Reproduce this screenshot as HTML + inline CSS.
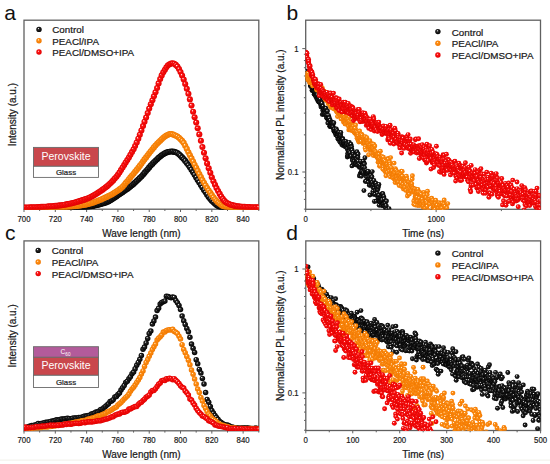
<!DOCTYPE html>
<html><head><meta charset="utf-8"><title>PL figure</title><style>
html,body{margin:0;padding:0;background:#fff;width:550px;height:464px;overflow:hidden}
svg{display:block;font-family:"Liberation Sans", sans-serif}
text{stroke:#1a1a1a;stroke-width:0.22px}
text.w{stroke:none}
</style></head><body>
<svg width="550" height="464" viewBox="0 0 550 464">
<defs>
<radialGradient id="k" cx="50%" cy="50%" r="50%" fx="36%" fy="32%"><stop offset="0" stop-color="#fff"/><stop offset="0.1" stop-color="#d0d0d0"/><stop offset="0.32" stop-color="#2a2a2a"/><stop offset="1" stop-color="#000"/></radialGradient>
<radialGradient id="o" cx="50%" cy="50%" r="50%" fx="36%" fy="32%"><stop offset="0" stop-color="#fff"/><stop offset="0.1" stop-color="#ffe2b8"/><stop offset="0.34" stop-color="#ff8e14"/><stop offset="1" stop-color="#f07800"/></radialGradient>
<radialGradient id="r" cx="50%" cy="50%" r="50%" fx="36%" fy="32%"><stop offset="0" stop-color="#fff"/><stop offset="0.1" stop-color="#ffc4c4"/><stop offset="0.34" stop-color="#ff1414"/><stop offset="1" stop-color="#e00000"/></radialGradient>
<clipPath id="ca"><rect x="24" y="20.2" width="234.6" height="189.2"/></clipPath>
<clipPath id="cb"><rect x="305.7" y="20.2" width="234.6" height="189.3"/></clipPath>
<clipPath id="cc"><rect x="24" y="240.9" width="234.6" height="190.1"/></clipPath>
<clipPath id="cd"><rect x="305.8" y="240.9" width="234.6" height="189.8"/></clipPath>
</defs>
<rect x="0" y="459.4" width="550" height="1.6" fill="#f6f5f1"/>
<rect x="24" y="20.2" width="234.8" height="189.0" fill="none" stroke="#606060" stroke-width="1.3"/>
<rect x="305.7" y="20.2" width="234.8" height="189.1" fill="none" stroke="#606060" stroke-width="1.3"/>
<rect x="24" y="240.9" width="234.8" height="189.9" fill="none" stroke="#606060" stroke-width="1.3"/>
<rect x="305.8" y="240.9" width="234.8" height="189.6" fill="none" stroke="#606060" stroke-width="1.3"/>
<line x1="24.0" y1="209.2" x2="24.0" y2="212.0" stroke="#606060" stroke-width="1"/>
<text transform="translate(24 222) scale(0.86 1)" font-size="9.1" text-anchor="middle" fill="#1a1a1a">700</text>
<line x1="39.65" y1="209.2" x2="39.65" y2="211.0" stroke="#606060" stroke-width="1"/>
<line x1="55.31" y1="209.2" x2="55.31" y2="212.0" stroke="#606060" stroke-width="1"/>
<text transform="translate(55.3 222) scale(0.86 1)" font-size="9.1" text-anchor="middle" fill="#1a1a1a">720</text>
<line x1="70.96" y1="209.2" x2="70.96" y2="211.0" stroke="#606060" stroke-width="1"/>
<line x1="86.61" y1="209.2" x2="86.61" y2="212.0" stroke="#606060" stroke-width="1"/>
<text transform="translate(86.6 222) scale(0.86 1)" font-size="9.1" text-anchor="middle" fill="#1a1a1a">740</text>
<line x1="102.27" y1="209.2" x2="102.27" y2="211.0" stroke="#606060" stroke-width="1"/>
<line x1="117.92" y1="209.2" x2="117.92" y2="212.0" stroke="#606060" stroke-width="1"/>
<text transform="translate(117.9 222) scale(0.86 1)" font-size="9.1" text-anchor="middle" fill="#1a1a1a">760</text>
<line x1="133.57" y1="209.2" x2="133.57" y2="211.0" stroke="#606060" stroke-width="1"/>
<line x1="149.22" y1="209.2" x2="149.22" y2="212.0" stroke="#606060" stroke-width="1"/>
<text transform="translate(149.2 222) scale(0.86 1)" font-size="9.1" text-anchor="middle" fill="#1a1a1a">780</text>
<line x1="164.88" y1="209.2" x2="164.88" y2="211.0" stroke="#606060" stroke-width="1"/>
<line x1="180.53" y1="209.2" x2="180.53" y2="212.0" stroke="#606060" stroke-width="1"/>
<text transform="translate(180.5 222) scale(0.86 1)" font-size="9.1" text-anchor="middle" fill="#1a1a1a">800</text>
<line x1="196.18" y1="209.2" x2="196.18" y2="211.0" stroke="#606060" stroke-width="1"/>
<line x1="211.84" y1="209.2" x2="211.84" y2="212.0" stroke="#606060" stroke-width="1"/>
<text transform="translate(211.8 222) scale(0.86 1)" font-size="9.1" text-anchor="middle" fill="#1a1a1a">820</text>
<line x1="227.49" y1="209.2" x2="227.49" y2="211.0" stroke="#606060" stroke-width="1"/>
<line x1="243.14" y1="209.2" x2="243.14" y2="212.0" stroke="#606060" stroke-width="1"/>
<text transform="translate(243.1 222) scale(0.86 1)" font-size="9.1" text-anchor="middle" fill="#1a1a1a">840</text>
<line x1="258.79" y1="209.2" x2="258.79" y2="211.0" stroke="#606060" stroke-width="1"/>
<text x="141.4" y="237.3" font-size="10" text-anchor="middle" fill="#1a1a1a">Wave length (nm)</text>
<text transform="translate(15.9 114.7) rotate(-90)" font-size="10" text-anchor="middle" fill="#1a1a1a">Intensity (a.u.)</text>
<line x1="24.0" y1="430.8" x2="24.0" y2="433.6" stroke="#606060" stroke-width="1"/>
<text transform="translate(24 443.4) scale(0.86 1)" font-size="9.1" text-anchor="middle" fill="#1a1a1a">700</text>
<line x1="39.65" y1="430.8" x2="39.65" y2="432.6" stroke="#606060" stroke-width="1"/>
<line x1="55.31" y1="430.8" x2="55.31" y2="433.6" stroke="#606060" stroke-width="1"/>
<text transform="translate(55.3 443.4) scale(0.86 1)" font-size="9.1" text-anchor="middle" fill="#1a1a1a">720</text>
<line x1="70.96" y1="430.8" x2="70.96" y2="432.6" stroke="#606060" stroke-width="1"/>
<line x1="86.61" y1="430.8" x2="86.61" y2="433.6" stroke="#606060" stroke-width="1"/>
<text transform="translate(86.6 443.4) scale(0.86 1)" font-size="9.1" text-anchor="middle" fill="#1a1a1a">740</text>
<line x1="102.27" y1="430.8" x2="102.27" y2="432.6" stroke="#606060" stroke-width="1"/>
<line x1="117.92" y1="430.8" x2="117.92" y2="433.6" stroke="#606060" stroke-width="1"/>
<text transform="translate(117.9 443.4) scale(0.86 1)" font-size="9.1" text-anchor="middle" fill="#1a1a1a">760</text>
<line x1="133.57" y1="430.8" x2="133.57" y2="432.6" stroke="#606060" stroke-width="1"/>
<line x1="149.22" y1="430.8" x2="149.22" y2="433.6" stroke="#606060" stroke-width="1"/>
<text transform="translate(149.2 443.4) scale(0.86 1)" font-size="9.1" text-anchor="middle" fill="#1a1a1a">780</text>
<line x1="164.88" y1="430.8" x2="164.88" y2="432.6" stroke="#606060" stroke-width="1"/>
<line x1="180.53" y1="430.8" x2="180.53" y2="433.6" stroke="#606060" stroke-width="1"/>
<text transform="translate(180.5 443.4) scale(0.86 1)" font-size="9.1" text-anchor="middle" fill="#1a1a1a">800</text>
<line x1="196.18" y1="430.8" x2="196.18" y2="432.6" stroke="#606060" stroke-width="1"/>
<line x1="211.84" y1="430.8" x2="211.84" y2="433.6" stroke="#606060" stroke-width="1"/>
<text transform="translate(211.8 443.4) scale(0.86 1)" font-size="9.1" text-anchor="middle" fill="#1a1a1a">820</text>
<line x1="227.49" y1="430.8" x2="227.49" y2="432.6" stroke="#606060" stroke-width="1"/>
<line x1="243.14" y1="430.8" x2="243.14" y2="433.6" stroke="#606060" stroke-width="1"/>
<text transform="translate(243.1 443.4) scale(0.86 1)" font-size="9.1" text-anchor="middle" fill="#1a1a1a">840</text>
<line x1="258.79" y1="430.8" x2="258.79" y2="432.6" stroke="#606060" stroke-width="1"/>
<text x="141.4" y="458.4" font-size="10" text-anchor="middle" fill="#1a1a1a">Wave length (nm)</text>
<text transform="translate(15.9 335.9) rotate(-90)" font-size="10" text-anchor="middle" fill="#1a1a1a">Intensity (a.u.)</text>
<line x1="305.7" y1="209.3" x2="305.7" y2="212.10000000000002" stroke="#606060" stroke-width="1"/>
<text transform="translate(305.7 222) scale(0.86 1)" font-size="9.1" text-anchor="middle" fill="#1a1a1a">0</text>
<line x1="370.92" y1="209.3" x2="370.92" y2="211.10000000000002" stroke="#606060" stroke-width="1"/>
<line x1="436.14" y1="209.3" x2="436.14" y2="212.10000000000002" stroke="#606060" stroke-width="1"/>
<text transform="translate(436.1 222) scale(0.86 1)" font-size="9.1" text-anchor="middle" fill="#1a1a1a">1000</text>
<line x1="501.37" y1="209.3" x2="501.37" y2="211.10000000000002" stroke="#606060" stroke-width="1"/>
<line x1="302.3" y1="48.6" x2="305.7" y2="48.6" stroke="#606060" stroke-width="1"/>
<text transform="translate(298.6 51.7) scale(0.86 1)" font-size="9.1" text-anchor="end" fill="#1a1a1a">1</text>
<line x1="302.3" y1="172.0" x2="305.7" y2="172.0" stroke="#606060" stroke-width="1"/>
<text transform="translate(298.6 175.1) scale(0.86 1)" font-size="9.1" text-anchor="end" fill="#1a1a1a">0.1</text>
<line x1="303.9" y1="134.85" x2="305.7" y2="134.85" stroke="#606060" stroke-width="1"/>
<line x1="303.9" y1="113.12" x2="305.7" y2="113.12" stroke="#606060" stroke-width="1"/>
<line x1="303.9" y1="97.71" x2="305.7" y2="97.71" stroke="#606060" stroke-width="1"/>
<line x1="303.9" y1="85.75" x2="305.7" y2="85.75" stroke="#606060" stroke-width="1"/>
<line x1="303.9" y1="75.98" x2="305.7" y2="75.98" stroke="#606060" stroke-width="1"/>
<line x1="303.9" y1="67.71" x2="305.7" y2="67.71" stroke="#606060" stroke-width="1"/>
<line x1="303.9" y1="60.56" x2="305.7" y2="60.56" stroke="#606060" stroke-width="1"/>
<line x1="303.9" y1="54.25" x2="305.7" y2="54.25" stroke="#606060" stroke-width="1"/>
<line x1="303.9" y1="209.15" x2="305.7" y2="209.15" stroke="#606060" stroke-width="1"/>
<line x1="303.9" y1="199.38" x2="305.7" y2="199.38" stroke="#606060" stroke-width="1"/>
<line x1="303.9" y1="191.11" x2="305.7" y2="191.11" stroke="#606060" stroke-width="1"/>
<line x1="303.9" y1="183.96" x2="305.7" y2="183.96" stroke="#606060" stroke-width="1"/>
<line x1="303.9" y1="177.65" x2="305.7" y2="177.65" stroke="#606060" stroke-width="1"/>
<text x="423.1" y="237.3" font-size="10" text-anchor="middle" fill="#1a1a1a">Time (ns)</text>
<text transform="translate(284.1 114.7) rotate(-90)" font-size="10" text-anchor="middle" fill="#1a1a1a">Normalized PL intensity (a.u.)</text>
<line x1="305.8" y1="430.5" x2="305.8" y2="433.3" stroke="#606060" stroke-width="1"/>
<text transform="translate(305.8 443.4) scale(0.86 1)" font-size="9.1" text-anchor="middle" fill="#1a1a1a">0</text>
<line x1="329.28" y1="430.5" x2="329.28" y2="432.3" stroke="#606060" stroke-width="1"/>
<line x1="352.76" y1="430.5" x2="352.76" y2="433.3" stroke="#606060" stroke-width="1"/>
<text transform="translate(352.8 443.4) scale(0.86 1)" font-size="9.1" text-anchor="middle" fill="#1a1a1a">100</text>
<line x1="376.24" y1="430.5" x2="376.24" y2="432.3" stroke="#606060" stroke-width="1"/>
<line x1="399.72" y1="430.5" x2="399.72" y2="433.3" stroke="#606060" stroke-width="1"/>
<text transform="translate(399.7 443.4) scale(0.86 1)" font-size="9.1" text-anchor="middle" fill="#1a1a1a">200</text>
<line x1="423.2" y1="430.5" x2="423.2" y2="432.3" stroke="#606060" stroke-width="1"/>
<line x1="446.68" y1="430.5" x2="446.68" y2="433.3" stroke="#606060" stroke-width="1"/>
<text transform="translate(446.7 443.4) scale(0.86 1)" font-size="9.1" text-anchor="middle" fill="#1a1a1a">300</text>
<line x1="470.16" y1="430.5" x2="470.16" y2="432.3" stroke="#606060" stroke-width="1"/>
<line x1="493.64" y1="430.5" x2="493.64" y2="433.3" stroke="#606060" stroke-width="1"/>
<text transform="translate(493.6 443.4) scale(0.86 1)" font-size="9.1" text-anchor="middle" fill="#1a1a1a">400</text>
<line x1="517.12" y1="430.5" x2="517.12" y2="432.3" stroke="#606060" stroke-width="1"/>
<line x1="540.6" y1="430.5" x2="540.6" y2="433.3" stroke="#606060" stroke-width="1"/>
<text transform="translate(540.6 443.4) scale(0.86 1)" font-size="9.1" text-anchor="middle" fill="#1a1a1a">500</text>
<line x1="302.4" y1="269.0" x2="305.8" y2="269.0" stroke="#606060" stroke-width="1"/>
<text transform="translate(298.7 272.1) scale(0.86 1)" font-size="9.1" text-anchor="end" fill="#1a1a1a">1</text>
<line x1="302.4" y1="392.9" x2="305.8" y2="392.9" stroke="#606060" stroke-width="1"/>
<text transform="translate(298.7 396) scale(0.86 1)" font-size="9.1" text-anchor="end" fill="#1a1a1a">0.1</text>
<line x1="304.0" y1="355.6" x2="305.8" y2="355.6" stroke="#606060" stroke-width="1"/>
<line x1="304.0" y1="333.78" x2="305.8" y2="333.78" stroke="#606060" stroke-width="1"/>
<line x1="304.0" y1="318.3" x2="305.8" y2="318.3" stroke="#606060" stroke-width="1"/>
<line x1="304.0" y1="306.3" x2="305.8" y2="306.3" stroke="#606060" stroke-width="1"/>
<line x1="304.0" y1="296.49" x2="305.8" y2="296.49" stroke="#606060" stroke-width="1"/>
<line x1="304.0" y1="288.19" x2="305.8" y2="288.19" stroke="#606060" stroke-width="1"/>
<line x1="304.0" y1="281.01" x2="305.8" y2="281.01" stroke="#606060" stroke-width="1"/>
<line x1="304.0" y1="274.67" x2="305.8" y2="274.67" stroke="#606060" stroke-width="1"/>
<line x1="304.0" y1="430.2" x2="305.8" y2="430.2" stroke="#606060" stroke-width="1"/>
<line x1="304.0" y1="420.39" x2="305.8" y2="420.39" stroke="#606060" stroke-width="1"/>
<line x1="304.0" y1="412.09" x2="305.8" y2="412.09" stroke="#606060" stroke-width="1"/>
<line x1="304.0" y1="404.91" x2="305.8" y2="404.91" stroke="#606060" stroke-width="1"/>
<line x1="304.0" y1="398.57" x2="305.8" y2="398.57" stroke="#606060" stroke-width="1"/>
<text x="423.2" y="458.4" font-size="10" text-anchor="middle" fill="#1a1a1a">Time (ns)</text>
<text transform="translate(284.1 335.7) rotate(-90)" font-size="10" text-anchor="middle" fill="#1a1a1a">Normalized PL intensity (a.u.)</text>
<g fill="url(#k)" class="S" clip-path="url(#ca)">
<circle cx="24" cy="208.4" r="3.05"/><circle cx="25.6" cy="208.4" r="3.05"/><circle cx="27.1" cy="208.4" r="3.05"/><circle cx="28.7" cy="208.4" r="3.05"/><circle cx="30.3" cy="208.4" r="3.05"/><circle cx="31.8" cy="208.4" r="3.05"/><circle cx="33.4" cy="208.4" r="3.05"/><circle cx="35" cy="208.4" r="3.05"/><circle cx="36.5" cy="208.4" r="3.05"/><circle cx="38.1" cy="208.3" r="3.05"/><circle cx="39.7" cy="208.3" r="3.05"/><circle cx="41.2" cy="208.3" r="3.05"/><circle cx="42.8" cy="208.3" r="3.05"/><circle cx="44.3" cy="208.3" r="3.05"/><circle cx="45.9" cy="208.3" r="3.05"/><circle cx="47.5" cy="208.2" r="3.05"/><circle cx="49" cy="208.2" r="3.05"/><circle cx="50.6" cy="208.2" r="3.05"/><circle cx="52.2" cy="208.2" r="3.05"/><circle cx="53.7" cy="208.2" r="3.05"/><circle cx="55.3" cy="208.1" r="3.05"/><circle cx="56.9" cy="208.1" r="3.05"/><circle cx="58.4" cy="208.1" r="3.05"/><circle cx="60" cy="208" r="3.05"/><circle cx="61.6" cy="208" r="3.05"/><circle cx="63.1" cy="208" r="3.05"/><circle cx="64.7" cy="207.9" r="3.05"/><circle cx="66.3" cy="207.9" r="3.05"/><circle cx="67.8" cy="207.9" r="3.05"/><circle cx="69.4" cy="207.8" r="3.05"/><circle cx="71" cy="207.8" r="3.05"/><circle cx="72.5" cy="207.7" r="3.05"/><circle cx="74.1" cy="207.7" r="3.05"/><circle cx="75.7" cy="207.6" r="3.05"/><circle cx="77.2" cy="207.6" r="3.05"/><circle cx="78.8" cy="207.5" r="3.05"/><circle cx="80.4" cy="207.5" r="3.05"/><circle cx="81.9" cy="207.4" r="3.05"/><circle cx="83.5" cy="207.3" r="3.05"/><circle cx="85" cy="207.1" r="3.05"/><circle cx="86.6" cy="207" r="3.05"/><circle cx="88.2" cy="206.7" r="3.05"/><circle cx="89.7" cy="206.5" r="3.05"/><circle cx="91.3" cy="206.2" r="3.05"/><circle cx="92.9" cy="205.9" r="3.05"/><circle cx="94.4" cy="205.6" r="3.05"/><circle cx="96" cy="205.2" r="3.05"/><circle cx="97.6" cy="204.9" r="3.05"/><circle cx="99.1" cy="204.5" r="3.05"/><circle cx="100.7" cy="204.1" r="3.05"/><circle cx="102.3" cy="203.6" r="3.05"/><circle cx="103.8" cy="203.2" r="3.05"/><circle cx="105.4" cy="202.7" r="3.05"/><circle cx="107" cy="202.1" r="3.05"/><circle cx="108.5" cy="201.4" r="3.05"/><circle cx="110.1" cy="200.5" r="3.05"/><circle cx="111.7" cy="199.6" r="3.05"/><circle cx="113.2" cy="198.5" r="3.05"/><circle cx="114.8" cy="197.5" r="3.05"/><circle cx="116.4" cy="196.4" r="3.05"/><circle cx="117.9" cy="195.3" r="3.05"/><circle cx="119.5" cy="194.3" r="3.05"/><circle cx="121" cy="193.2" r="3.05"/><circle cx="122.6" cy="192.2" r="3.05"/><circle cx="124.2" cy="191.1" r="3.05"/><circle cx="125.7" cy="190" r="3.05"/><circle cx="127.3" cy="188.9" r="3.05"/><circle cx="128.9" cy="187.7" r="3.05"/><circle cx="130.4" cy="186.5" r="3.05"/><circle cx="132" cy="185.2" r="3.05"/><circle cx="133.6" cy="183.9" r="3.05"/><circle cx="135.1" cy="182.5" r="3.05"/><circle cx="136.7" cy="181.1" r="3.05"/><circle cx="138.3" cy="179.6" r="3.05"/><circle cx="139.8" cy="178.1" r="3.05"/><circle cx="141.4" cy="176.5" r="3.05"/><circle cx="143" cy="174.7" r="3.05"/><circle cx="144.5" cy="172.9" r="3.05"/><circle cx="146.1" cy="171.1" r="3.05"/><circle cx="147.7" cy="169.2" r="3.05"/><circle cx="149.2" cy="167.4" r="3.05"/><circle cx="150.8" cy="165.6" r="3.05"/><circle cx="152.4" cy="163.9" r="3.05"/><circle cx="153.9" cy="162.3" r="3.05"/><circle cx="155.5" cy="160.7" r="3.05"/><circle cx="157.1" cy="159.2" r="3.05"/><circle cx="158.6" cy="157.8" r="3.05"/><circle cx="160.2" cy="156.5" r="3.05"/><circle cx="161.7" cy="155.3" r="3.05"/><circle cx="163.3" cy="154.3" r="3.05"/><circle cx="164.9" cy="153.3" r="3.05"/><circle cx="166.4" cy="152.6" r="3.05"/><circle cx="168" cy="152.1" r="3.05"/><circle cx="169.6" cy="151.7" r="3.05"/><circle cx="171.1" cy="151.5" r="3.05"/><circle cx="172.7" cy="151.6" r="3.05"/><circle cx="174.3" cy="151.9" r="3.05"/><circle cx="175.8" cy="152.3" r="3.05"/><circle cx="177.4" cy="153" r="3.05"/><circle cx="179" cy="154.2" r="3.05"/><circle cx="180.5" cy="155.8" r="3.05"/><circle cx="182.1" cy="157.4" r="3.05"/><circle cx="183.7" cy="159.1" r="3.05"/><circle cx="185.2" cy="160.9" r="3.05"/><circle cx="186.8" cy="163" r="3.05"/><circle cx="188.4" cy="165.1" r="3.05"/><circle cx="189.9" cy="167.3" r="3.05"/><circle cx="191.5" cy="169.7" r="3.05"/><circle cx="193.1" cy="172.2" r="3.05"/><circle cx="194.6" cy="174.8" r="3.05"/><circle cx="196.2" cy="177.4" r="3.05"/><circle cx="197.7" cy="179.9" r="3.05"/><circle cx="199.3" cy="182.5" r="3.05"/><circle cx="200.9" cy="185" r="3.05"/><circle cx="202.4" cy="187.6" r="3.05"/><circle cx="204" cy="190" r="3.05"/><circle cx="205.6" cy="192.3" r="3.05"/><circle cx="207.1" cy="194.7" r="3.05"/><circle cx="208.7" cy="196.9" r="3.05"/><circle cx="210.3" cy="199" r="3.05"/><circle cx="211.8" cy="200.7" r="3.05"/><circle cx="213.4" cy="202.3" r="3.05"/><circle cx="215" cy="203.8" r="3.05"/><circle cx="216.5" cy="205.1" r="3.05"/><circle cx="218.1" cy="206" r="3.05"/><circle cx="219.7" cy="206.8" r="3.05"/><circle cx="221.2" cy="207.5" r="3.05"/><circle cx="222.8" cy="207.9" r="3.05"/><circle cx="224.4" cy="208.1" r="3.05"/><circle cx="225.9" cy="208.1" r="3.05"/><circle cx="227.5" cy="208.2" r="3.05"/><circle cx="229.1" cy="208.2" r="3.05"/><circle cx="230.6" cy="208.3" r="3.05"/><circle cx="232.2" cy="208.3" r="3.05"/><circle cx="233.8" cy="208.3" r="3.05"/><circle cx="235.3" cy="208.3" r="3.05"/><circle cx="236.9" cy="208.4" r="3.05"/><circle cx="238.4" cy="208.4" r="3.05"/><circle cx="240" cy="208.4" r="3.05"/><circle cx="241.6" cy="208.4" r="3.05"/><circle cx="243.1" cy="208.4" r="3.05"/><circle cx="244.7" cy="208.5" r="3.05"/><circle cx="246.3" cy="208.5" r="3.05"/><circle cx="247.8" cy="208.5" r="3.05"/><circle cx="249.4" cy="208.5" r="3.05"/><circle cx="251" cy="208.5" r="3.05"/><circle cx="252.5" cy="208.5" r="3.05"/><circle cx="254.1" cy="208.5" r="3.05"/><circle cx="255.7" cy="208.5" r="3.05"/><circle cx="257.2" cy="208.5" r="3.05"/><circle cx="258.8" cy="208.5" r="3.05"/>
</g>
<g fill="url(#o)" class="S" clip-path="url(#ca)">
<circle cx="24" cy="208.2" r="3.05"/><circle cx="25.6" cy="208.2" r="3.05"/><circle cx="27.1" cy="208.2" r="3.05"/><circle cx="28.7" cy="208.2" r="3.05"/><circle cx="30.3" cy="208.2" r="3.05"/><circle cx="31.8" cy="208.2" r="3.05"/><circle cx="33.4" cy="208.1" r="3.05"/><circle cx="35" cy="208.1" r="3.05"/><circle cx="36.5" cy="208.1" r="3.05"/><circle cx="38.1" cy="208.1" r="3.05"/><circle cx="39.7" cy="208" r="3.05"/><circle cx="41.2" cy="208" r="3.05"/><circle cx="42.8" cy="208" r="3.05"/><circle cx="44.3" cy="207.9" r="3.05"/><circle cx="45.9" cy="207.9" r="3.05"/><circle cx="47.5" cy="207.8" r="3.05"/><circle cx="49" cy="207.8" r="3.05"/><circle cx="50.6" cy="207.7" r="3.05"/><circle cx="52.2" cy="207.7" r="3.05"/><circle cx="53.7" cy="207.6" r="3.05"/><circle cx="55.3" cy="207.6" r="3.05"/><circle cx="56.9" cy="207.5" r="3.05"/><circle cx="58.4" cy="207.5" r="3.05"/><circle cx="60" cy="207.4" r="3.05"/><circle cx="61.6" cy="207.3" r="3.05"/><circle cx="63.1" cy="207.2" r="3.05"/><circle cx="64.7" cy="207.2" r="3.05"/><circle cx="66.3" cy="207" r="3.05"/><circle cx="67.8" cy="206.9" r="3.05"/><circle cx="69.4" cy="206.8" r="3.05"/><circle cx="71" cy="206.6" r="3.05"/><circle cx="72.5" cy="206.4" r="3.05"/><circle cx="74.1" cy="206.3" r="3.05"/><circle cx="75.7" cy="206.1" r="3.05"/><circle cx="77.2" cy="205.9" r="3.05"/><circle cx="78.8" cy="205.7" r="3.05"/><circle cx="80.4" cy="205.4" r="3.05"/><circle cx="81.9" cy="205.2" r="3.05"/><circle cx="83.5" cy="204.9" r="3.05"/><circle cx="85" cy="204.7" r="3.05"/><circle cx="86.6" cy="204.4" r="3.05"/><circle cx="88.2" cy="204" r="3.05"/><circle cx="89.7" cy="203.6" r="3.05"/><circle cx="91.3" cy="203.2" r="3.05"/><circle cx="92.9" cy="202.7" r="3.05"/><circle cx="94.4" cy="202.1" r="3.05"/><circle cx="96" cy="201.6" r="3.05"/><circle cx="97.6" cy="201" r="3.05"/><circle cx="99.1" cy="200.3" r="3.05"/><circle cx="100.7" cy="199.7" r="3.05"/><circle cx="102.3" cy="199" r="3.05"/><circle cx="103.8" cy="198.3" r="3.05"/><circle cx="105.4" cy="197.6" r="3.05"/><circle cx="107" cy="196.9" r="3.05"/><circle cx="108.5" cy="196.1" r="3.05"/><circle cx="110.1" cy="195.3" r="3.05"/><circle cx="111.7" cy="194.5" r="3.05"/><circle cx="113.2" cy="193.6" r="3.05"/><circle cx="114.8" cy="192.6" r="3.05"/><circle cx="116.4" cy="191.6" r="3.05"/><circle cx="117.9" cy="190.5" r="3.05"/><circle cx="119.5" cy="189.4" r="3.05"/><circle cx="121" cy="188.2" r="3.05"/><circle cx="122.6" cy="186.7" r="3.05"/><circle cx="124.2" cy="185" r="3.05"/><circle cx="125.7" cy="183.1" r="3.05"/><circle cx="127.3" cy="181.2" r="3.05"/><circle cx="128.9" cy="179.3" r="3.05"/><circle cx="130.4" cy="177.4" r="3.05"/><circle cx="132" cy="175.6" r="3.05"/><circle cx="133.6" cy="173.7" r="3.05"/><circle cx="135.1" cy="171.8" r="3.05"/><circle cx="136.7" cy="169.9" r="3.05"/><circle cx="138.3" cy="167.9" r="3.05"/><circle cx="139.8" cy="165.9" r="3.05"/><circle cx="141.4" cy="163.8" r="3.05"/><circle cx="143" cy="161.6" r="3.05"/><circle cx="144.5" cy="159.4" r="3.05"/><circle cx="146.1" cy="157.4" r="3.05"/><circle cx="147.7" cy="155.3" r="3.05"/><circle cx="149.2" cy="153.2" r="3.05"/><circle cx="150.8" cy="151.2" r="3.05"/><circle cx="152.4" cy="149.2" r="3.05"/><circle cx="153.9" cy="147.4" r="3.05"/><circle cx="155.5" cy="145.5" r="3.05"/><circle cx="157.1" cy="143.8" r="3.05"/><circle cx="158.6" cy="142.2" r="3.05"/><circle cx="160.2" cy="140.7" r="3.05"/><circle cx="161.7" cy="139.2" r="3.05"/><circle cx="163.3" cy="137.8" r="3.05"/><circle cx="164.9" cy="136.5" r="3.05"/><circle cx="166.4" cy="135.6" r="3.05"/><circle cx="168" cy="134.7" r="3.05"/><circle cx="169.6" cy="134.1" r="3.05"/><circle cx="171.1" cy="134" r="3.05"/><circle cx="172.7" cy="134.4" r="3.05"/><circle cx="174.3" cy="135" r="3.05"/><circle cx="175.8" cy="135.7" r="3.05"/><circle cx="177.4" cy="136.6" r="3.05"/><circle cx="179" cy="137.8" r="3.05"/><circle cx="180.5" cy="139.2" r="3.05"/><circle cx="182.1" cy="140.9" r="3.05"/><circle cx="183.7" cy="142.9" r="3.05"/><circle cx="185.2" cy="145.7" r="3.05"/><circle cx="186.8" cy="148.9" r="3.05"/><circle cx="188.4" cy="152.2" r="3.05"/><circle cx="189.9" cy="155.3" r="3.05"/><circle cx="191.5" cy="158.4" r="3.05"/><circle cx="193.1" cy="161.5" r="3.05"/><circle cx="194.6" cy="164.7" r="3.05"/><circle cx="196.2" cy="167.8" r="3.05"/><circle cx="197.7" cy="170.9" r="3.05"/><circle cx="199.3" cy="174" r="3.05"/><circle cx="200.9" cy="177" r="3.05"/><circle cx="202.4" cy="180" r="3.05"/><circle cx="204" cy="182.8" r="3.05"/><circle cx="205.6" cy="185.5" r="3.05"/><circle cx="207.1" cy="188.1" r="3.05"/><circle cx="208.7" cy="190.6" r="3.05"/><circle cx="210.3" cy="192.9" r="3.05"/><circle cx="211.8" cy="195.1" r="3.05"/><circle cx="213.4" cy="197.2" r="3.05"/><circle cx="215" cy="199.2" r="3.05"/><circle cx="216.5" cy="201" r="3.05"/><circle cx="218.1" cy="202.5" r="3.05"/><circle cx="219.7" cy="203.8" r="3.05"/><circle cx="221.2" cy="205.1" r="3.05"/><circle cx="222.8" cy="206" r="3.05"/><circle cx="224.4" cy="206.6" r="3.05"/><circle cx="225.9" cy="206.9" r="3.05"/><circle cx="227.5" cy="207.2" r="3.05"/><circle cx="229.1" cy="207.5" r="3.05"/><circle cx="230.6" cy="207.7" r="3.05"/><circle cx="232.2" cy="207.9" r="3.05"/><circle cx="233.8" cy="208" r="3.05"/><circle cx="235.3" cy="208" r="3.05"/><circle cx="236.9" cy="208" r="3.05"/><circle cx="238.4" cy="208.1" r="3.05"/><circle cx="240" cy="208.1" r="3.05"/><circle cx="241.6" cy="208.1" r="3.05"/><circle cx="243.1" cy="208.1" r="3.05"/><circle cx="244.7" cy="208.1" r="3.05"/><circle cx="246.3" cy="208.1" r="3.05"/><circle cx="247.8" cy="208.2" r="3.05"/><circle cx="249.4" cy="208.2" r="3.05"/><circle cx="251" cy="208.2" r="3.05"/><circle cx="252.5" cy="208.2" r="3.05"/><circle cx="254.1" cy="208.2" r="3.05"/><circle cx="255.7" cy="208.2" r="3.05"/><circle cx="257.2" cy="208.2" r="3.05"/><circle cx="258.8" cy="208.2" r="3.05"/>
</g>
<g fill="url(#r)" class="S" clip-path="url(#ca)">
<circle cx="24" cy="207.6" r="3.05"/><circle cx="25.6" cy="207.6" r="3.05"/><circle cx="27.1" cy="207.5" r="3.05"/><circle cx="28.7" cy="207.5" r="3.05"/><circle cx="30.3" cy="207.4" r="3.05"/><circle cx="31.8" cy="207.4" r="3.05"/><circle cx="33.4" cy="207.3" r="3.05"/><circle cx="35" cy="207.2" r="3.05"/><circle cx="36.5" cy="207.2" r="3.05"/><circle cx="38.1" cy="207.1" r="3.05"/><circle cx="39.7" cy="207" r="3.05"/><circle cx="41.2" cy="206.9" r="3.05"/><circle cx="42.8" cy="206.9" r="3.05"/><circle cx="44.3" cy="206.8" r="3.05"/><circle cx="45.9" cy="206.7" r="3.05"/><circle cx="47.5" cy="206.6" r="3.05"/><circle cx="49" cy="206.4" r="3.05"/><circle cx="50.6" cy="206.3" r="3.05"/><circle cx="52.2" cy="206.2" r="3.05"/><circle cx="53.7" cy="206.1" r="3.05"/><circle cx="55.3" cy="205.9" r="3.05"/><circle cx="56.9" cy="205.7" r="3.05"/><circle cx="58.4" cy="205.6" r="3.05"/><circle cx="60" cy="205.4" r="3.05"/><circle cx="61.6" cy="205.2" r="3.05"/><circle cx="63.1" cy="205" r="3.05"/><circle cx="64.7" cy="204.7" r="3.05"/><circle cx="66.3" cy="204.4" r="3.05"/><circle cx="67.8" cy="204.1" r="3.05"/><circle cx="69.4" cy="203.8" r="3.05"/><circle cx="71" cy="203.5" r="3.05"/><circle cx="72.5" cy="203.1" r="3.05"/><circle cx="74.1" cy="202.7" r="3.05"/><circle cx="75.7" cy="202.3" r="3.05"/><circle cx="77.2" cy="201.8" r="3.05"/><circle cx="78.8" cy="201.4" r="3.05"/><circle cx="80.4" cy="200.9" r="3.05"/><circle cx="81.9" cy="200.4" r="3.05"/><circle cx="83.5" cy="199.9" r="3.05"/><circle cx="85" cy="199.4" r="3.05"/><circle cx="86.6" cy="198.8" r="3.05"/><circle cx="88.2" cy="198.2" r="3.05"/><circle cx="89.7" cy="197.5" r="3.05"/><circle cx="91.3" cy="196.7" r="3.05"/><circle cx="92.9" cy="195.9" r="3.05"/><circle cx="94.4" cy="195" r="3.05"/><circle cx="96" cy="194.1" r="3.05"/><circle cx="97.6" cy="193.1" r="3.05"/><circle cx="99.1" cy="192.1" r="3.05"/><circle cx="100.7" cy="191" r="3.05"/><circle cx="102.3" cy="189.9" r="3.05"/><circle cx="103.8" cy="188.8" r="3.05"/><circle cx="105.4" cy="187.6" r="3.05"/><circle cx="107" cy="186.4" r="3.05"/><circle cx="108.5" cy="185" r="3.05"/><circle cx="110.1" cy="183.5" r="3.05"/><circle cx="111.7" cy="182" r="3.05"/><circle cx="113.2" cy="180.4" r="3.05"/><circle cx="114.8" cy="178.6" r="3.05"/><circle cx="116.4" cy="176.8" r="3.05"/><circle cx="117.9" cy="174.8" r="3.05"/><circle cx="119.5" cy="172.6" r="3.05"/><circle cx="121" cy="170.1" r="3.05"/><circle cx="122.6" cy="167.6" r="3.05"/><circle cx="124.2" cy="165" r="3.05"/><circle cx="125.7" cy="162.5" r="3.05"/><circle cx="127.3" cy="160" r="3.05"/><circle cx="128.9" cy="157.5" r="3.05"/><circle cx="130.4" cy="154.8" r="3.05"/><circle cx="132" cy="152.1" r="3.05"/><circle cx="133.6" cy="149.2" r="3.05"/><circle cx="135.1" cy="146" r="3.05"/><circle cx="136.7" cy="142.5" r="3.05"/><circle cx="138.3" cy="138.7" r="3.05"/><circle cx="139.8" cy="134.7" r="3.05"/><circle cx="141.4" cy="130.5" r="3.05"/><circle cx="143" cy="126.1" r="3.05"/><circle cx="144.5" cy="121.8" r="3.05"/><circle cx="146.1" cy="117.5" r="3.05"/><circle cx="147.7" cy="113" r="3.05"/><circle cx="149.2" cy="108.5" r="3.05"/><circle cx="150.8" cy="104.2" r="3.05"/><circle cx="152.4" cy="100.2" r="3.05"/><circle cx="153.9" cy="96.3" r="3.05"/><circle cx="155.5" cy="92.3" r="3.05"/><circle cx="157.1" cy="88.1" r="3.05"/><circle cx="158.6" cy="83.4" r="3.05"/><circle cx="160.2" cy="79" r="3.05"/><circle cx="161.7" cy="75.4" r="3.05"/><circle cx="163.3" cy="72.3" r="3.05"/><circle cx="164.9" cy="69.7" r="3.05"/><circle cx="166.4" cy="67.3" r="3.05"/><circle cx="168" cy="65.3" r="3.05"/><circle cx="169.6" cy="64.2" r="3.05"/><circle cx="171.1" cy="63.6" r="3.05"/><circle cx="172.7" cy="63.3" r="3.05"/><circle cx="174.3" cy="63.8" r="3.05"/><circle cx="175.8" cy="64.9" r="3.05"/><circle cx="177.4" cy="66.5" r="3.05"/><circle cx="179" cy="69.1" r="3.05"/><circle cx="180.5" cy="72" r="3.05"/><circle cx="182.1" cy="75.5" r="3.05"/><circle cx="183.7" cy="79.5" r="3.05"/><circle cx="185.2" cy="84" r="3.05"/><circle cx="186.8" cy="88.8" r="3.05"/><circle cx="188.4" cy="93.8" r="3.05"/><circle cx="189.9" cy="99.4" r="3.05"/><circle cx="191.5" cy="105.6" r="3.05"/><circle cx="193.1" cy="111.7" r="3.05"/><circle cx="194.6" cy="117.2" r="3.05"/><circle cx="196.2" cy="122.6" r="3.05"/><circle cx="197.7" cy="128.2" r="3.05"/><circle cx="199.3" cy="134.4" r="3.05"/><circle cx="200.9" cy="140.8" r="3.05"/><circle cx="202.4" cy="147" r="3.05"/><circle cx="204" cy="152.7" r="3.05"/><circle cx="205.6" cy="158.2" r="3.05"/><circle cx="207.1" cy="163.4" r="3.05"/><circle cx="208.7" cy="168.2" r="3.05"/><circle cx="210.3" cy="172.8" r="3.05"/><circle cx="211.8" cy="177.2" r="3.05"/><circle cx="213.4" cy="181.2" r="3.05"/><circle cx="215" cy="184.8" r="3.05"/><circle cx="216.5" cy="188.1" r="3.05"/><circle cx="218.1" cy="191.1" r="3.05"/><circle cx="219.7" cy="193.9" r="3.05"/><circle cx="221.2" cy="196.5" r="3.05"/><circle cx="222.8" cy="198.9" r="3.05"/><circle cx="224.4" cy="200.9" r="3.05"/><circle cx="225.9" cy="202.2" r="3.05"/><circle cx="227.5" cy="203.2" r="3.05"/><circle cx="229.1" cy="204.1" r="3.05"/><circle cx="230.6" cy="204.7" r="3.05"/><circle cx="232.2" cy="205.1" r="3.05"/><circle cx="233.8" cy="205.6" r="3.05"/><circle cx="235.3" cy="205.9" r="3.05"/><circle cx="236.9" cy="206.2" r="3.05"/><circle cx="238.4" cy="206.4" r="3.05"/><circle cx="240" cy="206.6" r="3.05"/><circle cx="241.6" cy="206.7" r="3.05"/><circle cx="243.1" cy="206.8" r="3.05"/><circle cx="244.7" cy="206.9" r="3.05"/><circle cx="246.3" cy="207" r="3.05"/><circle cx="247.8" cy="207" r="3.05"/><circle cx="249.4" cy="207.1" r="3.05"/><circle cx="251" cy="207.2" r="3.05"/><circle cx="252.5" cy="207.2" r="3.05"/><circle cx="254.1" cy="207.3" r="3.05"/><circle cx="255.7" cy="207.3" r="3.05"/><circle cx="257.2" cy="207.4" r="3.05"/><circle cx="258.8" cy="207.4" r="3.05"/>
</g>
<g fill="url(#k)" class="S2" clip-path="url(#cc)">
<circle cx="24" cy="427.8" r="2.75"/><circle cx="25.6" cy="427.7" r="2.75"/><circle cx="27.1" cy="427.3" r="2.75"/><circle cx="28.7" cy="426.4" r="2.75"/><circle cx="30.3" cy="426" r="2.75"/><circle cx="31.8" cy="425.5" r="2.75"/><circle cx="33.4" cy="425.4" r="2.75"/><circle cx="35" cy="424.9" r="2.75"/><circle cx="36.5" cy="424.7" r="2.75"/><circle cx="38.1" cy="423.6" r="2.75"/><circle cx="39.7" cy="424.2" r="2.75"/><circle cx="41.2" cy="423.4" r="2.75"/><circle cx="42.8" cy="423.3" r="2.75"/><circle cx="44.3" cy="422.7" r="2.75"/><circle cx="45.9" cy="422.3" r="2.75"/><circle cx="47.5" cy="422.2" r="2.75"/><circle cx="49" cy="422" r="2.75"/><circle cx="50.6" cy="421.4" r="2.75"/><circle cx="52.2" cy="421.1" r="2.75"/><circle cx="53.7" cy="421.1" r="2.75"/><circle cx="55.3" cy="420.3" r="2.75"/><circle cx="56.9" cy="419.8" r="2.75"/><circle cx="58.4" cy="420.2" r="2.75"/><circle cx="60" cy="419.6" r="2.75"/><circle cx="61.6" cy="418.9" r="2.75"/><circle cx="63.1" cy="419.1" r="2.75"/><circle cx="64.7" cy="419" r="2.75"/><circle cx="66.3" cy="418.6" r="2.75"/><circle cx="67.8" cy="418.3" r="2.75"/><circle cx="69.4" cy="418.7" r="2.75"/><circle cx="71" cy="418.8" r="2.75"/><circle cx="72.5" cy="418.2" r="2.75"/><circle cx="74.1" cy="417.9" r="2.75"/><circle cx="75.7" cy="418.1" r="2.75"/><circle cx="77.2" cy="418" r="2.75"/><circle cx="78.8" cy="417.4" r="2.75"/><circle cx="80.4" cy="417.4" r="2.75"/><circle cx="81.9" cy="417.3" r="2.75"/><circle cx="83.5" cy="416.6" r="2.75"/><circle cx="85" cy="416" r="2.75"/><circle cx="86.6" cy="416" r="2.75"/><circle cx="88.2" cy="415.6" r="2.75"/><circle cx="89.7" cy="415.5" r="2.75"/><circle cx="91.3" cy="414" r="2.75"/><circle cx="92.9" cy="413.7" r="2.75"/><circle cx="94.4" cy="413.1" r="2.75"/><circle cx="96" cy="412.1" r="2.75"/><circle cx="97.6" cy="412" r="2.75"/><circle cx="99.1" cy="411.1" r="2.75"/><circle cx="100.7" cy="409.5" r="2.75"/><circle cx="102.3" cy="409.2" r="2.75"/><circle cx="103.8" cy="407.8" r="2.75"/><circle cx="105.4" cy="406.5" r="2.75"/><circle cx="107" cy="405" r="2.75"/><circle cx="108.5" cy="403.8" r="2.75"/><circle cx="110.1" cy="401.4" r="2.75"/><circle cx="111.7" cy="401" r="2.75"/><circle cx="113.2" cy="399.7" r="2.75"/><circle cx="114.8" cy="397.1" r="2.75"/><circle cx="116.4" cy="396.6" r="2.75"/><circle cx="117.9" cy="394.5" r="2.75"/><circle cx="119.5" cy="392.9" r="2.75"/><circle cx="121" cy="389.9" r="2.75"/><circle cx="122.6" cy="387.7" r="2.75"/><circle cx="124.2" cy="385.6" r="2.75"/><circle cx="125.7" cy="382.6" r="2.75"/><circle cx="127.3" cy="381.3" r="2.75"/><circle cx="128.9" cy="378.7" r="2.75"/><circle cx="130.4" cy="376.8" r="2.75"/><circle cx="132" cy="373.7" r="2.75"/><circle cx="133.6" cy="372" r="2.75"/><circle cx="135.1" cy="368.8" r="2.75"/><circle cx="136.7" cy="365.2" r="2.75"/><circle cx="138.3" cy="362.5" r="2.75"/><circle cx="139.8" cy="359.2" r="2.75"/><circle cx="141.4" cy="355.6" r="2.75"/><circle cx="143" cy="349.2" r="2.75"/><circle cx="144.5" cy="347.1" r="2.75"/><circle cx="146.1" cy="342.9" r="2.75"/><circle cx="147.7" cy="338.4" r="2.75"/><circle cx="149.2" cy="333.5" r="2.75"/><circle cx="150.8" cy="330.9" r="2.75"/><circle cx="152.4" cy="324.1" r="2.75"/><circle cx="153.9" cy="320.9" r="2.75"/><circle cx="155.5" cy="317.1" r="2.75"/><circle cx="157.1" cy="310.6" r="2.75"/><circle cx="158.6" cy="308.3" r="2.75"/><circle cx="160.2" cy="304" r="2.75"/><circle cx="161.7" cy="302.5" r="2.75"/><circle cx="163.3" cy="301.7" r="2.75"/><circle cx="164.9" cy="300.9" r="2.75"/><circle cx="166.4" cy="296.3" r="2.75"/><circle cx="168" cy="296.6" r="2.75"/><circle cx="169.6" cy="297.2" r="2.75"/><circle cx="171.1" cy="297.8" r="2.75"/><circle cx="172.7" cy="297.1" r="2.75"/><circle cx="174.3" cy="297.4" r="2.75"/><circle cx="175.8" cy="300.5" r="2.75"/><circle cx="177.4" cy="302.7" r="2.75"/><circle cx="179" cy="305.4" r="2.75"/><circle cx="180.5" cy="309.6" r="2.75"/><circle cx="182.1" cy="316" r="2.75"/><circle cx="183.7" cy="320.8" r="2.75"/><circle cx="185.2" cy="324.5" r="2.75"/><circle cx="186.8" cy="328.4" r="2.75"/><circle cx="188.4" cy="331.8" r="2.75"/><circle cx="189.9" cy="337.3" r="2.75"/><circle cx="191.5" cy="343.9" r="2.75"/><circle cx="193.1" cy="348.2" r="2.75"/><circle cx="194.6" cy="352.5" r="2.75"/><circle cx="196.2" cy="359.7" r="2.75"/><circle cx="197.7" cy="363.8" r="2.75"/><circle cx="199.3" cy="369.4" r="2.75"/><circle cx="200.9" cy="373.1" r="2.75"/><circle cx="202.4" cy="378.4" r="2.75"/><circle cx="204" cy="383.9" r="2.75"/><circle cx="205.6" cy="392.6" r="2.75"/><circle cx="207.1" cy="399.4" r="2.75"/><circle cx="208.7" cy="402.3" r="2.75"/><circle cx="210.3" cy="406.5" r="2.75"/><circle cx="211.8" cy="410.6" r="2.75"/><circle cx="213.4" cy="413" r="2.75"/><circle cx="215" cy="415.5" r="2.75"/><circle cx="216.5" cy="417.5" r="2.75"/><circle cx="218.1" cy="419.5" r="2.75"/><circle cx="219.7" cy="421.4" r="2.75"/><circle cx="221.2" cy="422.4" r="2.75"/><circle cx="222.8" cy="423.8" r="2.75"/><circle cx="224.4" cy="424.4" r="2.75"/><circle cx="225.9" cy="425.3" r="2.75"/><circle cx="227.5" cy="425.1" r="2.75"/><circle cx="229.1" cy="425.8" r="2.75"/><circle cx="230.6" cy="426.9" r="2.75"/><circle cx="232.2" cy="426.9" r="2.75"/><circle cx="233.8" cy="427.5" r="2.75"/><circle cx="235.3" cy="427.8" r="2.75"/><circle cx="236.9" cy="428.1" r="2.75"/><circle cx="238.4" cy="428.1" r="2.75"/><circle cx="240" cy="428.2" r="2.75"/><circle cx="241.6" cy="428" r="2.75"/><circle cx="243.1" cy="427.9" r="2.75"/><circle cx="244.7" cy="428" r="2.75"/><circle cx="246.3" cy="428.1" r="2.75"/><circle cx="247.8" cy="428" r="2.75"/><circle cx="249.4" cy="428.2" r="2.75"/><circle cx="251" cy="428.4" r="2.75"/><circle cx="252.5" cy="428.5" r="2.75"/><circle cx="254.1" cy="428.4" r="2.75"/><circle cx="255.7" cy="428" r="2.75"/><circle cx="257.2" cy="428.5" r="2.75"/><circle cx="258.8" cy="428.6" r="2.75"/>
</g>
<g fill="url(#o)" class="S2" clip-path="url(#cc)">
<circle cx="24" cy="428.6" r="2.75"/><circle cx="25.6" cy="428.7" r="2.75"/><circle cx="27.1" cy="428.6" r="2.75"/><circle cx="28.7" cy="428.5" r="2.75"/><circle cx="30.3" cy="428.6" r="2.75"/><circle cx="31.8" cy="428" r="2.75"/><circle cx="33.4" cy="428" r="2.75"/><circle cx="35" cy="427.7" r="2.75"/><circle cx="36.5" cy="427.8" r="2.75"/><circle cx="38.1" cy="427.8" r="2.75"/><circle cx="39.7" cy="427.5" r="2.75"/><circle cx="41.2" cy="427.4" r="2.75"/><circle cx="42.8" cy="426.8" r="2.75"/><circle cx="44.3" cy="427" r="2.75"/><circle cx="45.9" cy="426.7" r="2.75"/><circle cx="47.5" cy="427" r="2.75"/><circle cx="49" cy="426.6" r="2.75"/><circle cx="50.6" cy="426.4" r="2.75"/><circle cx="52.2" cy="426" r="2.75"/><circle cx="53.7" cy="426" r="2.75"/><circle cx="55.3" cy="425.8" r="2.75"/><circle cx="56.9" cy="425.4" r="2.75"/><circle cx="58.4" cy="425.1" r="2.75"/><circle cx="60" cy="425" r="2.75"/><circle cx="61.6" cy="424.7" r="2.75"/><circle cx="63.1" cy="424.4" r="2.75"/><circle cx="64.7" cy="424.2" r="2.75"/><circle cx="66.3" cy="423.9" r="2.75"/><circle cx="67.8" cy="423.9" r="2.75"/><circle cx="69.4" cy="423.2" r="2.75"/><circle cx="71" cy="423.4" r="2.75"/><circle cx="72.5" cy="422.8" r="2.75"/><circle cx="74.1" cy="422.5" r="2.75"/><circle cx="75.7" cy="422" r="2.75"/><circle cx="77.2" cy="421.9" r="2.75"/><circle cx="78.8" cy="421.5" r="2.75"/><circle cx="80.4" cy="421.3" r="2.75"/><circle cx="81.9" cy="420.7" r="2.75"/><circle cx="83.5" cy="420.5" r="2.75"/><circle cx="85" cy="420.5" r="2.75"/><circle cx="86.6" cy="419.8" r="2.75"/><circle cx="88.2" cy="419.1" r="2.75"/><circle cx="89.7" cy="419" r="2.75"/><circle cx="91.3" cy="418.3" r="2.75"/><circle cx="92.9" cy="418" r="2.75"/><circle cx="94.4" cy="417.5" r="2.75"/><circle cx="96" cy="416.8" r="2.75"/><circle cx="97.6" cy="415.9" r="2.75"/><circle cx="99.1" cy="415.7" r="2.75"/><circle cx="100.7" cy="415.4" r="2.75"/><circle cx="102.3" cy="414.5" r="2.75"/><circle cx="103.8" cy="414" r="2.75"/><circle cx="105.4" cy="413.4" r="2.75"/><circle cx="107" cy="412.1" r="2.75"/><circle cx="108.5" cy="411.7" r="2.75"/><circle cx="110.1" cy="410.8" r="2.75"/><circle cx="111.7" cy="409.7" r="2.75"/><circle cx="113.2" cy="408.7" r="2.75"/><circle cx="114.8" cy="407.7" r="2.75"/><circle cx="116.4" cy="406.9" r="2.75"/><circle cx="117.9" cy="405.1" r="2.75"/><circle cx="119.5" cy="403.7" r="2.75"/><circle cx="121" cy="402.6" r="2.75"/><circle cx="122.6" cy="400.7" r="2.75"/><circle cx="124.2" cy="398.9" r="2.75"/><circle cx="125.7" cy="397.4" r="2.75"/><circle cx="127.3" cy="396" r="2.75"/><circle cx="128.9" cy="394.1" r="2.75"/><circle cx="130.4" cy="391.3" r="2.75"/><circle cx="132" cy="388.9" r="2.75"/><circle cx="133.6" cy="387.3" r="2.75"/><circle cx="135.1" cy="384.9" r="2.75"/><circle cx="136.7" cy="382.5" r="2.75"/><circle cx="138.3" cy="380.1" r="2.75"/><circle cx="139.8" cy="377.5" r="2.75"/><circle cx="141.4" cy="374.1" r="2.75"/><circle cx="143" cy="370.9" r="2.75"/><circle cx="144.5" cy="366.4" r="2.75"/><circle cx="146.1" cy="362.5" r="2.75"/><circle cx="147.7" cy="359.6" r="2.75"/><circle cx="149.2" cy="356.3" r="2.75"/><circle cx="150.8" cy="352.9" r="2.75"/><circle cx="152.4" cy="349.6" r="2.75"/><circle cx="153.9" cy="346.7" r="2.75"/><circle cx="155.5" cy="344" r="2.75"/><circle cx="157.1" cy="340.1" r="2.75"/><circle cx="158.6" cy="338.2" r="2.75"/><circle cx="160.2" cy="336.7" r="2.75"/><circle cx="161.7" cy="335" r="2.75"/><circle cx="163.3" cy="332.1" r="2.75"/><circle cx="164.9" cy="332.1" r="2.75"/><circle cx="166.4" cy="330.4" r="2.75"/><circle cx="168" cy="329.9" r="2.75"/><circle cx="169.6" cy="329.7" r="2.75"/><circle cx="171.1" cy="330" r="2.75"/><circle cx="172.7" cy="329.3" r="2.75"/><circle cx="174.3" cy="331.6" r="2.75"/><circle cx="175.8" cy="332.2" r="2.75"/><circle cx="177.4" cy="333.6" r="2.75"/><circle cx="179" cy="336.3" r="2.75"/><circle cx="180.5" cy="339" r="2.75"/><circle cx="182.1" cy="344.7" r="2.75"/><circle cx="183.7" cy="349.5" r="2.75"/><circle cx="185.2" cy="352.7" r="2.75"/><circle cx="186.8" cy="356.4" r="2.75"/><circle cx="188.4" cy="360.2" r="2.75"/><circle cx="189.9" cy="364.7" r="2.75"/><circle cx="191.5" cy="369.9" r="2.75"/><circle cx="193.1" cy="374.2" r="2.75"/><circle cx="194.6" cy="378.9" r="2.75"/><circle cx="196.2" cy="383.9" r="2.75"/><circle cx="197.7" cy="389" r="2.75"/><circle cx="199.3" cy="392.6" r="2.75"/><circle cx="200.9" cy="397.4" r="2.75"/><circle cx="202.4" cy="400.9" r="2.75"/><circle cx="204" cy="405.4" r="2.75"/><circle cx="205.6" cy="408.4" r="2.75"/><circle cx="207.1" cy="411.6" r="2.75"/><circle cx="208.7" cy="413.9" r="2.75"/><circle cx="210.3" cy="415.8" r="2.75"/><circle cx="211.8" cy="418" r="2.75"/><circle cx="213.4" cy="419.5" r="2.75"/><circle cx="215" cy="420.5" r="2.75"/><circle cx="216.5" cy="421.7" r="2.75"/><circle cx="218.1" cy="423.2" r="2.75"/><circle cx="219.7" cy="424" r="2.75"/><circle cx="221.2" cy="425.3" r="2.75"/><circle cx="222.8" cy="425.3" r="2.75"/><circle cx="224.4" cy="425.8" r="2.75"/><circle cx="225.9" cy="426.5" r="2.75"/><circle cx="227.5" cy="426.6" r="2.75"/><circle cx="229.1" cy="427.2" r="2.75"/><circle cx="230.6" cy="428" r="2.75"/><circle cx="232.2" cy="428" r="2.75"/><circle cx="233.8" cy="428.1" r="2.75"/><circle cx="235.3" cy="428.1" r="2.75"/><circle cx="236.9" cy="428.5" r="2.75"/><circle cx="238.4" cy="428.5" r="2.75"/><circle cx="240" cy="428.5" r="2.75"/><circle cx="241.6" cy="428.5" r="2.75"/><circle cx="243.1" cy="428.6" r="2.75"/><circle cx="244.7" cy="428.7" r="2.75"/><circle cx="246.3" cy="428.5" r="2.75"/><circle cx="247.8" cy="428.8" r="2.75"/><circle cx="249.4" cy="428.4" r="2.75"/><circle cx="251" cy="428.5" r="2.75"/><circle cx="252.5" cy="428.7" r="2.75"/><circle cx="254.1" cy="428.8" r="2.75"/><circle cx="255.7" cy="428.6" r="2.75"/><circle cx="257.2" cy="428.9" r="2.75"/><circle cx="258.8" cy="429" r="2.75"/>
</g>
<g fill="url(#r)" class="S2" clip-path="url(#cc)">
<circle cx="24" cy="428.5" r="2.75"/><circle cx="25.6" cy="427" r="2.75"/><circle cx="27.1" cy="427.9" r="2.75"/><circle cx="28.7" cy="427.5" r="2.75"/><circle cx="30.3" cy="427.7" r="2.75"/><circle cx="31.8" cy="427.3" r="2.75"/><circle cx="33.4" cy="427.6" r="2.75"/><circle cx="35" cy="426.9" r="2.75"/><circle cx="36.5" cy="426.6" r="2.75"/><circle cx="38.1" cy="426.8" r="2.75"/><circle cx="39.7" cy="426.6" r="2.75"/><circle cx="41.2" cy="426.2" r="2.75"/><circle cx="42.8" cy="426.1" r="2.75"/><circle cx="44.3" cy="426.2" r="2.75"/><circle cx="45.9" cy="426.1" r="2.75"/><circle cx="47.5" cy="425.6" r="2.75"/><circle cx="49" cy="425.5" r="2.75"/><circle cx="50.6" cy="424.9" r="2.75"/><circle cx="52.2" cy="425.8" r="2.75"/><circle cx="53.7" cy="425.1" r="2.75"/><circle cx="55.3" cy="425.4" r="2.75"/><circle cx="56.9" cy="425" r="2.75"/><circle cx="58.4" cy="425.4" r="2.75"/><circle cx="60" cy="425.1" r="2.75"/><circle cx="61.6" cy="424.7" r="2.75"/><circle cx="63.1" cy="424.9" r="2.75"/><circle cx="64.7" cy="424" r="2.75"/><circle cx="66.3" cy="424.6" r="2.75"/><circle cx="67.8" cy="423.6" r="2.75"/><circle cx="69.4" cy="424.1" r="2.75"/><circle cx="71" cy="424.2" r="2.75"/><circle cx="72.5" cy="423.8" r="2.75"/><circle cx="74.1" cy="423.4" r="2.75"/><circle cx="75.7" cy="423.2" r="2.75"/><circle cx="77.2" cy="423.2" r="2.75"/><circle cx="78.8" cy="423.5" r="2.75"/><circle cx="80.4" cy="423.2" r="2.75"/><circle cx="81.9" cy="422.7" r="2.75"/><circle cx="83.5" cy="422.2" r="2.75"/><circle cx="85" cy="422.7" r="2.75"/><circle cx="86.6" cy="421.9" r="2.75"/><circle cx="88.2" cy="422" r="2.75"/><circle cx="89.7" cy="421.7" r="2.75"/><circle cx="91.3" cy="422.1" r="2.75"/><circle cx="92.9" cy="421.7" r="2.75"/><circle cx="94.4" cy="421.6" r="2.75"/><circle cx="96" cy="421.3" r="2.75"/><circle cx="97.6" cy="420.7" r="2.75"/><circle cx="99.1" cy="420.8" r="2.75"/><circle cx="100.7" cy="420.8" r="2.75"/><circle cx="102.3" cy="420" r="2.75"/><circle cx="103.8" cy="419.8" r="2.75"/><circle cx="105.4" cy="419" r="2.75"/><circle cx="107" cy="418.9" r="2.75"/><circle cx="108.5" cy="418.2" r="2.75"/><circle cx="110.1" cy="417.7" r="2.75"/><circle cx="111.7" cy="416.8" r="2.75"/><circle cx="113.2" cy="416.7" r="2.75"/><circle cx="114.8" cy="415.3" r="2.75"/><circle cx="116.4" cy="414.7" r="2.75"/><circle cx="117.9" cy="414" r="2.75"/><circle cx="119.5" cy="413.9" r="2.75"/><circle cx="121" cy="412.8" r="2.75"/><circle cx="122.6" cy="412.2" r="2.75"/><circle cx="124.2" cy="412.2" r="2.75"/><circle cx="125.7" cy="411.8" r="2.75"/><circle cx="127.3" cy="410.9" r="2.75"/><circle cx="128.9" cy="408.9" r="2.75"/><circle cx="130.4" cy="408.9" r="2.75"/><circle cx="132" cy="408.1" r="2.75"/><circle cx="133.6" cy="407.2" r="2.75"/><circle cx="135.1" cy="406.6" r="2.75"/><circle cx="136.7" cy="406.6" r="2.75"/><circle cx="138.3" cy="404.5" r="2.75"/><circle cx="139.8" cy="403" r="2.75"/><circle cx="141.4" cy="402.3" r="2.75"/><circle cx="143" cy="400.6" r="2.75"/><circle cx="144.5" cy="399.2" r="2.75"/><circle cx="146.1" cy="397.3" r="2.75"/><circle cx="147.7" cy="396.2" r="2.75"/><circle cx="149.2" cy="394.9" r="2.75"/><circle cx="150.8" cy="392.1" r="2.75"/><circle cx="152.4" cy="390.6" r="2.75"/><circle cx="153.9" cy="390.5" r="2.75"/><circle cx="155.5" cy="388.7" r="2.75"/><circle cx="157.1" cy="386.4" r="2.75"/><circle cx="158.6" cy="384.3" r="2.75"/><circle cx="160.2" cy="383" r="2.75"/><circle cx="161.7" cy="380.8" r="2.75"/><circle cx="163.3" cy="380.3" r="2.75"/><circle cx="164.9" cy="380.5" r="2.75"/><circle cx="166.4" cy="378.8" r="2.75"/><circle cx="168" cy="379" r="2.75"/><circle cx="169.6" cy="378.2" r="2.75"/><circle cx="171.1" cy="378.8" r="2.75"/><circle cx="172.7" cy="379.8" r="2.75"/><circle cx="174.3" cy="378.7" r="2.75"/><circle cx="175.8" cy="380.3" r="2.75"/><circle cx="177.4" cy="381.7" r="2.75"/><circle cx="179" cy="383.4" r="2.75"/><circle cx="180.5" cy="385.8" r="2.75"/><circle cx="182.1" cy="387.2" r="2.75"/><circle cx="183.7" cy="388.1" r="2.75"/><circle cx="185.2" cy="390.9" r="2.75"/><circle cx="186.8" cy="392.7" r="2.75"/><circle cx="188.4" cy="395.1" r="2.75"/><circle cx="189.9" cy="399" r="2.75"/><circle cx="191.5" cy="399.9" r="2.75"/><circle cx="193.1" cy="402.9" r="2.75"/><circle cx="194.6" cy="405" r="2.75"/><circle cx="196.2" cy="408.3" r="2.75"/><circle cx="197.7" cy="410.5" r="2.75"/><circle cx="199.3" cy="412.5" r="2.75"/><circle cx="200.9" cy="414.1" r="2.75"/><circle cx="202.4" cy="416" r="2.75"/><circle cx="204" cy="416.5" r="2.75"/><circle cx="205.6" cy="417.8" r="2.75"/><circle cx="207.1" cy="418.8" r="2.75"/><circle cx="208.7" cy="420.7" r="2.75"/><circle cx="210.3" cy="421.2" r="2.75"/><circle cx="211.8" cy="421.9" r="2.75"/><circle cx="213.4" cy="423.1" r="2.75"/><circle cx="215" cy="424.9" r="2.75"/><circle cx="216.5" cy="424.9" r="2.75"/><circle cx="218.1" cy="425.9" r="2.75"/><circle cx="219.7" cy="426.3" r="2.75"/><circle cx="221.2" cy="426.6" r="2.75"/><circle cx="222.8" cy="426.8" r="2.75"/><circle cx="224.4" cy="427.3" r="2.75"/><circle cx="225.9" cy="427.7" r="2.75"/><circle cx="227.5" cy="427.5" r="2.75"/><circle cx="229.1" cy="429" r="2.75"/><circle cx="230.6" cy="428.7" r="2.75"/><circle cx="232.2" cy="428.6" r="2.75"/><circle cx="233.8" cy="428.6" r="2.75"/><circle cx="235.3" cy="428.5" r="2.75"/><circle cx="236.9" cy="429" r="2.75"/><circle cx="238.4" cy="428.7" r="2.75"/><circle cx="240" cy="428.9" r="2.75"/><circle cx="241.6" cy="428.5" r="2.75"/><circle cx="243.1" cy="429" r="2.75"/><circle cx="244.7" cy="429.4" r="2.75"/><circle cx="246.3" cy="428.8" r="2.75"/><circle cx="247.8" cy="429.1" r="2.75"/><circle cx="249.4" cy="429" r="2.75"/><circle cx="251" cy="429.2" r="2.75"/><circle cx="252.5" cy="429.2" r="2.75"/><circle cx="254.1" cy="429" r="2.75"/><circle cx="255.7" cy="428.9" r="2.75"/><circle cx="257.2" cy="429.1" r="2.75"/><circle cx="258.8" cy="429" r="2.75"/>
</g>
<g fill="url(#k)" class="D" clip-path="url(#cb)">
<circle cx="305.7" cy="74.4" r="2.45"/><circle cx="306" cy="71.1" r="2.45"/><circle cx="306.2" cy="73.6" r="2.45"/><circle cx="306.5" cy="75.2" r="2.45"/><circle cx="306.7" cy="77.3" r="2.45"/><circle cx="307" cy="76.9" r="2.45"/><circle cx="307.2" cy="77.5" r="2.45"/><circle cx="307.5" cy="75.8" r="2.45"/><circle cx="307.7" cy="76.7" r="2.45"/><circle cx="308" cy="77.9" r="2.45"/><circle cx="308.2" cy="79.7" r="2.45"/><circle cx="308.5" cy="77.3" r="2.45"/><circle cx="308.7" cy="78.2" r="2.45"/><circle cx="309" cy="80" r="2.45"/><circle cx="309.2" cy="79.2" r="2.45"/><circle cx="309.5" cy="81" r="2.45"/><circle cx="309.7" cy="79.9" r="2.45"/><circle cx="310" cy="83.1" r="2.45"/><circle cx="310.2" cy="81" r="2.45"/><circle cx="310.5" cy="85.6" r="2.45"/><circle cx="310.7" cy="86.5" r="2.45"/><circle cx="311" cy="85.7" r="2.45"/><circle cx="311.2" cy="82.4" r="2.45"/><circle cx="311.5" cy="84" r="2.45"/><circle cx="311.7" cy="83.1" r="2.45"/><circle cx="312" cy="90.5" r="2.45"/><circle cx="312.2" cy="88.8" r="2.45"/><circle cx="312.5" cy="90.1" r="2.45"/><circle cx="312.7" cy="87" r="2.45"/><circle cx="313" cy="86.3" r="2.45"/><circle cx="313.2" cy="89.6" r="2.45"/><circle cx="313.5" cy="90.6" r="2.45"/><circle cx="313.7" cy="88.2" r="2.45"/><circle cx="314" cy="91.8" r="2.45"/><circle cx="314.2" cy="94.2" r="2.45"/><circle cx="314.5" cy="94" r="2.45"/><circle cx="314.7" cy="92.2" r="2.45"/><circle cx="315" cy="87.2" r="2.45"/><circle cx="315.2" cy="92.4" r="2.45"/><circle cx="315.5" cy="95" r="2.45"/><circle cx="315.7" cy="96.4" r="2.45"/><circle cx="316" cy="92.7" r="2.45"/><circle cx="316.2" cy="93.5" r="2.45"/><circle cx="316.5" cy="94.5" r="2.45"/><circle cx="316.7" cy="98.4" r="2.45"/><circle cx="317" cy="94.5" r="2.45"/><circle cx="317.2" cy="95.7" r="2.45"/><circle cx="317.5" cy="97.1" r="2.45"/><circle cx="317.7" cy="100.4" r="2.45"/><circle cx="318" cy="98" r="2.45"/><circle cx="318.2" cy="100" r="2.45"/><circle cx="318.5" cy="97.6" r="2.45"/><circle cx="318.7" cy="101.9" r="2.45"/><circle cx="319" cy="101.7" r="2.45"/><circle cx="319.2" cy="102.2" r="2.45"/><circle cx="319.5" cy="101" r="2.45"/><circle cx="319.7" cy="102.1" r="2.45"/><circle cx="320" cy="97.7" r="2.45"/><circle cx="320.2" cy="99.2" r="2.45"/><circle cx="320.5" cy="102.9" r="2.45"/><circle cx="320.8" cy="105" r="2.45"/><circle cx="321" cy="107" r="2.45"/><circle cx="321.3" cy="105.2" r="2.45"/><circle cx="321.5" cy="104.2" r="2.45"/><circle cx="321.8" cy="102.2" r="2.45"/><circle cx="322" cy="103.4" r="2.45"/><circle cx="322.3" cy="114.6" r="2.45"/><circle cx="322.5" cy="106.6" r="2.45"/><circle cx="322.8" cy="110.6" r="2.45"/><circle cx="323" cy="106.5" r="2.45"/><circle cx="323.3" cy="113.7" r="2.45"/><circle cx="323.5" cy="108.1" r="2.45"/><circle cx="323.8" cy="108.9" r="2.45"/><circle cx="324" cy="109.8" r="2.45"/><circle cx="324.3" cy="112.8" r="2.45"/><circle cx="324.5" cy="114.6" r="2.45"/><circle cx="324.8" cy="110.2" r="2.45"/><circle cx="325" cy="110.5" r="2.45"/><circle cx="325.3" cy="113.8" r="2.45"/><circle cx="325.5" cy="109" r="2.45"/><circle cx="325.8" cy="108.3" r="2.45"/><circle cx="326" cy="115.2" r="2.45"/><circle cx="326.3" cy="114.9" r="2.45"/><circle cx="326.5" cy="116.5" r="2.45"/><circle cx="326.8" cy="118.3" r="2.45"/><circle cx="327" cy="118" r="2.45"/><circle cx="327.3" cy="115.4" r="2.45"/><circle cx="327.5" cy="111" r="2.45"/><circle cx="327.8" cy="123.1" r="2.45"/><circle cx="328" cy="119.4" r="2.45"/><circle cx="328.3" cy="118.4" r="2.45"/><circle cx="328.5" cy="115.4" r="2.45"/><circle cx="328.8" cy="118.3" r="2.45"/><circle cx="329" cy="119.8" r="2.45"/><circle cx="329.3" cy="118" r="2.45"/><circle cx="329.5" cy="121.1" r="2.45"/><circle cx="329.8" cy="126.2" r="2.45"/><circle cx="330" cy="126.5" r="2.45"/><circle cx="330.3" cy="120.5" r="2.45"/><circle cx="330.5" cy="125.4" r="2.45"/><circle cx="330.8" cy="124.7" r="2.45"/><circle cx="331" cy="126.6" r="2.45"/><circle cx="331.3" cy="125.9" r="2.45"/><circle cx="331.5" cy="122.2" r="2.45"/><circle cx="331.8" cy="122.2" r="2.45"/><circle cx="332" cy="123.7" r="2.45"/><circle cx="332.3" cy="122.9" r="2.45"/><circle cx="332.5" cy="126.6" r="2.45"/><circle cx="332.8" cy="125.7" r="2.45"/><circle cx="333" cy="126.7" r="2.45"/><circle cx="333.3" cy="123.5" r="2.45"/><circle cx="333.5" cy="129.4" r="2.45"/><circle cx="333.8" cy="122.7" r="2.45"/><circle cx="334" cy="131.2" r="2.45"/><circle cx="334.3" cy="128.7" r="2.45"/><circle cx="334.5" cy="128.9" r="2.45"/><circle cx="334.8" cy="132.1" r="2.45"/><circle cx="335" cy="131.6" r="2.45"/><circle cx="335.3" cy="133" r="2.45"/><circle cx="335.6" cy="131.4" r="2.45"/><circle cx="335.8" cy="134.9" r="2.45"/><circle cx="336.1" cy="133.6" r="2.45"/><circle cx="336.3" cy="128.9" r="2.45"/><circle cx="336.6" cy="131.4" r="2.45"/><circle cx="336.8" cy="130.7" r="2.45"/><circle cx="337.1" cy="135" r="2.45"/><circle cx="337.3" cy="136.7" r="2.45"/><circle cx="337.6" cy="134.2" r="2.45"/><circle cx="337.8" cy="132.8" r="2.45"/><circle cx="338.1" cy="139.3" r="2.45"/><circle cx="338.3" cy="134.3" r="2.45"/><circle cx="338.6" cy="132.3" r="2.45"/><circle cx="338.8" cy="132.1" r="2.45"/><circle cx="339.1" cy="139.3" r="2.45"/><circle cx="339.3" cy="136.6" r="2.45"/><circle cx="339.6" cy="136.4" r="2.45"/><circle cx="339.8" cy="141" r="2.45"/><circle cx="340.1" cy="142.3" r="2.45"/><circle cx="340.3" cy="136.2" r="2.45"/><circle cx="340.6" cy="135.1" r="2.45"/><circle cx="340.8" cy="132.5" r="2.45"/><circle cx="341.1" cy="140.6" r="2.45"/><circle cx="341.3" cy="140.6" r="2.45"/><circle cx="341.6" cy="141.8" r="2.45"/><circle cx="341.8" cy="144.8" r="2.45"/><circle cx="342.1" cy="143.4" r="2.45"/><circle cx="342.3" cy="139.2" r="2.45"/><circle cx="342.6" cy="138.4" r="2.45"/><circle cx="342.8" cy="139.3" r="2.45"/><circle cx="343.1" cy="145.5" r="2.45"/><circle cx="343.3" cy="142.8" r="2.45"/><circle cx="343.6" cy="142.9" r="2.45"/><circle cx="343.8" cy="143.9" r="2.45"/><circle cx="344.1" cy="141.8" r="2.45"/><circle cx="344.3" cy="143.6" r="2.45"/><circle cx="344.6" cy="144.3" r="2.45"/><circle cx="344.8" cy="146.5" r="2.45"/><circle cx="345.1" cy="144.8" r="2.45"/><circle cx="345.3" cy="146.3" r="2.45"/><circle cx="345.6" cy="145.1" r="2.45"/><circle cx="345.8" cy="141.5" r="2.45"/><circle cx="346.1" cy="145.3" r="2.45"/><circle cx="346.3" cy="145.6" r="2.45"/><circle cx="346.6" cy="142.9" r="2.45"/><circle cx="346.8" cy="144" r="2.45"/><circle cx="347.1" cy="148.7" r="2.45"/><circle cx="347.3" cy="157" r="2.45"/><circle cx="347.6" cy="155.5" r="2.45"/><circle cx="347.8" cy="153.3" r="2.45"/><circle cx="348.1" cy="150.7" r="2.45"/><circle cx="348.3" cy="144.9" r="2.45"/><circle cx="348.6" cy="144.7" r="2.45"/><circle cx="348.8" cy="148.1" r="2.45"/><circle cx="349.1" cy="151.2" r="2.45"/><circle cx="349.3" cy="142.5" r="2.45"/><circle cx="349.6" cy="148.5" r="2.45"/><circle cx="349.8" cy="152.7" r="2.45"/><circle cx="350.1" cy="146.9" r="2.45"/><circle cx="350.3" cy="156.2" r="2.45"/><circle cx="350.6" cy="155.6" r="2.45"/><circle cx="350.9" cy="144.2" r="2.45"/><circle cx="351.1" cy="155.6" r="2.45"/><circle cx="351.4" cy="156.4" r="2.45"/><circle cx="351.6" cy="146.8" r="2.45"/><circle cx="351.9" cy="165.9" r="2.45"/><circle cx="352.1" cy="150" r="2.45"/><circle cx="352.4" cy="160.1" r="2.45"/><circle cx="352.6" cy="160.5" r="2.45"/><circle cx="352.9" cy="152.4" r="2.45"/><circle cx="353.1" cy="154.7" r="2.45"/><circle cx="353.4" cy="156.1" r="2.45"/><circle cx="353.6" cy="163.2" r="2.45"/><circle cx="353.9" cy="158.7" r="2.45"/><circle cx="354.1" cy="164.5" r="2.45"/><circle cx="354.4" cy="161" r="2.45"/><circle cx="354.6" cy="156.6" r="2.45"/><circle cx="354.9" cy="155.3" r="2.45"/><circle cx="355.1" cy="155.9" r="2.45"/><circle cx="355.4" cy="163.6" r="2.45"/><circle cx="355.6" cy="164.2" r="2.45"/><circle cx="355.9" cy="158.8" r="2.45"/><circle cx="356.1" cy="163.4" r="2.45"/><circle cx="356.4" cy="160.3" r="2.45"/><circle cx="356.6" cy="159.1" r="2.45"/><circle cx="356.9" cy="151.8" r="2.45"/><circle cx="357.1" cy="161.9" r="2.45"/><circle cx="357.4" cy="165.4" r="2.45"/><circle cx="357.6" cy="160.2" r="2.45"/><circle cx="357.9" cy="157" r="2.45"/><circle cx="358.1" cy="154" r="2.45"/><circle cx="358.4" cy="161.3" r="2.45"/><circle cx="358.6" cy="165.1" r="2.45"/><circle cx="358.9" cy="163.9" r="2.45"/><circle cx="359.1" cy="166.5" r="2.45"/><circle cx="359.4" cy="175.9" r="2.45"/><circle cx="359.6" cy="167.4" r="2.45"/><circle cx="359.9" cy="167.1" r="2.45"/><circle cx="360.1" cy="174.1" r="2.45"/><circle cx="360.4" cy="165.5" r="2.45"/><circle cx="360.6" cy="161.2" r="2.45"/><circle cx="360.9" cy="172.4" r="2.45"/><circle cx="361.1" cy="167.6" r="2.45"/><circle cx="361.4" cy="176.3" r="2.45"/><circle cx="361.6" cy="172.2" r="2.45"/><circle cx="361.9" cy="171.4" r="2.45"/><circle cx="362.1" cy="165.5" r="2.45"/><circle cx="362.4" cy="165.5" r="2.45"/><circle cx="362.6" cy="166.2" r="2.45"/><circle cx="362.9" cy="167.2" r="2.45"/><circle cx="363.1" cy="172.3" r="2.45"/><circle cx="363.4" cy="161.4" r="2.45"/><circle cx="363.6" cy="173.4" r="2.45"/><circle cx="363.9" cy="190.6" r="2.45"/><circle cx="364.1" cy="163.5" r="2.45"/><circle cx="364.4" cy="163.8" r="2.45"/><circle cx="364.6" cy="167.6" r="2.45"/><circle cx="364.9" cy="157.7" r="2.45"/><circle cx="365.1" cy="173.8" r="2.45"/><circle cx="365.4" cy="181.4" r="2.45"/><circle cx="365.7" cy="172.5" r="2.45"/><circle cx="365.9" cy="181.2" r="2.45"/><circle cx="366.2" cy="173" r="2.45"/><circle cx="366.4" cy="175.8" r="2.45"/><circle cx="366.7" cy="177.3" r="2.45"/><circle cx="366.9" cy="173" r="2.45"/><circle cx="367.2" cy="172.2" r="2.45"/><circle cx="367.4" cy="173.8" r="2.45"/><circle cx="367.7" cy="172.4" r="2.45"/><circle cx="367.9" cy="171.2" r="2.45"/><circle cx="368.2" cy="179.9" r="2.45"/><circle cx="368.4" cy="182" r="2.45"/><circle cx="368.7" cy="177.9" r="2.45"/><circle cx="368.9" cy="176.6" r="2.45"/><circle cx="369.2" cy="178.9" r="2.45"/><circle cx="369.4" cy="185.2" r="2.45"/><circle cx="369.7" cy="185.1" r="2.45"/><circle cx="369.9" cy="195" r="2.45"/><circle cx="370.2" cy="180.1" r="2.45"/><circle cx="370.4" cy="179.2" r="2.45"/><circle cx="370.7" cy="175.3" r="2.45"/><circle cx="370.9" cy="179.2" r="2.45"/><circle cx="371.2" cy="185" r="2.45"/><circle cx="371.4" cy="180.5" r="2.45"/><circle cx="371.7" cy="183.8" r="2.45"/><circle cx="371.9" cy="176.8" r="2.45"/><circle cx="372.2" cy="171.6" r="2.45"/><circle cx="372.4" cy="182.5" r="2.45"/><circle cx="372.7" cy="186.9" r="2.45"/><circle cx="372.9" cy="191.4" r="2.45"/><circle cx="373.2" cy="193.4" r="2.45"/><circle cx="373.4" cy="185.1" r="2.45"/><circle cx="373.7" cy="194.4" r="2.45"/><circle cx="373.9" cy="180.5" r="2.45"/><circle cx="374.2" cy="187.9" r="2.45"/><circle cx="374.4" cy="201.5" r="2.45"/><circle cx="374.7" cy="184" r="2.45"/><circle cx="374.9" cy="194.3" r="2.45"/><circle cx="375.2" cy="185.6" r="2.45"/><circle cx="375.4" cy="190.5" r="2.45"/><circle cx="375.7" cy="183.4" r="2.45"/><circle cx="375.9" cy="183.4" r="2.45"/><circle cx="376.2" cy="201.1" r="2.45"/><circle cx="376.4" cy="187.9" r="2.45"/><circle cx="376.7" cy="185.5" r="2.45"/><circle cx="376.9" cy="195.5" r="2.45"/><circle cx="377.2" cy="189.3" r="2.45"/><circle cx="377.4" cy="193.5" r="2.45"/><circle cx="377.7" cy="189.5" r="2.45"/><circle cx="377.9" cy="199.8" r="2.45"/><circle cx="378.2" cy="197.7" r="2.45"/><circle cx="378.4" cy="186.9" r="2.45"/><circle cx="378.7" cy="195.3" r="2.45"/><circle cx="378.9" cy="184.4" r="2.45"/><circle cx="379.2" cy="205.2" r="2.45"/><circle cx="379.4" cy="198.5" r="2.45"/><circle cx="379.7" cy="201.1" r="2.45"/><circle cx="379.9" cy="202.3" r="2.45"/><circle cx="380.2" cy="201.2" r="2.45"/><circle cx="380.5" cy="197.8" r="2.45"/><circle cx="380.7" cy="199.2" r="2.45"/><circle cx="381" cy="199.9" r="2.45"/><circle cx="381.2" cy="195.4" r="2.45"/><circle cx="381.5" cy="200.8" r="2.45"/><circle cx="381.7" cy="205.5" r="2.45"/><circle cx="382" cy="199.7" r="2.45"/><circle cx="382.2" cy="194" r="2.45"/><circle cx="382.5" cy="193.8" r="2.45"/><circle cx="382.7" cy="193.6" r="2.45"/><circle cx="383" cy="204.2" r="2.45"/><circle cx="383.2" cy="204.4" r="2.45"/><circle cx="383.5" cy="203.8" r="2.45"/><circle cx="383.7" cy="196.4" r="2.45"/><circle cx="384" cy="206.1" r="2.45"/><circle cx="384.2" cy="199" r="2.45"/><circle cx="384.5" cy="202.8" r="2.45"/><circle cx="384.7" cy="211.7" r="2.45"/><circle cx="385" cy="206.3" r="2.45"/><circle cx="385.2" cy="203" r="2.45"/><circle cx="385.7" cy="208" r="2.45"/><circle cx="386.2" cy="205.6" r="2.45"/><circle cx="386.5" cy="201" r="2.45"/><circle cx="386.7" cy="209.4" r="2.45"/><circle cx="389" cy="208.6" r="2.45"/>
</g>
<g fill="url(#o)" class="D" clip-path="url(#cb)">
<circle cx="305.7" cy="74.6" r="2.45"/><circle cx="306" cy="78.6" r="2.45"/><circle cx="306.2" cy="76.6" r="2.45"/><circle cx="306.5" cy="73.4" r="2.45"/><circle cx="306.7" cy="75.9" r="2.45"/><circle cx="307" cy="73.7" r="2.45"/><circle cx="307.2" cy="77.1" r="2.45"/><circle cx="307.5" cy="76.2" r="2.45"/><circle cx="307.7" cy="79.8" r="2.45"/><circle cx="308" cy="73.3" r="2.45"/><circle cx="308.2" cy="79.8" r="2.45"/><circle cx="308.5" cy="75" r="2.45"/><circle cx="308.7" cy="75.6" r="2.45"/><circle cx="309" cy="80.1" r="2.45"/><circle cx="309.2" cy="74.9" r="2.45"/><circle cx="309.5" cy="80.7" r="2.45"/><circle cx="309.7" cy="82.7" r="2.45"/><circle cx="310" cy="80.4" r="2.45"/><circle cx="310.2" cy="82.6" r="2.45"/><circle cx="310.5" cy="76.5" r="2.45"/><circle cx="310.7" cy="81.3" r="2.45"/><circle cx="311" cy="79.6" r="2.45"/><circle cx="311.2" cy="81.3" r="2.45"/><circle cx="311.5" cy="79.3" r="2.45"/><circle cx="311.7" cy="79.3" r="2.45"/><circle cx="312" cy="80.2" r="2.45"/><circle cx="312.2" cy="83.5" r="2.45"/><circle cx="312.5" cy="85.8" r="2.45"/><circle cx="312.7" cy="81.1" r="2.45"/><circle cx="313" cy="82.3" r="2.45"/><circle cx="313.2" cy="83.1" r="2.45"/><circle cx="313.5" cy="82.4" r="2.45"/><circle cx="313.7" cy="80.8" r="2.45"/><circle cx="314" cy="85.1" r="2.45"/><circle cx="314.2" cy="84.3" r="2.45"/><circle cx="314.5" cy="81.7" r="2.45"/><circle cx="314.7" cy="83.3" r="2.45"/><circle cx="315" cy="83.3" r="2.45"/><circle cx="315.2" cy="81.7" r="2.45"/><circle cx="315.5" cy="81.2" r="2.45"/><circle cx="315.7" cy="83.7" r="2.45"/><circle cx="316" cy="84.3" r="2.45"/><circle cx="316.2" cy="87.2" r="2.45"/><circle cx="316.5" cy="89.8" r="2.45"/><circle cx="316.7" cy="85.4" r="2.45"/><circle cx="317" cy="84.7" r="2.45"/><circle cx="317.2" cy="89.9" r="2.45"/><circle cx="317.5" cy="84.7" r="2.45"/><circle cx="317.7" cy="86.4" r="2.45"/><circle cx="318" cy="85.5" r="2.45"/><circle cx="318.2" cy="87.6" r="2.45"/><circle cx="318.5" cy="87.9" r="2.45"/><circle cx="318.7" cy="91.3" r="2.45"/><circle cx="319" cy="88.8" r="2.45"/><circle cx="319.2" cy="90.5" r="2.45"/><circle cx="319.5" cy="86.9" r="2.45"/><circle cx="319.7" cy="88.2" r="2.45"/><circle cx="320" cy="93.2" r="2.45"/><circle cx="320.2" cy="88.3" r="2.45"/><circle cx="320.5" cy="89.6" r="2.45"/><circle cx="320.7" cy="88.2" r="2.45"/><circle cx="321" cy="92.9" r="2.45"/><circle cx="321.2" cy="90.7" r="2.45"/><circle cx="321.5" cy="95.1" r="2.45"/><circle cx="321.7" cy="90.2" r="2.45"/><circle cx="322" cy="91.3" r="2.45"/><circle cx="322.2" cy="87.7" r="2.45"/><circle cx="322.5" cy="95" r="2.45"/><circle cx="322.7" cy="92.4" r="2.45"/><circle cx="323" cy="94.5" r="2.45"/><circle cx="323.2" cy="93.8" r="2.45"/><circle cx="323.5" cy="94.8" r="2.45"/><circle cx="323.7" cy="95.6" r="2.45"/><circle cx="324" cy="94.6" r="2.45"/><circle cx="324.2" cy="91.1" r="2.45"/><circle cx="324.5" cy="98" r="2.45"/><circle cx="324.7" cy="94.5" r="2.45"/><circle cx="325" cy="97.1" r="2.45"/><circle cx="325.2" cy="93.8" r="2.45"/><circle cx="325.5" cy="99.9" r="2.45"/><circle cx="325.7" cy="98.1" r="2.45"/><circle cx="326" cy="95.7" r="2.45"/><circle cx="326.2" cy="97.9" r="2.45"/><circle cx="326.5" cy="93.4" r="2.45"/><circle cx="326.7" cy="94.7" r="2.45"/><circle cx="327" cy="100.9" r="2.45"/><circle cx="327.2" cy="94.1" r="2.45"/><circle cx="327.5" cy="100.3" r="2.45"/><circle cx="327.7" cy="93.9" r="2.45"/><circle cx="328" cy="101.3" r="2.45"/><circle cx="328.2" cy="103.8" r="2.45"/><circle cx="328.5" cy="101.9" r="2.45"/><circle cx="328.7" cy="99.1" r="2.45"/><circle cx="329" cy="97.7" r="2.45"/><circle cx="329.2" cy="97.5" r="2.45"/><circle cx="329.5" cy="102.7" r="2.45"/><circle cx="329.8" cy="99.5" r="2.45"/><circle cx="330" cy="102.1" r="2.45"/><circle cx="330.3" cy="105.7" r="2.45"/><circle cx="330.5" cy="97.9" r="2.45"/><circle cx="330.8" cy="107.3" r="2.45"/><circle cx="331" cy="100.3" r="2.45"/><circle cx="331.3" cy="98.7" r="2.45"/><circle cx="331.5" cy="101" r="2.45"/><circle cx="331.8" cy="102.5" r="2.45"/><circle cx="332" cy="107.5" r="2.45"/><circle cx="332.3" cy="102.2" r="2.45"/><circle cx="332.5" cy="105.6" r="2.45"/><circle cx="332.8" cy="105.8" r="2.45"/><circle cx="333" cy="105.5" r="2.45"/><circle cx="333.3" cy="104.8" r="2.45"/><circle cx="333.5" cy="108.7" r="2.45"/><circle cx="333.8" cy="105.4" r="2.45"/><circle cx="334" cy="103.4" r="2.45"/><circle cx="334.3" cy="105.2" r="2.45"/><circle cx="334.5" cy="101.8" r="2.45"/><circle cx="334.8" cy="101.6" r="2.45"/><circle cx="335" cy="104.4" r="2.45"/><circle cx="335.3" cy="108.3" r="2.45"/><circle cx="335.5" cy="109.5" r="2.45"/><circle cx="335.8" cy="109.6" r="2.45"/><circle cx="336" cy="105.8" r="2.45"/><circle cx="336.3" cy="111" r="2.45"/><circle cx="336.5" cy="107.7" r="2.45"/><circle cx="336.8" cy="112.1" r="2.45"/><circle cx="337" cy="110.2" r="2.45"/><circle cx="337.3" cy="111.6" r="2.45"/><circle cx="337.5" cy="116.6" r="2.45"/><circle cx="337.8" cy="111" r="2.45"/><circle cx="338" cy="113.4" r="2.45"/><circle cx="338.3" cy="111.6" r="2.45"/><circle cx="338.5" cy="109.8" r="2.45"/><circle cx="338.8" cy="109.2" r="2.45"/><circle cx="339" cy="110.4" r="2.45"/><circle cx="339.3" cy="109" r="2.45"/><circle cx="339.5" cy="110.7" r="2.45"/><circle cx="339.8" cy="113.5" r="2.45"/><circle cx="340" cy="115.3" r="2.45"/><circle cx="340.3" cy="109.5" r="2.45"/><circle cx="340.5" cy="112.7" r="2.45"/><circle cx="340.8" cy="114.2" r="2.45"/><circle cx="341" cy="118.9" r="2.45"/><circle cx="341.3" cy="110.4" r="2.45"/><circle cx="341.5" cy="113.1" r="2.45"/><circle cx="341.8" cy="113.1" r="2.45"/><circle cx="342" cy="110.6" r="2.45"/><circle cx="342.3" cy="110.6" r="2.45"/><circle cx="342.5" cy="116.4" r="2.45"/><circle cx="342.8" cy="116.6" r="2.45"/><circle cx="343" cy="113" r="2.45"/><circle cx="343.3" cy="116.6" r="2.45"/><circle cx="343.5" cy="122.1" r="2.45"/><circle cx="343.8" cy="115.3" r="2.45"/><circle cx="344" cy="121.7" r="2.45"/><circle cx="344.3" cy="118.4" r="2.45"/><circle cx="344.5" cy="122.1" r="2.45"/><circle cx="344.8" cy="117.5" r="2.45"/><circle cx="345" cy="123.9" r="2.45"/><circle cx="345.3" cy="121.3" r="2.45"/><circle cx="345.5" cy="124.1" r="2.45"/><circle cx="345.8" cy="119.9" r="2.45"/><circle cx="346" cy="118.3" r="2.45"/><circle cx="346.3" cy="122.6" r="2.45"/><circle cx="346.5" cy="118.5" r="2.45"/><circle cx="346.8" cy="115" r="2.45"/><circle cx="347" cy="119.2" r="2.45"/><circle cx="347.3" cy="119" r="2.45"/><circle cx="347.5" cy="121.3" r="2.45"/><circle cx="347.8" cy="122.1" r="2.45"/><circle cx="348" cy="122.1" r="2.45"/><circle cx="348.3" cy="119" r="2.45"/><circle cx="348.5" cy="126.4" r="2.45"/><circle cx="348.8" cy="129.9" r="2.45"/><circle cx="349" cy="121.5" r="2.45"/><circle cx="349.3" cy="116.9" r="2.45"/><circle cx="349.5" cy="123.9" r="2.45"/><circle cx="349.8" cy="129.4" r="2.45"/><circle cx="350" cy="122.4" r="2.45"/><circle cx="350.3" cy="127.3" r="2.45"/><circle cx="350.5" cy="125.3" r="2.45"/><circle cx="350.8" cy="130.3" r="2.45"/><circle cx="351" cy="129.4" r="2.45"/><circle cx="351.3" cy="125.4" r="2.45"/><circle cx="351.5" cy="122.2" r="2.45"/><circle cx="351.8" cy="126.2" r="2.45"/><circle cx="352" cy="128.3" r="2.45"/><circle cx="352.3" cy="124.6" r="2.45"/><circle cx="352.5" cy="121.9" r="2.45"/><circle cx="352.8" cy="131" r="2.45"/><circle cx="353" cy="124.9" r="2.45"/><circle cx="353.3" cy="126.3" r="2.45"/><circle cx="353.5" cy="125.8" r="2.45"/><circle cx="353.8" cy="130.4" r="2.45"/><circle cx="354.1" cy="131.8" r="2.45"/><circle cx="354.3" cy="130.7" r="2.45"/><circle cx="354.6" cy="128.2" r="2.45"/><circle cx="354.8" cy="133.3" r="2.45"/><circle cx="355.1" cy="132.7" r="2.45"/><circle cx="355.3" cy="128.3" r="2.45"/><circle cx="355.6" cy="125" r="2.45"/><circle cx="355.8" cy="131.8" r="2.45"/><circle cx="356.1" cy="132.8" r="2.45"/><circle cx="356.3" cy="131.7" r="2.45"/><circle cx="356.6" cy="135.5" r="2.45"/><circle cx="356.8" cy="133.6" r="2.45"/><circle cx="357.1" cy="138.2" r="2.45"/><circle cx="357.3" cy="135.4" r="2.45"/><circle cx="357.6" cy="132.3" r="2.45"/><circle cx="357.8" cy="133.9" r="2.45"/><circle cx="358.1" cy="140.6" r="2.45"/><circle cx="358.3" cy="135.9" r="2.45"/><circle cx="358.6" cy="138.9" r="2.45"/><circle cx="358.8" cy="142" r="2.45"/><circle cx="359.1" cy="138" r="2.45"/><circle cx="359.3" cy="138.1" r="2.45"/><circle cx="359.6" cy="131" r="2.45"/><circle cx="359.8" cy="136.9" r="2.45"/><circle cx="360.1" cy="141.2" r="2.45"/><circle cx="360.3" cy="138.4" r="2.45"/><circle cx="360.6" cy="135.1" r="2.45"/><circle cx="360.8" cy="139.2" r="2.45"/><circle cx="361.1" cy="140" r="2.45"/><circle cx="361.3" cy="141.4" r="2.45"/><circle cx="361.6" cy="134.1" r="2.45"/><circle cx="361.8" cy="137.9" r="2.45"/><circle cx="362.1" cy="136.1" r="2.45"/><circle cx="362.3" cy="135.4" r="2.45"/><circle cx="362.6" cy="137" r="2.45"/><circle cx="362.8" cy="138.8" r="2.45"/><circle cx="363.1" cy="143.6" r="2.45"/><circle cx="363.3" cy="139.3" r="2.45"/><circle cx="363.6" cy="139.5" r="2.45"/><circle cx="363.8" cy="143" r="2.45"/><circle cx="364.1" cy="137.3" r="2.45"/><circle cx="364.3" cy="141" r="2.45"/><circle cx="364.6" cy="142.4" r="2.45"/><circle cx="364.8" cy="142.2" r="2.45"/><circle cx="365.1" cy="148" r="2.45"/><circle cx="365.3" cy="136.7" r="2.45"/><circle cx="365.6" cy="150.1" r="2.45"/><circle cx="365.8" cy="139.5" r="2.45"/><circle cx="366.1" cy="141.6" r="2.45"/><circle cx="366.3" cy="141.7" r="2.45"/><circle cx="366.6" cy="140.1" r="2.45"/><circle cx="366.8" cy="137.7" r="2.45"/><circle cx="367.1" cy="141.4" r="2.45"/><circle cx="367.3" cy="143" r="2.45"/><circle cx="367.6" cy="144.7" r="2.45"/><circle cx="367.8" cy="141.6" r="2.45"/><circle cx="368.1" cy="143.3" r="2.45"/><circle cx="368.3" cy="146.2" r="2.45"/><circle cx="368.6" cy="154.7" r="2.45"/><circle cx="368.8" cy="145.6" r="2.45"/><circle cx="369.1" cy="147.1" r="2.45"/><circle cx="369.3" cy="141.8" r="2.45"/><circle cx="369.6" cy="147" r="2.45"/><circle cx="369.8" cy="140.8" r="2.45"/><circle cx="370.1" cy="145.1" r="2.45"/><circle cx="370.3" cy="150.2" r="2.45"/><circle cx="370.6" cy="149.4" r="2.45"/><circle cx="370.8" cy="146.9" r="2.45"/><circle cx="371.1" cy="149.9" r="2.45"/><circle cx="371.3" cy="148.9" r="2.45"/><circle cx="371.6" cy="143.6" r="2.45"/><circle cx="371.8" cy="147.3" r="2.45"/><circle cx="372.1" cy="144" r="2.45"/><circle cx="372.3" cy="148.3" r="2.45"/><circle cx="372.6" cy="147.5" r="2.45"/><circle cx="372.8" cy="154.1" r="2.45"/><circle cx="373.1" cy="148.5" r="2.45"/><circle cx="373.3" cy="155.6" r="2.45"/><circle cx="373.6" cy="144.1" r="2.45"/><circle cx="373.8" cy="150.4" r="2.45"/><circle cx="374.1" cy="153.2" r="2.45"/><circle cx="374.3" cy="146.4" r="2.45"/><circle cx="374.6" cy="150.6" r="2.45"/><circle cx="374.8" cy="145.9" r="2.45"/><circle cx="375.1" cy="154.2" r="2.45"/><circle cx="375.3" cy="154.5" r="2.45"/><circle cx="375.6" cy="151.7" r="2.45"/><circle cx="375.8" cy="155.9" r="2.45"/><circle cx="376.1" cy="153.9" r="2.45"/><circle cx="376.3" cy="155.5" r="2.45"/><circle cx="376.6" cy="154.4" r="2.45"/><circle cx="376.8" cy="157.1" r="2.45"/><circle cx="377.1" cy="155" r="2.45"/><circle cx="377.3" cy="157.8" r="2.45"/><circle cx="377.6" cy="156.2" r="2.45"/><circle cx="377.9" cy="154" r="2.45"/><circle cx="378.1" cy="162.3" r="2.45"/><circle cx="378.4" cy="158.9" r="2.45"/><circle cx="378.6" cy="158.7" r="2.45"/><circle cx="378.9" cy="161.9" r="2.45"/><circle cx="379.1" cy="154" r="2.45"/><circle cx="379.4" cy="157.7" r="2.45"/><circle cx="379.6" cy="166.2" r="2.45"/><circle cx="379.9" cy="160.1" r="2.45"/><circle cx="380.1" cy="165.6" r="2.45"/><circle cx="380.4" cy="151.2" r="2.45"/><circle cx="380.6" cy="159.5" r="2.45"/><circle cx="380.9" cy="161.1" r="2.45"/><circle cx="381.1" cy="162" r="2.45"/><circle cx="381.4" cy="160.7" r="2.45"/><circle cx="381.6" cy="157" r="2.45"/><circle cx="381.9" cy="162.2" r="2.45"/><circle cx="382.1" cy="156.7" r="2.45"/><circle cx="382.4" cy="160" r="2.45"/><circle cx="382.6" cy="158.4" r="2.45"/><circle cx="382.9" cy="169.3" r="2.45"/><circle cx="383.1" cy="159.5" r="2.45"/><circle cx="383.4" cy="157.3" r="2.45"/><circle cx="383.6" cy="163.1" r="2.45"/><circle cx="383.9" cy="161.7" r="2.45"/><circle cx="384.1" cy="160.1" r="2.45"/><circle cx="384.4" cy="164.3" r="2.45"/><circle cx="384.6" cy="162.3" r="2.45"/><circle cx="384.9" cy="171.5" r="2.45"/><circle cx="385.1" cy="166.9" r="2.45"/><circle cx="385.4" cy="161.4" r="2.45"/><circle cx="385.6" cy="165.5" r="2.45"/><circle cx="385.9" cy="175.7" r="2.45"/><circle cx="386.1" cy="171.4" r="2.45"/><circle cx="386.4" cy="164.4" r="2.45"/><circle cx="386.6" cy="169.8" r="2.45"/><circle cx="386.9" cy="164.4" r="2.45"/><circle cx="387.1" cy="167.8" r="2.45"/><circle cx="387.4" cy="172.5" r="2.45"/><circle cx="387.6" cy="161.4" r="2.45"/><circle cx="387.9" cy="165.9" r="2.45"/><circle cx="388.1" cy="158.5" r="2.45"/><circle cx="388.4" cy="159.2" r="2.45"/><circle cx="388.6" cy="168" r="2.45"/><circle cx="388.9" cy="170" r="2.45"/><circle cx="389.1" cy="171.1" r="2.45"/><circle cx="389.4" cy="165.3" r="2.45"/><circle cx="389.6" cy="162" r="2.45"/><circle cx="389.9" cy="164.1" r="2.45"/><circle cx="390.1" cy="166.6" r="2.45"/><circle cx="390.4" cy="176.9" r="2.45"/><circle cx="390.6" cy="157.6" r="2.45"/><circle cx="390.9" cy="169" r="2.45"/><circle cx="391.1" cy="170.3" r="2.45"/><circle cx="391.4" cy="167.6" r="2.45"/><circle cx="391.6" cy="173.9" r="2.45"/><circle cx="391.9" cy="175.1" r="2.45"/><circle cx="392.1" cy="170.8" r="2.45"/><circle cx="392.4" cy="175.9" r="2.45"/><circle cx="392.6" cy="176.8" r="2.45"/><circle cx="392.9" cy="174.8" r="2.45"/><circle cx="393.1" cy="178.1" r="2.45"/><circle cx="393.4" cy="172.6" r="2.45"/><circle cx="393.6" cy="174.3" r="2.45"/><circle cx="393.9" cy="172" r="2.45"/><circle cx="394.1" cy="163.1" r="2.45"/><circle cx="394.4" cy="179.3" r="2.45"/><circle cx="394.6" cy="172.6" r="2.45"/><circle cx="394.9" cy="177.4" r="2.45"/><circle cx="395.1" cy="182.5" r="2.45"/><circle cx="395.4" cy="168.7" r="2.45"/><circle cx="395.6" cy="178.5" r="2.45"/><circle cx="395.9" cy="170.2" r="2.45"/><circle cx="396.1" cy="180.3" r="2.45"/><circle cx="396.4" cy="176.7" r="2.45"/><circle cx="396.6" cy="176.7" r="2.45"/><circle cx="396.9" cy="179.1" r="2.45"/><circle cx="397.1" cy="171.8" r="2.45"/><circle cx="397.4" cy="180.8" r="2.45"/><circle cx="397.6" cy="182.8" r="2.45"/><circle cx="397.9" cy="173.2" r="2.45"/><circle cx="398.1" cy="176.5" r="2.45"/><circle cx="398.4" cy="181.1" r="2.45"/><circle cx="398.6" cy="181.9" r="2.45"/><circle cx="398.9" cy="176.7" r="2.45"/><circle cx="399.1" cy="185.5" r="2.45"/><circle cx="399.4" cy="178" r="2.45"/><circle cx="399.6" cy="172.8" r="2.45"/><circle cx="399.9" cy="175.7" r="2.45"/><circle cx="400.1" cy="178.8" r="2.45"/><circle cx="400.4" cy="182.8" r="2.45"/><circle cx="400.6" cy="173.7" r="2.45"/><circle cx="400.9" cy="177.2" r="2.45"/><circle cx="401.1" cy="182.6" r="2.45"/><circle cx="401.4" cy="171.3" r="2.45"/><circle cx="401.6" cy="186.5" r="2.45"/><circle cx="401.9" cy="176.1" r="2.45"/><circle cx="402.2" cy="171.4" r="2.45"/><circle cx="402.4" cy="176.2" r="2.45"/><circle cx="402.7" cy="180.1" r="2.45"/><circle cx="402.9" cy="184.2" r="2.45"/><circle cx="403.2" cy="180.3" r="2.45"/><circle cx="403.4" cy="189.1" r="2.45"/><circle cx="403.7" cy="179" r="2.45"/><circle cx="403.9" cy="186.9" r="2.45"/><circle cx="404.2" cy="179.4" r="2.45"/><circle cx="404.4" cy="181.7" r="2.45"/><circle cx="404.7" cy="187.4" r="2.45"/><circle cx="404.9" cy="178.2" r="2.45"/><circle cx="405.2" cy="180.8" r="2.45"/><circle cx="405.4" cy="182.6" r="2.45"/><circle cx="405.7" cy="179.3" r="2.45"/><circle cx="405.9" cy="190.4" r="2.45"/><circle cx="406.2" cy="184.6" r="2.45"/><circle cx="406.4" cy="176.3" r="2.45"/><circle cx="406.7" cy="180.5" r="2.45"/><circle cx="406.9" cy="179.1" r="2.45"/><circle cx="407.2" cy="187.2" r="2.45"/><circle cx="407.4" cy="196" r="2.45"/><circle cx="407.7" cy="185.7" r="2.45"/><circle cx="407.9" cy="188.9" r="2.45"/><circle cx="408.2" cy="193.5" r="2.45"/><circle cx="408.4" cy="192.3" r="2.45"/><circle cx="408.7" cy="182.3" r="2.45"/><circle cx="408.9" cy="193.1" r="2.45"/><circle cx="409.2" cy="187.1" r="2.45"/><circle cx="409.4" cy="194" r="2.45"/><circle cx="409.7" cy="188.1" r="2.45"/><circle cx="409.9" cy="183.4" r="2.45"/><circle cx="410.2" cy="189.6" r="2.45"/><circle cx="410.4" cy="191.2" r="2.45"/><circle cx="410.7" cy="183.4" r="2.45"/><circle cx="410.9" cy="184.9" r="2.45"/><circle cx="411.2" cy="190.5" r="2.45"/><circle cx="411.4" cy="187.6" r="2.45"/><circle cx="411.7" cy="183.7" r="2.45"/><circle cx="411.9" cy="187" r="2.45"/><circle cx="412.2" cy="179.1" r="2.45"/><circle cx="412.4" cy="175.7" r="2.45"/><circle cx="412.7" cy="188.4" r="2.45"/><circle cx="412.9" cy="188.3" r="2.45"/><circle cx="413.2" cy="191.1" r="2.45"/><circle cx="413.4" cy="192.3" r="2.45"/><circle cx="413.7" cy="201.1" r="2.45"/><circle cx="413.9" cy="204.2" r="2.45"/><circle cx="414.2" cy="189.1" r="2.45"/><circle cx="414.4" cy="191.3" r="2.45"/><circle cx="414.7" cy="188.8" r="2.45"/><circle cx="414.9" cy="198.6" r="2.45"/><circle cx="415.2" cy="196.4" r="2.45"/><circle cx="415.4" cy="205.1" r="2.45"/><circle cx="415.7" cy="195.7" r="2.45"/><circle cx="415.9" cy="197.1" r="2.45"/><circle cx="416.2" cy="191.9" r="2.45"/><circle cx="416.4" cy="193" r="2.45"/><circle cx="416.7" cy="189.4" r="2.45"/><circle cx="416.9" cy="197.2" r="2.45"/><circle cx="417.2" cy="192.5" r="2.45"/><circle cx="417.4" cy="201.4" r="2.45"/><circle cx="417.7" cy="205.5" r="2.45"/><circle cx="417.9" cy="189.4" r="2.45"/><circle cx="418.2" cy="193.7" r="2.45"/><circle cx="418.4" cy="193.4" r="2.45"/><circle cx="418.7" cy="192" r="2.45"/><circle cx="418.9" cy="200.6" r="2.45"/><circle cx="419.2" cy="203.2" r="2.45"/><circle cx="419.4" cy="198.1" r="2.45"/><circle cx="419.7" cy="205.6" r="2.45"/><circle cx="419.9" cy="203.3" r="2.45"/><circle cx="420.2" cy="202" r="2.45"/><circle cx="420.4" cy="192.8" r="2.45"/><circle cx="420.7" cy="201" r="2.45"/><circle cx="420.9" cy="204.6" r="2.45"/><circle cx="421.2" cy="201.2" r="2.45"/><circle cx="421.4" cy="194.2" r="2.45"/><circle cx="421.7" cy="203.7" r="2.45"/><circle cx="421.9" cy="198.4" r="2.45"/><circle cx="422.2" cy="199.1" r="2.45"/><circle cx="422.4" cy="199.2" r="2.45"/><circle cx="422.7" cy="202.1" r="2.45"/><circle cx="422.9" cy="201.9" r="2.45"/><circle cx="423.2" cy="207.4" r="2.45"/><circle cx="423.4" cy="205.8" r="2.45"/><circle cx="423.7" cy="192.5" r="2.45"/><circle cx="423.9" cy="203.5" r="2.45"/><circle cx="424.2" cy="196.6" r="2.45"/><circle cx="424.4" cy="194.8" r="2.45"/><circle cx="424.7" cy="211.9" r="2.45"/><circle cx="424.9" cy="208" r="2.45"/><circle cx="425.4" cy="202.2" r="2.45"/><circle cx="425.7" cy="198.1" r="2.45"/><circle cx="425.9" cy="197.5" r="2.45"/><circle cx="426.2" cy="201.3" r="2.45"/><circle cx="426.5" cy="206" r="2.45"/><circle cx="426.7" cy="202.6" r="2.45"/><circle cx="427" cy="206.4" r="2.45"/><circle cx="427.2" cy="194.6" r="2.45"/><circle cx="427.5" cy="191.3" r="2.45"/><circle cx="427.7" cy="210.8" r="2.45"/><circle cx="428" cy="199.2" r="2.45"/><circle cx="428.5" cy="210.7" r="2.45"/><circle cx="429.2" cy="199.3" r="2.45"/><circle cx="429.5" cy="211.5" r="2.45"/><circle cx="429.7" cy="204" r="2.45"/><circle cx="430.5" cy="198.9" r="2.45"/><circle cx="431" cy="200.9" r="2.45"/><circle cx="431.5" cy="202.1" r="2.45"/><circle cx="431.7" cy="198.3" r="2.45"/><circle cx="432" cy="201.9" r="2.45"/><circle cx="432.7" cy="199.9" r="2.45"/><circle cx="433" cy="207.6" r="2.45"/><circle cx="433.5" cy="206.8" r="2.45"/><circle cx="433.7" cy="207.1" r="2.45"/><circle cx="434" cy="210.2" r="2.45"/><circle cx="434.2" cy="206.1" r="2.45"/><circle cx="434.5" cy="209.2" r="2.45"/><circle cx="434.7" cy="205.7" r="2.45"/><circle cx="435" cy="209.1" r="2.45"/><circle cx="435.5" cy="203.5" r="2.45"/><circle cx="435.7" cy="200.3" r="2.45"/><circle cx="436.5" cy="205.4" r="2.45"/><circle cx="436.7" cy="206.6" r="2.45"/><circle cx="437.2" cy="205.1" r="2.45"/><circle cx="438" cy="208.6" r="2.45"/><circle cx="438.2" cy="212.2" r="2.45"/><circle cx="438.7" cy="208.2" r="2.45"/><circle cx="439" cy="202.8" r="2.45"/><circle cx="439.7" cy="204.8" r="2.45"/><circle cx="440.2" cy="208.1" r="2.45"/><circle cx="440.7" cy="203.3" r="2.45"/><circle cx="441" cy="207.7" r="2.45"/><circle cx="441.5" cy="211.3" r="2.45"/><circle cx="441.7" cy="207.9" r="2.45"/><circle cx="442.2" cy="202.9" r="2.45"/><circle cx="443.2" cy="210.1" r="2.45"/><circle cx="443.5" cy="210.8" r="2.45"/><circle cx="443.7" cy="203.8" r="2.45"/><circle cx="444.2" cy="200" r="2.45"/><circle cx="445" cy="206.4" r="2.45"/><circle cx="446.7" cy="207.8" r="2.45"/><circle cx="447.7" cy="203.6" r="2.45"/>
</g>
<g fill="url(#r)" class="D" clip-path="url(#cb)">
<circle cx="305.7" cy="55" r="2.45"/><circle cx="306" cy="52.3" r="2.45"/><circle cx="306.2" cy="53.1" r="2.45"/><circle cx="306.5" cy="57.1" r="2.45"/><circle cx="306.7" cy="55.4" r="2.45"/><circle cx="307" cy="53.3" r="2.45"/><circle cx="307.2" cy="57.6" r="2.45"/><circle cx="307.5" cy="61.2" r="2.45"/><circle cx="307.7" cy="60.4" r="2.45"/><circle cx="308" cy="59.3" r="2.45"/><circle cx="308.2" cy="62.6" r="2.45"/><circle cx="308.5" cy="59.2" r="2.45"/><circle cx="308.7" cy="61.1" r="2.45"/><circle cx="309" cy="64" r="2.45"/><circle cx="309.2" cy="66.5" r="2.45"/><circle cx="309.5" cy="70.1" r="2.45"/><circle cx="309.7" cy="66.9" r="2.45"/><circle cx="310" cy="69.6" r="2.45"/><circle cx="310.2" cy="66" r="2.45"/><circle cx="310.5" cy="70" r="2.45"/><circle cx="310.7" cy="70.7" r="2.45"/><circle cx="311" cy="74.5" r="2.45"/><circle cx="311.2" cy="71.4" r="2.45"/><circle cx="311.5" cy="73.7" r="2.45"/><circle cx="311.7" cy="75.9" r="2.45"/><circle cx="312" cy="72" r="2.45"/><circle cx="312.2" cy="76.4" r="2.45"/><circle cx="312.5" cy="75.3" r="2.45"/><circle cx="312.7" cy="74.5" r="2.45"/><circle cx="313" cy="77.3" r="2.45"/><circle cx="313.2" cy="77.7" r="2.45"/><circle cx="313.5" cy="80.4" r="2.45"/><circle cx="313.7" cy="79.5" r="2.45"/><circle cx="314" cy="79.9" r="2.45"/><circle cx="314.2" cy="82.3" r="2.45"/><circle cx="314.5" cy="81.8" r="2.45"/><circle cx="314.7" cy="84.2" r="2.45"/><circle cx="315" cy="84.3" r="2.45"/><circle cx="315.2" cy="83.5" r="2.45"/><circle cx="315.5" cy="79.3" r="2.45"/><circle cx="315.7" cy="82.1" r="2.45"/><circle cx="316" cy="85.8" r="2.45"/><circle cx="316.2" cy="86.4" r="2.45"/><circle cx="316.5" cy="87.6" r="2.45"/><circle cx="316.7" cy="84.7" r="2.45"/><circle cx="317" cy="86.1" r="2.45"/><circle cx="317.2" cy="87.6" r="2.45"/><circle cx="317.5" cy="87.4" r="2.45"/><circle cx="317.7" cy="88.4" r="2.45"/><circle cx="318" cy="83.6" r="2.45"/><circle cx="318.2" cy="84.5" r="2.45"/><circle cx="318.5" cy="86.7" r="2.45"/><circle cx="318.7" cy="87.3" r="2.45"/><circle cx="319" cy="84.3" r="2.45"/><circle cx="319.2" cy="95.6" r="2.45"/><circle cx="319.5" cy="90.5" r="2.45"/><circle cx="319.7" cy="92.6" r="2.45"/><circle cx="320" cy="92.8" r="2.45"/><circle cx="320.2" cy="89.4" r="2.45"/><circle cx="320.5" cy="92.3" r="2.45"/><circle cx="320.7" cy="84.5" r="2.45"/><circle cx="321" cy="88.6" r="2.45"/><circle cx="321.2" cy="92.5" r="2.45"/><circle cx="321.5" cy="90.6" r="2.45"/><circle cx="321.7" cy="91.6" r="2.45"/><circle cx="322" cy="90.4" r="2.45"/><circle cx="322.2" cy="92.6" r="2.45"/><circle cx="322.5" cy="89.7" r="2.45"/><circle cx="322.7" cy="92.3" r="2.45"/><circle cx="323" cy="96.5" r="2.45"/><circle cx="323.2" cy="94.1" r="2.45"/><circle cx="323.5" cy="91.5" r="2.45"/><circle cx="323.7" cy="92.6" r="2.45"/><circle cx="324" cy="93.5" r="2.45"/><circle cx="324.2" cy="93.7" r="2.45"/><circle cx="324.5" cy="96" r="2.45"/><circle cx="324.7" cy="93.7" r="2.45"/><circle cx="325" cy="97.6" r="2.45"/><circle cx="325.2" cy="98.3" r="2.45"/><circle cx="325.5" cy="93.4" r="2.45"/><circle cx="325.7" cy="94.6" r="2.45"/><circle cx="326" cy="95" r="2.45"/><circle cx="326.2" cy="97.1" r="2.45"/><circle cx="326.5" cy="98.6" r="2.45"/><circle cx="326.7" cy="98.8" r="2.45"/><circle cx="327" cy="95.4" r="2.45"/><circle cx="327.2" cy="92.4" r="2.45"/><circle cx="327.5" cy="98.2" r="2.45"/><circle cx="327.7" cy="100.2" r="2.45"/><circle cx="328" cy="94.2" r="2.45"/><circle cx="328.2" cy="97.8" r="2.45"/><circle cx="328.5" cy="96.9" r="2.45"/><circle cx="328.7" cy="95.4" r="2.45"/><circle cx="329" cy="101.6" r="2.45"/><circle cx="329.2" cy="96.8" r="2.45"/><circle cx="329.5" cy="98.6" r="2.45"/><circle cx="329.7" cy="94.1" r="2.45"/><circle cx="330" cy="97.1" r="2.45"/><circle cx="330.2" cy="96.5" r="2.45"/><circle cx="330.5" cy="93" r="2.45"/><circle cx="330.7" cy="99.7" r="2.45"/><circle cx="331" cy="99" r="2.45"/><circle cx="331.2" cy="97.3" r="2.45"/><circle cx="331.5" cy="97.6" r="2.45"/><circle cx="331.7" cy="97.7" r="2.45"/><circle cx="332" cy="97.1" r="2.45"/><circle cx="332.2" cy="104.7" r="2.45"/><circle cx="332.5" cy="100" r="2.45"/><circle cx="332.7" cy="102.7" r="2.45"/><circle cx="333" cy="102.9" r="2.45"/><circle cx="333.2" cy="100.7" r="2.45"/><circle cx="333.5" cy="93.1" r="2.45"/><circle cx="333.7" cy="98.7" r="2.45"/><circle cx="334" cy="100.7" r="2.45"/><circle cx="334.2" cy="100.8" r="2.45"/><circle cx="334.5" cy="99.7" r="2.45"/><circle cx="334.7" cy="98.8" r="2.45"/><circle cx="335" cy="100.4" r="2.45"/><circle cx="335.2" cy="102.7" r="2.45"/><circle cx="335.5" cy="105.6" r="2.45"/><circle cx="335.7" cy="97.6" r="2.45"/><circle cx="336" cy="104.7" r="2.45"/><circle cx="336.2" cy="100.4" r="2.45"/><circle cx="336.5" cy="108" r="2.45"/><circle cx="336.7" cy="98" r="2.45"/><circle cx="337" cy="104.1" r="2.45"/><circle cx="337.2" cy="102.9" r="2.45"/><circle cx="337.5" cy="107.5" r="2.45"/><circle cx="337.7" cy="101.9" r="2.45"/><circle cx="338" cy="100.1" r="2.45"/><circle cx="338.2" cy="105" r="2.45"/><circle cx="338.5" cy="104.1" r="2.45"/><circle cx="338.7" cy="106.2" r="2.45"/><circle cx="339" cy="110.6" r="2.45"/><circle cx="339.2" cy="98.9" r="2.45"/><circle cx="339.5" cy="103.7" r="2.45"/><circle cx="339.7" cy="107.4" r="2.45"/><circle cx="340" cy="106.1" r="2.45"/><circle cx="340.2" cy="102.9" r="2.45"/><circle cx="340.5" cy="103.8" r="2.45"/><circle cx="340.7" cy="102.6" r="2.45"/><circle cx="341" cy="111.3" r="2.45"/><circle cx="341.2" cy="104.4" r="2.45"/><circle cx="341.5" cy="105.3" r="2.45"/><circle cx="341.7" cy="105.2" r="2.45"/><circle cx="342" cy="111.9" r="2.45"/><circle cx="342.2" cy="111.9" r="2.45"/><circle cx="342.5" cy="103.5" r="2.45"/><circle cx="342.7" cy="108.9" r="2.45"/><circle cx="343" cy="108.3" r="2.45"/><circle cx="343.2" cy="102.6" r="2.45"/><circle cx="343.5" cy="102.2" r="2.45"/><circle cx="343.7" cy="108.7" r="2.45"/><circle cx="344" cy="105.6" r="2.45"/><circle cx="344.2" cy="103.3" r="2.45"/><circle cx="344.5" cy="105.2" r="2.45"/><circle cx="344.7" cy="103.5" r="2.45"/><circle cx="345" cy="110.9" r="2.45"/><circle cx="345.3" cy="102.2" r="2.45"/><circle cx="345.5" cy="108.8" r="2.45"/><circle cx="345.8" cy="112.2" r="2.45"/><circle cx="346" cy="110.8" r="2.45"/><circle cx="346.3" cy="108.8" r="2.45"/><circle cx="346.5" cy="111.5" r="2.45"/><circle cx="346.8" cy="111.9" r="2.45"/><circle cx="347" cy="111.2" r="2.45"/><circle cx="347.3" cy="105.5" r="2.45"/><circle cx="347.5" cy="108.6" r="2.45"/><circle cx="347.8" cy="112.2" r="2.45"/><circle cx="348" cy="107.3" r="2.45"/><circle cx="348.3" cy="103.4" r="2.45"/><circle cx="348.5" cy="113.1" r="2.45"/><circle cx="348.8" cy="110.6" r="2.45"/><circle cx="349" cy="108.4" r="2.45"/><circle cx="349.3" cy="109.3" r="2.45"/><circle cx="349.5" cy="108.8" r="2.45"/><circle cx="349.8" cy="107.9" r="2.45"/><circle cx="350" cy="106.9" r="2.45"/><circle cx="350.3" cy="114.3" r="2.45"/><circle cx="350.5" cy="105.9" r="2.45"/><circle cx="350.8" cy="107.9" r="2.45"/><circle cx="351" cy="107.5" r="2.45"/><circle cx="351.3" cy="109.1" r="2.45"/><circle cx="351.5" cy="114.4" r="2.45"/><circle cx="351.8" cy="113.7" r="2.45"/><circle cx="352" cy="112.8" r="2.45"/><circle cx="352.3" cy="107" r="2.45"/><circle cx="352.5" cy="116" r="2.45"/><circle cx="352.8" cy="108.1" r="2.45"/><circle cx="353" cy="108" r="2.45"/><circle cx="353.3" cy="113.4" r="2.45"/><circle cx="353.5" cy="120.6" r="2.45"/><circle cx="353.8" cy="112.7" r="2.45"/><circle cx="354" cy="112.9" r="2.45"/><circle cx="354.3" cy="115.6" r="2.45"/><circle cx="354.5" cy="118.8" r="2.45"/><circle cx="354.8" cy="115.2" r="2.45"/><circle cx="355" cy="112.8" r="2.45"/><circle cx="355.3" cy="113.3" r="2.45"/><circle cx="355.5" cy="118.4" r="2.45"/><circle cx="355.8" cy="115.2" r="2.45"/><circle cx="356" cy="112.8" r="2.45"/><circle cx="356.3" cy="117.2" r="2.45"/><circle cx="356.5" cy="113.3" r="2.45"/><circle cx="356.8" cy="118.1" r="2.45"/><circle cx="357" cy="110.6" r="2.45"/><circle cx="357.3" cy="116.9" r="2.45"/><circle cx="357.5" cy="117.8" r="2.45"/><circle cx="357.8" cy="115.2" r="2.45"/><circle cx="358" cy="109.4" r="2.45"/><circle cx="358.3" cy="117.4" r="2.45"/><circle cx="358.5" cy="116.9" r="2.45"/><circle cx="358.8" cy="112.1" r="2.45"/><circle cx="359" cy="118.5" r="2.45"/><circle cx="359.3" cy="109.4" r="2.45"/><circle cx="359.5" cy="117.4" r="2.45"/><circle cx="359.8" cy="120.3" r="2.45"/><circle cx="360" cy="121.7" r="2.45"/><circle cx="360.3" cy="115.8" r="2.45"/><circle cx="360.5" cy="116.2" r="2.45"/><circle cx="360.8" cy="114.8" r="2.45"/><circle cx="361" cy="116.6" r="2.45"/><circle cx="361.3" cy="118.1" r="2.45"/><circle cx="361.5" cy="120.2" r="2.45"/><circle cx="361.8" cy="115.3" r="2.45"/><circle cx="362" cy="121.6" r="2.45"/><circle cx="362.3" cy="114.4" r="2.45"/><circle cx="362.5" cy="114.5" r="2.45"/><circle cx="362.8" cy="112.8" r="2.45"/><circle cx="363" cy="115.8" r="2.45"/><circle cx="363.3" cy="116.8" r="2.45"/><circle cx="363.5" cy="121.2" r="2.45"/><circle cx="363.8" cy="119.9" r="2.45"/><circle cx="364" cy="117.2" r="2.45"/><circle cx="364.3" cy="119.9" r="2.45"/><circle cx="364.5" cy="120.3" r="2.45"/><circle cx="364.8" cy="116.1" r="2.45"/><circle cx="365" cy="113.2" r="2.45"/><circle cx="365.3" cy="119.4" r="2.45"/><circle cx="365.5" cy="116.3" r="2.45"/><circle cx="365.8" cy="116" r="2.45"/><circle cx="366" cy="120.2" r="2.45"/><circle cx="366.3" cy="125.4" r="2.45"/><circle cx="366.5" cy="121.3" r="2.45"/><circle cx="366.8" cy="121.5" r="2.45"/><circle cx="367" cy="123.6" r="2.45"/><circle cx="367.3" cy="117.8" r="2.45"/><circle cx="367.5" cy="123.9" r="2.45"/><circle cx="367.8" cy="119.1" r="2.45"/><circle cx="368" cy="124.6" r="2.45"/><circle cx="368.3" cy="125.5" r="2.45"/><circle cx="368.5" cy="124.4" r="2.45"/><circle cx="368.8" cy="128.4" r="2.45"/><circle cx="369" cy="121.8" r="2.45"/><circle cx="369.3" cy="119.3" r="2.45"/><circle cx="369.5" cy="121.3" r="2.45"/><circle cx="369.8" cy="121.3" r="2.45"/><circle cx="370" cy="123.9" r="2.45"/><circle cx="370.3" cy="123.5" r="2.45"/><circle cx="370.5" cy="119.3" r="2.45"/><circle cx="370.8" cy="123" r="2.45"/><circle cx="371" cy="129.6" r="2.45"/><circle cx="371.3" cy="126.8" r="2.45"/><circle cx="371.5" cy="123.2" r="2.45"/><circle cx="371.8" cy="121.9" r="2.45"/><circle cx="372" cy="126.2" r="2.45"/><circle cx="372.3" cy="126.1" r="2.45"/><circle cx="372.5" cy="123.9" r="2.45"/><circle cx="372.8" cy="124.1" r="2.45"/><circle cx="373" cy="125.9" r="2.45"/><circle cx="373.3" cy="116.6" r="2.45"/><circle cx="373.5" cy="119.7" r="2.45"/><circle cx="373.8" cy="118.8" r="2.45"/><circle cx="374" cy="125.4" r="2.45"/><circle cx="374.3" cy="131.1" r="2.45"/><circle cx="374.5" cy="126" r="2.45"/><circle cx="374.8" cy="127.8" r="2.45"/><circle cx="375" cy="128.6" r="2.45"/><circle cx="375.3" cy="125.9" r="2.45"/><circle cx="375.5" cy="127.5" r="2.45"/><circle cx="375.8" cy="130.5" r="2.45"/><circle cx="376" cy="122.6" r="2.45"/><circle cx="376.3" cy="129.6" r="2.45"/><circle cx="376.5" cy="123.4" r="2.45"/><circle cx="376.8" cy="124.4" r="2.45"/><circle cx="377" cy="122.8" r="2.45"/><circle cx="377.3" cy="126.4" r="2.45"/><circle cx="377.5" cy="131.6" r="2.45"/><circle cx="377.8" cy="126" r="2.45"/><circle cx="378" cy="124.5" r="2.45"/><circle cx="378.3" cy="124.2" r="2.45"/><circle cx="378.5" cy="126.7" r="2.45"/><circle cx="378.8" cy="122.1" r="2.45"/><circle cx="379" cy="128.3" r="2.45"/><circle cx="379.3" cy="130.8" r="2.45"/><circle cx="379.5" cy="125.9" r="2.45"/><circle cx="379.8" cy="126.9" r="2.45"/><circle cx="380" cy="128.3" r="2.45"/><circle cx="380.3" cy="130.4" r="2.45"/><circle cx="380.5" cy="128.6" r="2.45"/><circle cx="380.8" cy="126.9" r="2.45"/><circle cx="381" cy="127.7" r="2.45"/><circle cx="381.3" cy="131.3" r="2.45"/><circle cx="381.5" cy="127.9" r="2.45"/><circle cx="381.8" cy="132" r="2.45"/><circle cx="382" cy="134.6" r="2.45"/><circle cx="382.3" cy="134.1" r="2.45"/><circle cx="382.5" cy="133.6" r="2.45"/><circle cx="382.8" cy="128.8" r="2.45"/><circle cx="383" cy="129.6" r="2.45"/><circle cx="383.3" cy="131.7" r="2.45"/><circle cx="383.5" cy="125.9" r="2.45"/><circle cx="383.8" cy="131.9" r="2.45"/><circle cx="384.1" cy="131.9" r="2.45"/><circle cx="384.3" cy="132.3" r="2.45"/><circle cx="384.6" cy="130.5" r="2.45"/><circle cx="384.8" cy="127.8" r="2.45"/><circle cx="385.1" cy="133.3" r="2.45"/><circle cx="385.3" cy="128.9" r="2.45"/><circle cx="385.6" cy="132.9" r="2.45"/><circle cx="385.8" cy="128.7" r="2.45"/><circle cx="386.1" cy="126.4" r="2.45"/><circle cx="386.3" cy="133.1" r="2.45"/><circle cx="386.6" cy="133.4" r="2.45"/><circle cx="386.8" cy="131.8" r="2.45"/><circle cx="387.1" cy="133.2" r="2.45"/><circle cx="387.3" cy="131.3" r="2.45"/><circle cx="387.6" cy="130.3" r="2.45"/><circle cx="387.8" cy="140.1" r="2.45"/><circle cx="388.1" cy="138.5" r="2.45"/><circle cx="388.3" cy="129.8" r="2.45"/><circle cx="388.6" cy="135.6" r="2.45"/><circle cx="388.8" cy="137" r="2.45"/><circle cx="389.1" cy="133.5" r="2.45"/><circle cx="389.3" cy="138.8" r="2.45"/><circle cx="389.6" cy="129.1" r="2.45"/><circle cx="389.8" cy="134" r="2.45"/><circle cx="390.1" cy="125.2" r="2.45"/><circle cx="390.3" cy="143.3" r="2.45"/><circle cx="390.6" cy="131.2" r="2.45"/><circle cx="390.8" cy="129.8" r="2.45"/><circle cx="391.1" cy="133.2" r="2.45"/><circle cx="391.3" cy="133.5" r="2.45"/><circle cx="391.6" cy="134.6" r="2.45"/><circle cx="391.8" cy="131.9" r="2.45"/><circle cx="392.1" cy="135.6" r="2.45"/><circle cx="392.3" cy="137.1" r="2.45"/><circle cx="392.6" cy="134" r="2.45"/><circle cx="392.8" cy="135.2" r="2.45"/><circle cx="393.1" cy="131.9" r="2.45"/><circle cx="393.3" cy="132.9" r="2.45"/><circle cx="393.6" cy="133.2" r="2.45"/><circle cx="393.8" cy="144.1" r="2.45"/><circle cx="394.1" cy="136.8" r="2.45"/><circle cx="394.3" cy="141" r="2.45"/><circle cx="394.6" cy="140.6" r="2.45"/><circle cx="394.8" cy="128.2" r="2.45"/><circle cx="395.1" cy="134.1" r="2.45"/><circle cx="395.3" cy="140.5" r="2.45"/><circle cx="395.6" cy="131.2" r="2.45"/><circle cx="395.8" cy="139.2" r="2.45"/><circle cx="396.1" cy="133.8" r="2.45"/><circle cx="396.3" cy="134.1" r="2.45"/><circle cx="396.6" cy="142.3" r="2.45"/><circle cx="396.8" cy="136.3" r="2.45"/><circle cx="397.1" cy="136.2" r="2.45"/><circle cx="397.3" cy="133.8" r="2.45"/><circle cx="397.6" cy="142" r="2.45"/><circle cx="397.8" cy="143.2" r="2.45"/><circle cx="398.1" cy="133.4" r="2.45"/><circle cx="398.3" cy="135.5" r="2.45"/><circle cx="398.6" cy="137" r="2.45"/><circle cx="398.8" cy="144.5" r="2.45"/><circle cx="399.1" cy="139.5" r="2.45"/><circle cx="399.3" cy="143.4" r="2.45"/><circle cx="399.6" cy="141.6" r="2.45"/><circle cx="399.8" cy="147.9" r="2.45"/><circle cx="400.1" cy="137.7" r="2.45"/><circle cx="400.3" cy="140.5" r="2.45"/><circle cx="400.6" cy="144.7" r="2.45"/><circle cx="400.8" cy="141.8" r="2.45"/><circle cx="401.1" cy="141.9" r="2.45"/><circle cx="401.3" cy="141.1" r="2.45"/><circle cx="401.6" cy="153" r="2.45"/><circle cx="401.8" cy="136.8" r="2.45"/><circle cx="402.1" cy="142.2" r="2.45"/><circle cx="402.3" cy="140.7" r="2.45"/><circle cx="402.6" cy="143.1" r="2.45"/><circle cx="402.8" cy="137.2" r="2.45"/><circle cx="403.1" cy="147.5" r="2.45"/><circle cx="403.3" cy="138.2" r="2.45"/><circle cx="403.6" cy="144.1" r="2.45"/><circle cx="403.8" cy="148.4" r="2.45"/><circle cx="404.1" cy="144.3" r="2.45"/><circle cx="404.3" cy="144.7" r="2.45"/><circle cx="404.6" cy="141.1" r="2.45"/><circle cx="404.8" cy="144.3" r="2.45"/><circle cx="405.1" cy="141.5" r="2.45"/><circle cx="405.3" cy="144.6" r="2.45"/><circle cx="405.6" cy="139" r="2.45"/><circle cx="405.8" cy="137.8" r="2.45"/><circle cx="406.1" cy="141.1" r="2.45"/><circle cx="406.3" cy="146.3" r="2.45"/><circle cx="406.6" cy="139.2" r="2.45"/><circle cx="406.8" cy="136.7" r="2.45"/><circle cx="407.1" cy="141.9" r="2.45"/><circle cx="407.3" cy="145" r="2.45"/><circle cx="407.6" cy="139.3" r="2.45"/><circle cx="407.8" cy="148.3" r="2.45"/><circle cx="408.1" cy="134.6" r="2.45"/><circle cx="408.3" cy="141" r="2.45"/><circle cx="408.6" cy="146.4" r="2.45"/><circle cx="408.8" cy="141" r="2.45"/><circle cx="409.1" cy="143.9" r="2.45"/><circle cx="409.3" cy="144.1" r="2.45"/><circle cx="409.6" cy="148.7" r="2.45"/><circle cx="409.8" cy="140.6" r="2.45"/><circle cx="410.1" cy="148.6" r="2.45"/><circle cx="410.3" cy="138.9" r="2.45"/><circle cx="410.6" cy="153.3" r="2.45"/><circle cx="410.8" cy="144.7" r="2.45"/><circle cx="411.1" cy="144.1" r="2.45"/><circle cx="411.3" cy="150.7" r="2.45"/><circle cx="411.6" cy="150.7" r="2.45"/><circle cx="411.8" cy="149.5" r="2.45"/><circle cx="412.1" cy="149" r="2.45"/><circle cx="412.3" cy="149.8" r="2.45"/><circle cx="412.6" cy="146.1" r="2.45"/><circle cx="412.8" cy="146.1" r="2.45"/><circle cx="413.1" cy="150.3" r="2.45"/><circle cx="413.3" cy="150.3" r="2.45"/><circle cx="413.6" cy="144.6" r="2.45"/><circle cx="413.8" cy="149.3" r="2.45"/><circle cx="414.1" cy="150.2" r="2.45"/><circle cx="414.3" cy="152.1" r="2.45"/><circle cx="414.6" cy="146.6" r="2.45"/><circle cx="414.8" cy="149.2" r="2.45"/><circle cx="415.1" cy="147.4" r="2.45"/><circle cx="415.3" cy="139.7" r="2.45"/><circle cx="415.6" cy="147.3" r="2.45"/><circle cx="415.8" cy="139" r="2.45"/><circle cx="416.1" cy="147.8" r="2.45"/><circle cx="416.3" cy="151.2" r="2.45"/><circle cx="416.6" cy="149.9" r="2.45"/><circle cx="416.8" cy="153.1" r="2.45"/><circle cx="417.1" cy="147.4" r="2.45"/><circle cx="417.3" cy="146.2" r="2.45"/><circle cx="417.6" cy="148.2" r="2.45"/><circle cx="417.8" cy="151.6" r="2.45"/><circle cx="418.1" cy="146.3" r="2.45"/><circle cx="418.3" cy="152.2" r="2.45"/><circle cx="418.6" cy="138.8" r="2.45"/><circle cx="418.8" cy="147.1" r="2.45"/><circle cx="419.1" cy="148.7" r="2.45"/><circle cx="419.3" cy="158.5" r="2.45"/><circle cx="419.6" cy="152.4" r="2.45"/><circle cx="419.8" cy="145.4" r="2.45"/><circle cx="420.1" cy="147" r="2.45"/><circle cx="420.3" cy="152.5" r="2.45"/><circle cx="420.6" cy="146.5" r="2.45"/><circle cx="420.8" cy="150.7" r="2.45"/><circle cx="421.1" cy="155.5" r="2.45"/><circle cx="421.3" cy="153.7" r="2.45"/><circle cx="421.6" cy="147.4" r="2.45"/><circle cx="421.8" cy="152.6" r="2.45"/><circle cx="422.1" cy="151.7" r="2.45"/><circle cx="422.3" cy="144.7" r="2.45"/><circle cx="422.6" cy="157.5" r="2.45"/><circle cx="422.8" cy="150" r="2.45"/><circle cx="423.1" cy="150.3" r="2.45"/><circle cx="423.4" cy="150.6" r="2.45"/><circle cx="423.6" cy="158.1" r="2.45"/><circle cx="423.9" cy="149.8" r="2.45"/><circle cx="424.1" cy="146.8" r="2.45"/><circle cx="424.4" cy="148.9" r="2.45"/><circle cx="424.6" cy="154.9" r="2.45"/><circle cx="424.9" cy="160.3" r="2.45"/><circle cx="425.1" cy="152.7" r="2.45"/><circle cx="425.4" cy="151.4" r="2.45"/><circle cx="425.6" cy="158" r="2.45"/><circle cx="425.9" cy="160.1" r="2.45"/><circle cx="426.1" cy="147.9" r="2.45"/><circle cx="426.4" cy="163.1" r="2.45"/><circle cx="426.6" cy="149.9" r="2.45"/><circle cx="426.9" cy="144.2" r="2.45"/><circle cx="427.1" cy="161.7" r="2.45"/><circle cx="427.4" cy="153" r="2.45"/><circle cx="427.6" cy="154.1" r="2.45"/><circle cx="427.9" cy="157.2" r="2.45"/><circle cx="428.1" cy="160.6" r="2.45"/><circle cx="428.4" cy="150.6" r="2.45"/><circle cx="428.6" cy="154.5" r="2.45"/><circle cx="428.9" cy="153.9" r="2.45"/><circle cx="429.1" cy="155.5" r="2.45"/><circle cx="429.4" cy="155.3" r="2.45"/><circle cx="429.6" cy="145.7" r="2.45"/><circle cx="429.9" cy="156.2" r="2.45"/><circle cx="430.1" cy="149.8" r="2.45"/><circle cx="430.4" cy="156.2" r="2.45"/><circle cx="430.6" cy="154.6" r="2.45"/><circle cx="430.9" cy="169.1" r="2.45"/><circle cx="431.1" cy="158.7" r="2.45"/><circle cx="431.4" cy="153.8" r="2.45"/><circle cx="431.6" cy="153" r="2.45"/><circle cx="431.9" cy="149.4" r="2.45"/><circle cx="432.1" cy="162.5" r="2.45"/><circle cx="432.4" cy="162.5" r="2.45"/><circle cx="432.6" cy="161.7" r="2.45"/><circle cx="432.9" cy="159.3" r="2.45"/><circle cx="433.1" cy="152.5" r="2.45"/><circle cx="433.4" cy="161.3" r="2.45"/><circle cx="433.6" cy="167.5" r="2.45"/><circle cx="433.9" cy="158.8" r="2.45"/><circle cx="434.1" cy="162.8" r="2.45"/><circle cx="434.4" cy="164.9" r="2.45"/><circle cx="434.6" cy="158.5" r="2.45"/><circle cx="434.9" cy="160.1" r="2.45"/><circle cx="435.1" cy="154.2" r="2.45"/><circle cx="435.4" cy="154.7" r="2.45"/><circle cx="435.6" cy="155.8" r="2.45"/><circle cx="435.9" cy="153.6" r="2.45"/><circle cx="436.1" cy="155.8" r="2.45"/><circle cx="436.4" cy="146.3" r="2.45"/><circle cx="436.6" cy="158.6" r="2.45"/><circle cx="436.9" cy="159.1" r="2.45"/><circle cx="437.1" cy="154.5" r="2.45"/><circle cx="437.4" cy="162.5" r="2.45"/><circle cx="437.6" cy="156.7" r="2.45"/><circle cx="437.9" cy="159.3" r="2.45"/><circle cx="438.1" cy="159.3" r="2.45"/><circle cx="438.4" cy="165.2" r="2.45"/><circle cx="438.6" cy="162.6" r="2.45"/><circle cx="438.9" cy="158.6" r="2.45"/><circle cx="439.1" cy="159.3" r="2.45"/><circle cx="439.4" cy="171.8" r="2.45"/><circle cx="439.6" cy="165.5" r="2.45"/><circle cx="439.9" cy="157.3" r="2.45"/><circle cx="440.1" cy="160.6" r="2.45"/><circle cx="440.4" cy="158.9" r="2.45"/><circle cx="440.6" cy="162.5" r="2.45"/><circle cx="440.9" cy="172.4" r="2.45"/><circle cx="441.1" cy="161.9" r="2.45"/><circle cx="441.4" cy="160.2" r="2.45"/><circle cx="441.6" cy="168.6" r="2.45"/><circle cx="441.9" cy="161.7" r="2.45"/><circle cx="442.1" cy="159.5" r="2.45"/><circle cx="442.4" cy="171.7" r="2.45"/><circle cx="442.6" cy="170.3" r="2.45"/><circle cx="442.9" cy="168.1" r="2.45"/><circle cx="443.1" cy="154.7" r="2.45"/><circle cx="443.4" cy="155.5" r="2.45"/><circle cx="443.6" cy="158.7" r="2.45"/><circle cx="443.9" cy="155.2" r="2.45"/><circle cx="444.1" cy="174.4" r="2.45"/><circle cx="444.4" cy="166.6" r="2.45"/><circle cx="444.6" cy="171" r="2.45"/><circle cx="444.9" cy="165" r="2.45"/><circle cx="445.1" cy="164.7" r="2.45"/><circle cx="445.4" cy="163.1" r="2.45"/><circle cx="445.6" cy="168.9" r="2.45"/><circle cx="445.9" cy="169.6" r="2.45"/><circle cx="446.1" cy="168.5" r="2.45"/><circle cx="446.4" cy="154.2" r="2.45"/><circle cx="446.6" cy="168.5" r="2.45"/><circle cx="446.9" cy="165" r="2.45"/><circle cx="447.1" cy="169.1" r="2.45"/><circle cx="447.4" cy="170.4" r="2.45"/><circle cx="447.6" cy="163" r="2.45"/><circle cx="447.9" cy="159.1" r="2.45"/><circle cx="448.1" cy="165.3" r="2.45"/><circle cx="448.4" cy="167" r="2.45"/><circle cx="448.6" cy="165.7" r="2.45"/><circle cx="448.9" cy="160.1" r="2.45"/><circle cx="449.1" cy="162.4" r="2.45"/><circle cx="449.4" cy="168.4" r="2.45"/><circle cx="449.6" cy="165.9" r="2.45"/><circle cx="449.9" cy="161.9" r="2.45"/><circle cx="450.1" cy="165.3" r="2.45"/><circle cx="450.4" cy="174.9" r="2.45"/><circle cx="450.6" cy="164.5" r="2.45"/><circle cx="450.9" cy="170" r="2.45"/><circle cx="451.1" cy="166.3" r="2.45"/><circle cx="451.4" cy="162.3" r="2.45"/><circle cx="451.6" cy="165.9" r="2.45"/><circle cx="451.9" cy="171.4" r="2.45"/><circle cx="452.1" cy="163.8" r="2.45"/><circle cx="452.4" cy="165.1" r="2.45"/><circle cx="452.6" cy="172.7" r="2.45"/><circle cx="452.9" cy="167.7" r="2.45"/><circle cx="453.1" cy="168.4" r="2.45"/><circle cx="453.4" cy="170.8" r="2.45"/><circle cx="453.6" cy="166.8" r="2.45"/><circle cx="453.9" cy="168.4" r="2.45"/><circle cx="454.1" cy="169.3" r="2.45"/><circle cx="454.4" cy="173.4" r="2.45"/><circle cx="454.6" cy="161.6" r="2.45"/><circle cx="454.9" cy="161.1" r="2.45"/><circle cx="455.1" cy="168.9" r="2.45"/><circle cx="455.4" cy="168.5" r="2.45"/><circle cx="455.6" cy="181.1" r="2.45"/><circle cx="455.9" cy="176.5" r="2.45"/><circle cx="456.1" cy="166.9" r="2.45"/><circle cx="456.4" cy="176.1" r="2.45"/><circle cx="456.6" cy="166.6" r="2.45"/><circle cx="456.9" cy="177.9" r="2.45"/><circle cx="457.1" cy="173.3" r="2.45"/><circle cx="457.4" cy="171.2" r="2.45"/><circle cx="457.6" cy="168.7" r="2.45"/><circle cx="457.9" cy="168.6" r="2.45"/><circle cx="458.1" cy="175.1" r="2.45"/><circle cx="458.4" cy="170.2" r="2.45"/><circle cx="458.6" cy="171.7" r="2.45"/><circle cx="458.9" cy="163.2" r="2.45"/><circle cx="459.1" cy="171.5" r="2.45"/><circle cx="459.4" cy="173.1" r="2.45"/><circle cx="459.6" cy="175.7" r="2.45"/><circle cx="459.9" cy="173.6" r="2.45"/><circle cx="460.1" cy="180.5" r="2.45"/><circle cx="460.4" cy="165.7" r="2.45"/><circle cx="460.6" cy="172.1" r="2.45"/><circle cx="460.9" cy="167.6" r="2.45"/><circle cx="461.1" cy="167.4" r="2.45"/><circle cx="461.4" cy="166.8" r="2.45"/><circle cx="461.6" cy="180.2" r="2.45"/><circle cx="461.9" cy="166.3" r="2.45"/><circle cx="462.1" cy="174.9" r="2.45"/><circle cx="462.4" cy="176.1" r="2.45"/><circle cx="462.7" cy="176.3" r="2.45"/><circle cx="462.9" cy="166.3" r="2.45"/><circle cx="463.2" cy="173.1" r="2.45"/><circle cx="463.4" cy="175.6" r="2.45"/><circle cx="463.7" cy="173.4" r="2.45"/><circle cx="463.9" cy="174.4" r="2.45"/><circle cx="464.2" cy="169.7" r="2.45"/><circle cx="464.4" cy="176.6" r="2.45"/><circle cx="464.7" cy="167.4" r="2.45"/><circle cx="464.9" cy="175.8" r="2.45"/><circle cx="465.2" cy="172.7" r="2.45"/><circle cx="465.4" cy="162.7" r="2.45"/><circle cx="465.7" cy="175" r="2.45"/><circle cx="465.9" cy="174.6" r="2.45"/><circle cx="466.2" cy="176.3" r="2.45"/><circle cx="466.4" cy="177.1" r="2.45"/><circle cx="466.7" cy="175.5" r="2.45"/><circle cx="466.9" cy="173.5" r="2.45"/><circle cx="467.2" cy="177.2" r="2.45"/><circle cx="467.4" cy="171.8" r="2.45"/><circle cx="467.7" cy="180.3" r="2.45"/><circle cx="467.9" cy="180.7" r="2.45"/><circle cx="468.2" cy="170.1" r="2.45"/><circle cx="468.4" cy="181.7" r="2.45"/><circle cx="468.7" cy="172.3" r="2.45"/><circle cx="468.9" cy="167.1" r="2.45"/><circle cx="469.2" cy="171.8" r="2.45"/><circle cx="469.4" cy="170.2" r="2.45"/><circle cx="469.7" cy="177.2" r="2.45"/><circle cx="469.9" cy="171.2" r="2.45"/><circle cx="470.2" cy="189.4" r="2.45"/><circle cx="470.4" cy="174.7" r="2.45"/><circle cx="470.7" cy="191.7" r="2.45"/><circle cx="470.9" cy="186.1" r="2.45"/><circle cx="471.2" cy="165.4" r="2.45"/><circle cx="471.4" cy="184.8" r="2.45"/><circle cx="471.7" cy="174.6" r="2.45"/><circle cx="471.9" cy="178.9" r="2.45"/><circle cx="472.2" cy="176.7" r="2.45"/><circle cx="472.4" cy="172.8" r="2.45"/><circle cx="472.7" cy="176.8" r="2.45"/><circle cx="472.9" cy="179.3" r="2.45"/><circle cx="473.2" cy="180.4" r="2.45"/><circle cx="473.4" cy="185.1" r="2.45"/><circle cx="473.7" cy="173.7" r="2.45"/><circle cx="473.9" cy="179.3" r="2.45"/><circle cx="474.2" cy="177.1" r="2.45"/><circle cx="474.4" cy="180.6" r="2.45"/><circle cx="474.7" cy="174.7" r="2.45"/><circle cx="474.9" cy="173" r="2.45"/><circle cx="475.2" cy="169.6" r="2.45"/><circle cx="475.4" cy="176.6" r="2.45"/><circle cx="475.7" cy="176.3" r="2.45"/><circle cx="475.9" cy="184.7" r="2.45"/><circle cx="476.2" cy="184.5" r="2.45"/><circle cx="476.4" cy="177.9" r="2.45"/><circle cx="476.7" cy="176.4" r="2.45"/><circle cx="476.9" cy="188.3" r="2.45"/><circle cx="477.2" cy="187.2" r="2.45"/><circle cx="477.4" cy="181.3" r="2.45"/><circle cx="477.7" cy="171.9" r="2.45"/><circle cx="477.9" cy="180.9" r="2.45"/><circle cx="478.2" cy="180.6" r="2.45"/><circle cx="478.4" cy="191.5" r="2.45"/><circle cx="478.7" cy="186.5" r="2.45"/><circle cx="478.9" cy="182" r="2.45"/><circle cx="479.2" cy="186.9" r="2.45"/><circle cx="479.4" cy="177.6" r="2.45"/><circle cx="479.7" cy="170.1" r="2.45"/><circle cx="479.9" cy="176.3" r="2.45"/><circle cx="480.2" cy="177.1" r="2.45"/><circle cx="480.4" cy="183.1" r="2.45"/><circle cx="480.7" cy="177.2" r="2.45"/><circle cx="480.9" cy="168.8" r="2.45"/><circle cx="481.2" cy="180.1" r="2.45"/><circle cx="481.4" cy="183.7" r="2.45"/><circle cx="481.7" cy="173.8" r="2.45"/><circle cx="481.9" cy="180.9" r="2.45"/><circle cx="482.2" cy="182.5" r="2.45"/><circle cx="482.4" cy="185.1" r="2.45"/><circle cx="482.7" cy="189.5" r="2.45"/><circle cx="482.9" cy="188.7" r="2.45"/><circle cx="483.2" cy="193.3" r="2.45"/><circle cx="483.4" cy="179.4" r="2.45"/><circle cx="483.7" cy="182.6" r="2.45"/><circle cx="483.9" cy="180.4" r="2.45"/><circle cx="484.2" cy="174.1" r="2.45"/><circle cx="484.4" cy="187.1" r="2.45"/><circle cx="484.7" cy="187.1" r="2.45"/><circle cx="484.9" cy="184.3" r="2.45"/><circle cx="485.2" cy="178.6" r="2.45"/><circle cx="485.4" cy="193.3" r="2.45"/><circle cx="485.7" cy="189.8" r="2.45"/><circle cx="485.9" cy="179.8" r="2.45"/><circle cx="486.2" cy="185.8" r="2.45"/><circle cx="486.4" cy="186.3" r="2.45"/><circle cx="486.7" cy="172.1" r="2.45"/><circle cx="486.9" cy="187.2" r="2.45"/><circle cx="487.2" cy="183.2" r="2.45"/><circle cx="487.4" cy="185.8" r="2.45"/><circle cx="487.7" cy="180.5" r="2.45"/><circle cx="487.9" cy="177.1" r="2.45"/><circle cx="488.2" cy="187.3" r="2.45"/><circle cx="488.4" cy="179.4" r="2.45"/><circle cx="488.7" cy="183.4" r="2.45"/><circle cx="488.9" cy="197.2" r="2.45"/><circle cx="489.2" cy="192.8" r="2.45"/><circle cx="489.4" cy="183.9" r="2.45"/><circle cx="489.7" cy="184.8" r="2.45"/><circle cx="489.9" cy="193.2" r="2.45"/><circle cx="490.2" cy="186.1" r="2.45"/><circle cx="490.4" cy="179.3" r="2.45"/><circle cx="490.7" cy="186.1" r="2.45"/><circle cx="490.9" cy="176.7" r="2.45"/><circle cx="491.2" cy="173.3" r="2.45"/><circle cx="491.4" cy="178.3" r="2.45"/><circle cx="491.7" cy="182.7" r="2.45"/><circle cx="491.9" cy="194.3" r="2.45"/><circle cx="492.2" cy="177.7" r="2.45"/><circle cx="492.4" cy="187.4" r="2.45"/><circle cx="492.7" cy="176.2" r="2.45"/><circle cx="492.9" cy="187.2" r="2.45"/><circle cx="493.2" cy="188.2" r="2.45"/><circle cx="493.4" cy="189.3" r="2.45"/><circle cx="493.7" cy="185.1" r="2.45"/><circle cx="493.9" cy="183.4" r="2.45"/><circle cx="494.2" cy="188.4" r="2.45"/><circle cx="494.4" cy="190.2" r="2.45"/><circle cx="494.7" cy="174.4" r="2.45"/><circle cx="494.9" cy="188.6" r="2.45"/><circle cx="495.2" cy="176.5" r="2.45"/><circle cx="495.4" cy="180.6" r="2.45"/><circle cx="495.7" cy="175.5" r="2.45"/><circle cx="495.9" cy="185.8" r="2.45"/><circle cx="496.2" cy="173.6" r="2.45"/><circle cx="496.4" cy="188.7" r="2.45"/><circle cx="496.7" cy="180.2" r="2.45"/><circle cx="496.9" cy="192.6" r="2.45"/><circle cx="497.2" cy="195.5" r="2.45"/><circle cx="497.4" cy="177.8" r="2.45"/><circle cx="497.7" cy="183.5" r="2.45"/><circle cx="497.9" cy="190.3" r="2.45"/><circle cx="498.2" cy="195.4" r="2.45"/><circle cx="498.4" cy="197.3" r="2.45"/><circle cx="498.7" cy="183.2" r="2.45"/><circle cx="498.9" cy="192.3" r="2.45"/><circle cx="499.2" cy="188.5" r="2.45"/><circle cx="499.4" cy="193.9" r="2.45"/><circle cx="499.7" cy="188.8" r="2.45"/><circle cx="499.9" cy="191.3" r="2.45"/><circle cx="500.2" cy="185.8" r="2.45"/><circle cx="500.4" cy="185" r="2.45"/><circle cx="500.7" cy="183" r="2.45"/><circle cx="500.9" cy="183.7" r="2.45"/><circle cx="501.2" cy="182.6" r="2.45"/><circle cx="501.5" cy="186.6" r="2.45"/><circle cx="501.7" cy="178.5" r="2.45"/><circle cx="502" cy="194.1" r="2.45"/><circle cx="502.2" cy="187.3" r="2.45"/><circle cx="502.5" cy="204.9" r="2.45"/><circle cx="502.7" cy="190.4" r="2.45"/><circle cx="503" cy="185.5" r="2.45"/><circle cx="503.2" cy="193.9" r="2.45"/><circle cx="503.5" cy="200.8" r="2.45"/><circle cx="503.7" cy="188.6" r="2.45"/><circle cx="504" cy="191.2" r="2.45"/><circle cx="504.2" cy="194.5" r="2.45"/><circle cx="504.5" cy="195.8" r="2.45"/><circle cx="504.7" cy="190.8" r="2.45"/><circle cx="505" cy="195.4" r="2.45"/><circle cx="505.2" cy="190.6" r="2.45"/><circle cx="505.5" cy="183.4" r="2.45"/><circle cx="505.7" cy="186.7" r="2.45"/><circle cx="506" cy="205.2" r="2.45"/><circle cx="506.2" cy="191.2" r="2.45"/><circle cx="506.5" cy="186.6" r="2.45"/><circle cx="506.7" cy="196.1" r="2.45"/><circle cx="507" cy="184.9" r="2.45"/><circle cx="507.2" cy="185.6" r="2.45"/><circle cx="507.5" cy="191" r="2.45"/><circle cx="507.7" cy="189.7" r="2.45"/><circle cx="508" cy="201.6" r="2.45"/><circle cx="508.2" cy="187.2" r="2.45"/><circle cx="508.5" cy="190.3" r="2.45"/><circle cx="508.7" cy="183" r="2.45"/><circle cx="509" cy="192.5" r="2.45"/><circle cx="509.2" cy="190.6" r="2.45"/><circle cx="509.5" cy="201" r="2.45"/><circle cx="509.7" cy="196.6" r="2.45"/><circle cx="510" cy="185.3" r="2.45"/><circle cx="510.2" cy="192.3" r="2.45"/><circle cx="510.5" cy="195.3" r="2.45"/><circle cx="510.7" cy="190.7" r="2.45"/><circle cx="511" cy="184.9" r="2.45"/><circle cx="511.2" cy="191.8" r="2.45"/><circle cx="511.5" cy="191.5" r="2.45"/><circle cx="511.7" cy="198" r="2.45"/><circle cx="512" cy="187.6" r="2.45"/><circle cx="512.2" cy="200.3" r="2.45"/><circle cx="512.5" cy="203.9" r="2.45"/><circle cx="512.7" cy="180.1" r="2.45"/><circle cx="513" cy="196.6" r="2.45"/><circle cx="513.2" cy="201.8" r="2.45"/><circle cx="513.5" cy="198.1" r="2.45"/><circle cx="513.7" cy="198.5" r="2.45"/><circle cx="514" cy="197.5" r="2.45"/><circle cx="514.2" cy="189.2" r="2.45"/><circle cx="514.5" cy="197.6" r="2.45"/><circle cx="514.7" cy="196.7" r="2.45"/><circle cx="515" cy="194.1" r="2.45"/><circle cx="515.2" cy="196.3" r="2.45"/><circle cx="515.5" cy="197.2" r="2.45"/><circle cx="515.7" cy="194.6" r="2.45"/><circle cx="516" cy="201.1" r="2.45"/><circle cx="516.2" cy="198.6" r="2.45"/><circle cx="516.5" cy="199.2" r="2.45"/><circle cx="516.7" cy="196.3" r="2.45"/><circle cx="517" cy="182" r="2.45"/><circle cx="517.2" cy="188.6" r="2.45"/><circle cx="517.5" cy="191.6" r="2.45"/><circle cx="517.7" cy="200.2" r="2.45"/><circle cx="518" cy="199.1" r="2.45"/><circle cx="518.2" cy="206.7" r="2.45"/><circle cx="518.5" cy="194.8" r="2.45"/><circle cx="518.7" cy="190.9" r="2.45"/><circle cx="519" cy="192.2" r="2.45"/><circle cx="519.2" cy="190.2" r="2.45"/><circle cx="519.5" cy="196.1" r="2.45"/><circle cx="519.7" cy="197.7" r="2.45"/><circle cx="520" cy="197.8" r="2.45"/><circle cx="520.5" cy="190.7" r="2.45"/><circle cx="520.7" cy="193.8" r="2.45"/><circle cx="521" cy="197.5" r="2.45"/><circle cx="521.2" cy="192.7" r="2.45"/><circle cx="521.5" cy="195.6" r="2.45"/><circle cx="521.7" cy="185.6" r="2.45"/><circle cx="522" cy="197.1" r="2.45"/><circle cx="522.2" cy="198.1" r="2.45"/><circle cx="522.7" cy="200.1" r="2.45"/><circle cx="523" cy="194.1" r="2.45"/><circle cx="523.2" cy="187.7" r="2.45"/><circle cx="523.5" cy="190.5" r="2.45"/><circle cx="523.7" cy="198" r="2.45"/><circle cx="524" cy="188.4" r="2.45"/><circle cx="524.2" cy="209.9" r="2.45"/><circle cx="524.5" cy="201.4" r="2.45"/><circle cx="524.7" cy="187.7" r="2.45"/><circle cx="525" cy="204.7" r="2.45"/><circle cx="525.2" cy="192.6" r="2.45"/><circle cx="525.5" cy="189.8" r="2.45"/><circle cx="525.7" cy="198" r="2.45"/><circle cx="526" cy="195.9" r="2.45"/><circle cx="526.2" cy="195.6" r="2.45"/><circle cx="526.5" cy="205.8" r="2.45"/><circle cx="526.7" cy="199.9" r="2.45"/><circle cx="527" cy="193.7" r="2.45"/><circle cx="527.2" cy="198.3" r="2.45"/><circle cx="527.5" cy="199.7" r="2.45"/><circle cx="527.7" cy="195.3" r="2.45"/><circle cx="528" cy="203.6" r="2.45"/><circle cx="528.2" cy="193.8" r="2.45"/><circle cx="528.5" cy="199.1" r="2.45"/><circle cx="528.7" cy="202.7" r="2.45"/><circle cx="529" cy="199.1" r="2.45"/><circle cx="529.2" cy="202.2" r="2.45"/><circle cx="529.5" cy="195.3" r="2.45"/><circle cx="529.7" cy="205.6" r="2.45"/><circle cx="530" cy="200.1" r="2.45"/><circle cx="530.2" cy="191.7" r="2.45"/><circle cx="530.5" cy="196.8" r="2.45"/><circle cx="530.7" cy="191.3" r="2.45"/><circle cx="531" cy="201.2" r="2.45"/><circle cx="531.2" cy="202.3" r="2.45"/><circle cx="531.5" cy="190.9" r="2.45"/><circle cx="531.7" cy="202.4" r="2.45"/><circle cx="532" cy="202.9" r="2.45"/><circle cx="532.5" cy="201.5" r="2.45"/><circle cx="532.7" cy="203" r="2.45"/><circle cx="533.2" cy="202.5" r="2.45"/><circle cx="533.5" cy="201.8" r="2.45"/><circle cx="533.7" cy="202.9" r="2.45"/><circle cx="534" cy="196.4" r="2.45"/><circle cx="534.2" cy="191.4" r="2.45"/><circle cx="534.5" cy="194" r="2.45"/><circle cx="534.7" cy="202.7" r="2.45"/><circle cx="535" cy="200" r="2.45"/><circle cx="535.2" cy="195.1" r="2.45"/><circle cx="535.5" cy="206.6" r="2.45"/><circle cx="535.7" cy="202.1" r="2.45"/><circle cx="536" cy="191.3" r="2.45"/><circle cx="536.2" cy="197.4" r="2.45"/><circle cx="536.5" cy="195.5" r="2.45"/><circle cx="536.7" cy="208.3" r="2.45"/><circle cx="537" cy="188.1" r="2.45"/><circle cx="537.2" cy="207.1" r="2.45"/><circle cx="537.5" cy="209.4" r="2.45"/><circle cx="537.7" cy="203.6" r="2.45"/><circle cx="538" cy="205.3" r="2.45"/><circle cx="538.2" cy="195" r="2.45"/><circle cx="538.7" cy="208.1" r="2.45"/><circle cx="539" cy="195.5" r="2.45"/><circle cx="539.2" cy="208.2" r="2.45"/><circle cx="539.5" cy="195.6" r="2.45"/><circle cx="539.7" cy="204.9" r="2.45"/><circle cx="540" cy="201.5" r="2.45"/><circle cx="540.2" cy="208.8" r="2.45"/><circle cx="540.5" cy="200.6" r="2.45"/>
</g>
<g fill="url(#k)" class="D" clip-path="url(#cd)">
<circle cx="305.8" cy="272.8" r="2.45"/><circle cx="306.1" cy="279.1" r="2.45"/><circle cx="306.3" cy="269" r="2.45"/><circle cx="306.6" cy="278.5" r="2.45"/><circle cx="306.8" cy="273.1" r="2.45"/><circle cx="307.1" cy="279.7" r="2.45"/><circle cx="307.3" cy="278" r="2.45"/><circle cx="307.6" cy="271.6" r="2.45"/><circle cx="307.8" cy="277.4" r="2.45"/><circle cx="308.1" cy="266.9" r="2.45"/><circle cx="308.3" cy="274.7" r="2.45"/><circle cx="308.6" cy="280.2" r="2.45"/><circle cx="308.8" cy="277.3" r="2.45"/><circle cx="309.1" cy="281.2" r="2.45"/><circle cx="309.3" cy="280.8" r="2.45"/><circle cx="309.6" cy="281.8" r="2.45"/><circle cx="309.8" cy="281.4" r="2.45"/><circle cx="310.1" cy="279.8" r="2.45"/><circle cx="310.3" cy="279.3" r="2.45"/><circle cx="310.6" cy="284.7" r="2.45"/><circle cx="310.8" cy="279.7" r="2.45"/><circle cx="311.1" cy="280.1" r="2.45"/><circle cx="311.3" cy="277" r="2.45"/><circle cx="311.6" cy="285.3" r="2.45"/><circle cx="311.8" cy="283" r="2.45"/><circle cx="312.1" cy="284.4" r="2.45"/><circle cx="312.3" cy="285.1" r="2.45"/><circle cx="312.6" cy="284.3" r="2.45"/><circle cx="312.8" cy="282.1" r="2.45"/><circle cx="313.1" cy="287.2" r="2.45"/><circle cx="313.3" cy="283.9" r="2.45"/><circle cx="313.6" cy="284.4" r="2.45"/><circle cx="313.8" cy="278.7" r="2.45"/><circle cx="314.1" cy="291.2" r="2.45"/><circle cx="314.3" cy="284.4" r="2.45"/><circle cx="314.6" cy="286" r="2.45"/><circle cx="314.8" cy="290.4" r="2.45"/><circle cx="315.1" cy="285.3" r="2.45"/><circle cx="315.3" cy="290.8" r="2.45"/><circle cx="315.6" cy="289" r="2.45"/><circle cx="315.8" cy="286.3" r="2.45"/><circle cx="316.1" cy="292.8" r="2.45"/><circle cx="316.3" cy="287.7" r="2.45"/><circle cx="316.6" cy="291.3" r="2.45"/><circle cx="316.8" cy="298" r="2.45"/><circle cx="317.1" cy="282.9" r="2.45"/><circle cx="317.3" cy="296.1" r="2.45"/><circle cx="317.6" cy="287.9" r="2.45"/><circle cx="317.8" cy="291.7" r="2.45"/><circle cx="318.1" cy="294.4" r="2.45"/><circle cx="318.3" cy="285.1" r="2.45"/><circle cx="318.6" cy="291" r="2.45"/><circle cx="318.8" cy="287.3" r="2.45"/><circle cx="319.1" cy="296.1" r="2.45"/><circle cx="319.3" cy="290.8" r="2.45"/><circle cx="319.6" cy="292" r="2.45"/><circle cx="319.8" cy="291.4" r="2.45"/><circle cx="320.1" cy="299.1" r="2.45"/><circle cx="320.3" cy="296.9" r="2.45"/><circle cx="320.6" cy="295.8" r="2.45"/><circle cx="320.8" cy="293" r="2.45"/><circle cx="321.1" cy="299.9" r="2.45"/><circle cx="321.3" cy="293" r="2.45"/><circle cx="321.6" cy="296.8" r="2.45"/><circle cx="321.8" cy="289.3" r="2.45"/><circle cx="322.1" cy="290.8" r="2.45"/><circle cx="322.3" cy="300.6" r="2.45"/><circle cx="322.6" cy="290.4" r="2.45"/><circle cx="322.8" cy="300.1" r="2.45"/><circle cx="323.1" cy="301.4" r="2.45"/><circle cx="323.3" cy="294.7" r="2.45"/><circle cx="323.6" cy="295.6" r="2.45"/><circle cx="323.8" cy="300.5" r="2.45"/><circle cx="324.1" cy="294.2" r="2.45"/><circle cx="324.3" cy="302.2" r="2.45"/><circle cx="324.6" cy="292" r="2.45"/><circle cx="324.8" cy="304.8" r="2.45"/><circle cx="325.1" cy="300.6" r="2.45"/><circle cx="325.3" cy="299.7" r="2.45"/><circle cx="325.6" cy="303" r="2.45"/><circle cx="325.8" cy="300.8" r="2.45"/><circle cx="326.1" cy="303.5" r="2.45"/><circle cx="326.3" cy="302.4" r="2.45"/><circle cx="326.6" cy="294.3" r="2.45"/><circle cx="326.8" cy="301.1" r="2.45"/><circle cx="327.1" cy="297.5" r="2.45"/><circle cx="327.3" cy="297" r="2.45"/><circle cx="327.6" cy="298.3" r="2.45"/><circle cx="327.8" cy="304.6" r="2.45"/><circle cx="328.1" cy="300.5" r="2.45"/><circle cx="328.3" cy="297.2" r="2.45"/><circle cx="328.6" cy="305" r="2.45"/><circle cx="328.8" cy="308.6" r="2.45"/><circle cx="329.1" cy="299.1" r="2.45"/><circle cx="329.3" cy="303.3" r="2.45"/><circle cx="329.6" cy="304.7" r="2.45"/><circle cx="329.8" cy="306" r="2.45"/><circle cx="330.1" cy="301.7" r="2.45"/><circle cx="330.3" cy="305.7" r="2.45"/><circle cx="330.6" cy="306.3" r="2.45"/><circle cx="330.8" cy="311.4" r="2.45"/><circle cx="331.1" cy="308.9" r="2.45"/><circle cx="331.3" cy="297.6" r="2.45"/><circle cx="331.6" cy="308.4" r="2.45"/><circle cx="331.8" cy="308.1" r="2.45"/><circle cx="332.1" cy="311.2" r="2.45"/><circle cx="332.3" cy="313.9" r="2.45"/><circle cx="332.6" cy="304.8" r="2.45"/><circle cx="332.8" cy="302.4" r="2.45"/><circle cx="333.1" cy="303.8" r="2.45"/><circle cx="333.3" cy="304.2" r="2.45"/><circle cx="333.6" cy="304" r="2.45"/><circle cx="333.8" cy="305.2" r="2.45"/><circle cx="334.1" cy="309" r="2.45"/><circle cx="334.3" cy="304.8" r="2.45"/><circle cx="334.6" cy="315.3" r="2.45"/><circle cx="334.8" cy="307.8" r="2.45"/><circle cx="335.1" cy="313.5" r="2.45"/><circle cx="335.3" cy="310.5" r="2.45"/><circle cx="335.6" cy="298.8" r="2.45"/><circle cx="335.8" cy="309.8" r="2.45"/><circle cx="336.1" cy="304.7" r="2.45"/><circle cx="336.3" cy="305.4" r="2.45"/><circle cx="336.6" cy="308.8" r="2.45"/><circle cx="336.8" cy="305.7" r="2.45"/><circle cx="337.1" cy="311.2" r="2.45"/><circle cx="337.3" cy="315.1" r="2.45"/><circle cx="337.6" cy="309.4" r="2.45"/><circle cx="337.8" cy="312.7" r="2.45"/><circle cx="338.1" cy="311.2" r="2.45"/><circle cx="338.3" cy="308.9" r="2.45"/><circle cx="338.6" cy="312.3" r="2.45"/><circle cx="338.8" cy="309.5" r="2.45"/><circle cx="339.1" cy="306.4" r="2.45"/><circle cx="339.3" cy="317.1" r="2.45"/><circle cx="339.6" cy="313.3" r="2.45"/><circle cx="339.8" cy="312.9" r="2.45"/><circle cx="340.1" cy="309.7" r="2.45"/><circle cx="340.3" cy="308.9" r="2.45"/><circle cx="340.6" cy="306.5" r="2.45"/><circle cx="340.8" cy="307.3" r="2.45"/><circle cx="341.1" cy="309.9" r="2.45"/><circle cx="341.3" cy="317.1" r="2.45"/><circle cx="341.6" cy="309.8" r="2.45"/><circle cx="341.8" cy="308.2" r="2.45"/><circle cx="342.1" cy="317" r="2.45"/><circle cx="342.3" cy="309.5" r="2.45"/><circle cx="342.6" cy="315.3" r="2.45"/><circle cx="342.8" cy="314.2" r="2.45"/><circle cx="343.1" cy="310.5" r="2.45"/><circle cx="343.3" cy="316.4" r="2.45"/><circle cx="343.6" cy="315" r="2.45"/><circle cx="343.8" cy="313.6" r="2.45"/><circle cx="344.1" cy="316.8" r="2.45"/><circle cx="344.3" cy="317" r="2.45"/><circle cx="344.6" cy="318.1" r="2.45"/><circle cx="344.8" cy="323.7" r="2.45"/><circle cx="345.1" cy="323.9" r="2.45"/><circle cx="345.4" cy="309.8" r="2.45"/><circle cx="345.6" cy="317.4" r="2.45"/><circle cx="345.9" cy="315.5" r="2.45"/><circle cx="346.1" cy="315.3" r="2.45"/><circle cx="346.4" cy="317.6" r="2.45"/><circle cx="346.6" cy="315.5" r="2.45"/><circle cx="346.9" cy="310.8" r="2.45"/><circle cx="347.1" cy="314.1" r="2.45"/><circle cx="347.4" cy="318.2" r="2.45"/><circle cx="347.6" cy="314.1" r="2.45"/><circle cx="347.9" cy="324.1" r="2.45"/><circle cx="348.1" cy="321.2" r="2.45"/><circle cx="348.4" cy="318.6" r="2.45"/><circle cx="348.6" cy="320.4" r="2.45"/><circle cx="348.9" cy="315.5" r="2.45"/><circle cx="349.1" cy="319.5" r="2.45"/><circle cx="349.4" cy="314" r="2.45"/><circle cx="349.6" cy="316.8" r="2.45"/><circle cx="349.9" cy="317.6" r="2.45"/><circle cx="350.1" cy="322" r="2.45"/><circle cx="350.4" cy="315.7" r="2.45"/><circle cx="350.6" cy="320.4" r="2.45"/><circle cx="350.9" cy="323.4" r="2.45"/><circle cx="351.1" cy="318.6" r="2.45"/><circle cx="351.4" cy="313.2" r="2.45"/><circle cx="351.6" cy="328.7" r="2.45"/><circle cx="351.9" cy="320.6" r="2.45"/><circle cx="352.1" cy="322.2" r="2.45"/><circle cx="352.4" cy="320.9" r="2.45"/><circle cx="352.6" cy="317.7" r="2.45"/><circle cx="352.9" cy="317.8" r="2.45"/><circle cx="353.1" cy="319.1" r="2.45"/><circle cx="353.4" cy="325" r="2.45"/><circle cx="353.6" cy="328.2" r="2.45"/><circle cx="353.9" cy="321.3" r="2.45"/><circle cx="354.1" cy="323" r="2.45"/><circle cx="354.4" cy="316.1" r="2.45"/><circle cx="354.6" cy="316.8" r="2.45"/><circle cx="354.9" cy="318" r="2.45"/><circle cx="355.1" cy="323.6" r="2.45"/><circle cx="355.4" cy="323.9" r="2.45"/><circle cx="355.6" cy="319" r="2.45"/><circle cx="355.9" cy="321.3" r="2.45"/><circle cx="356.1" cy="320.4" r="2.45"/><circle cx="356.4" cy="326.5" r="2.45"/><circle cx="356.6" cy="329.3" r="2.45"/><circle cx="356.9" cy="326" r="2.45"/><circle cx="357.1" cy="312.2" r="2.45"/><circle cx="357.4" cy="319.9" r="2.45"/><circle cx="357.6" cy="319.7" r="2.45"/><circle cx="357.9" cy="319.8" r="2.45"/><circle cx="358.1" cy="320.3" r="2.45"/><circle cx="358.4" cy="324.1" r="2.45"/><circle cx="358.6" cy="321.7" r="2.45"/><circle cx="358.9" cy="328.9" r="2.45"/><circle cx="359.1" cy="324" r="2.45"/><circle cx="359.4" cy="321.4" r="2.45"/><circle cx="359.6" cy="321.7" r="2.45"/><circle cx="359.9" cy="329.9" r="2.45"/><circle cx="360.1" cy="327.2" r="2.45"/><circle cx="360.4" cy="325.7" r="2.45"/><circle cx="360.6" cy="328.1" r="2.45"/><circle cx="360.9" cy="310.6" r="2.45"/><circle cx="361.1" cy="318" r="2.45"/><circle cx="361.4" cy="318.3" r="2.45"/><circle cx="361.6" cy="323.2" r="2.45"/><circle cx="361.9" cy="324.5" r="2.45"/><circle cx="362.1" cy="321.7" r="2.45"/><circle cx="362.4" cy="319" r="2.45"/><circle cx="362.6" cy="326.1" r="2.45"/><circle cx="362.9" cy="327.6" r="2.45"/><circle cx="363.1" cy="331.1" r="2.45"/><circle cx="363.4" cy="323.3" r="2.45"/><circle cx="363.6" cy="328.3" r="2.45"/><circle cx="363.9" cy="331.6" r="2.45"/><circle cx="364.1" cy="322" r="2.45"/><circle cx="364.4" cy="327.4" r="2.45"/><circle cx="364.6" cy="321.1" r="2.45"/><circle cx="364.9" cy="328.6" r="2.45"/><circle cx="365.1" cy="334.6" r="2.45"/><circle cx="365.4" cy="331.4" r="2.45"/><circle cx="365.6" cy="323.5" r="2.45"/><circle cx="365.9" cy="324.1" r="2.45"/><circle cx="366.1" cy="327.1" r="2.45"/><circle cx="366.4" cy="323.2" r="2.45"/><circle cx="366.6" cy="322.1" r="2.45"/><circle cx="366.9" cy="322.9" r="2.45"/><circle cx="367.1" cy="321.8" r="2.45"/><circle cx="367.4" cy="328.3" r="2.45"/><circle cx="367.6" cy="328.2" r="2.45"/><circle cx="367.9" cy="329.2" r="2.45"/><circle cx="368.1" cy="328.3" r="2.45"/><circle cx="368.4" cy="324.6" r="2.45"/><circle cx="368.6" cy="328.1" r="2.45"/><circle cx="368.9" cy="331.6" r="2.45"/><circle cx="369.1" cy="326.8" r="2.45"/><circle cx="369.4" cy="327.3" r="2.45"/><circle cx="369.6" cy="335.2" r="2.45"/><circle cx="369.9" cy="331.5" r="2.45"/><circle cx="370.1" cy="333.4" r="2.45"/><circle cx="370.4" cy="328.1" r="2.45"/><circle cx="370.6" cy="325.6" r="2.45"/><circle cx="370.9" cy="337.8" r="2.45"/><circle cx="371.1" cy="330.9" r="2.45"/><circle cx="371.4" cy="323.3" r="2.45"/><circle cx="371.6" cy="328" r="2.45"/><circle cx="371.9" cy="325.9" r="2.45"/><circle cx="372.1" cy="328.1" r="2.45"/><circle cx="372.4" cy="333.5" r="2.45"/><circle cx="372.6" cy="329.6" r="2.45"/><circle cx="372.9" cy="335.5" r="2.45"/><circle cx="373.1" cy="324.4" r="2.45"/><circle cx="373.4" cy="330.3" r="2.45"/><circle cx="373.6" cy="334.7" r="2.45"/><circle cx="373.9" cy="328.6" r="2.45"/><circle cx="374.1" cy="325.2" r="2.45"/><circle cx="374.4" cy="331.9" r="2.45"/><circle cx="374.6" cy="319.5" r="2.45"/><circle cx="374.9" cy="324.2" r="2.45"/><circle cx="375.1" cy="326.3" r="2.45"/><circle cx="375.4" cy="327.1" r="2.45"/><circle cx="375.6" cy="331.7" r="2.45"/><circle cx="375.9" cy="331.1" r="2.45"/><circle cx="376.1" cy="334.9" r="2.45"/><circle cx="376.4" cy="329.8" r="2.45"/><circle cx="376.6" cy="335.4" r="2.45"/><circle cx="376.9" cy="322.4" r="2.45"/><circle cx="377.1" cy="330.3" r="2.45"/><circle cx="377.4" cy="333.4" r="2.45"/><circle cx="377.6" cy="332.8" r="2.45"/><circle cx="377.9" cy="335.2" r="2.45"/><circle cx="378.1" cy="332.1" r="2.45"/><circle cx="378.4" cy="331.7" r="2.45"/><circle cx="378.6" cy="333.4" r="2.45"/><circle cx="378.9" cy="339.6" r="2.45"/><circle cx="379.1" cy="332" r="2.45"/><circle cx="379.4" cy="333.6" r="2.45"/><circle cx="379.6" cy="330.7" r="2.45"/><circle cx="379.9" cy="328.2" r="2.45"/><circle cx="380.1" cy="338.9" r="2.45"/><circle cx="380.4" cy="332.5" r="2.45"/><circle cx="380.6" cy="325.4" r="2.45"/><circle cx="380.9" cy="338.9" r="2.45"/><circle cx="381.1" cy="325.8" r="2.45"/><circle cx="381.4" cy="328.4" r="2.45"/><circle cx="381.6" cy="338.7" r="2.45"/><circle cx="381.9" cy="340.1" r="2.45"/><circle cx="382.1" cy="331.3" r="2.45"/><circle cx="382.4" cy="326" r="2.45"/><circle cx="382.6" cy="334.3" r="2.45"/><circle cx="382.9" cy="327.5" r="2.45"/><circle cx="383.1" cy="336" r="2.45"/><circle cx="383.4" cy="331.9" r="2.45"/><circle cx="383.6" cy="339.4" r="2.45"/><circle cx="383.9" cy="330.1" r="2.45"/><circle cx="384.2" cy="333.1" r="2.45"/><circle cx="384.4" cy="329.2" r="2.45"/><circle cx="384.7" cy="332.4" r="2.45"/><circle cx="384.9" cy="330.3" r="2.45"/><circle cx="385.2" cy="335.7" r="2.45"/><circle cx="385.4" cy="334.1" r="2.45"/><circle cx="385.7" cy="333.9" r="2.45"/><circle cx="385.9" cy="336.5" r="2.45"/><circle cx="386.2" cy="340.9" r="2.45"/><circle cx="386.4" cy="332.1" r="2.45"/><circle cx="386.7" cy="332.7" r="2.45"/><circle cx="386.9" cy="333.4" r="2.45"/><circle cx="387.2" cy="342.1" r="2.45"/><circle cx="387.4" cy="331.1" r="2.45"/><circle cx="387.7" cy="325.1" r="2.45"/><circle cx="387.9" cy="342.3" r="2.45"/><circle cx="388.2" cy="339.3" r="2.45"/><circle cx="388.4" cy="346.7" r="2.45"/><circle cx="388.7" cy="337" r="2.45"/><circle cx="388.9" cy="329.7" r="2.45"/><circle cx="389.2" cy="341.7" r="2.45"/><circle cx="389.4" cy="339.2" r="2.45"/><circle cx="389.7" cy="340.8" r="2.45"/><circle cx="389.9" cy="333.7" r="2.45"/><circle cx="390.2" cy="334.8" r="2.45"/><circle cx="390.4" cy="338" r="2.45"/><circle cx="390.7" cy="338.7" r="2.45"/><circle cx="390.9" cy="333.6" r="2.45"/><circle cx="391.2" cy="347.2" r="2.45"/><circle cx="391.4" cy="341.8" r="2.45"/><circle cx="391.7" cy="335.6" r="2.45"/><circle cx="391.9" cy="334.3" r="2.45"/><circle cx="392.2" cy="337.2" r="2.45"/><circle cx="392.4" cy="332.9" r="2.45"/><circle cx="392.7" cy="326.7" r="2.45"/><circle cx="392.9" cy="344.1" r="2.45"/><circle cx="393.2" cy="351.6" r="2.45"/><circle cx="393.4" cy="335.7" r="2.45"/><circle cx="393.7" cy="334.9" r="2.45"/><circle cx="393.9" cy="338.6" r="2.45"/><circle cx="394.2" cy="334.9" r="2.45"/><circle cx="394.4" cy="332.7" r="2.45"/><circle cx="394.7" cy="338.2" r="2.45"/><circle cx="394.9" cy="344.6" r="2.45"/><circle cx="395.2" cy="331.7" r="2.45"/><circle cx="395.4" cy="336" r="2.45"/><circle cx="395.7" cy="334.4" r="2.45"/><circle cx="395.9" cy="326.1" r="2.45"/><circle cx="396.2" cy="340.8" r="2.45"/><circle cx="396.4" cy="339.5" r="2.45"/><circle cx="396.7" cy="352.2" r="2.45"/><circle cx="396.9" cy="345.9" r="2.45"/><circle cx="397.2" cy="331.5" r="2.45"/><circle cx="397.4" cy="342.2" r="2.45"/><circle cx="397.7" cy="335.8" r="2.45"/><circle cx="397.9" cy="337" r="2.45"/><circle cx="398.2" cy="332.9" r="2.45"/><circle cx="398.4" cy="340.1" r="2.45"/><circle cx="398.7" cy="341" r="2.45"/><circle cx="398.9" cy="336.5" r="2.45"/><circle cx="399.2" cy="336.3" r="2.45"/><circle cx="399.4" cy="340.6" r="2.45"/><circle cx="399.7" cy="334.5" r="2.45"/><circle cx="399.9" cy="345.9" r="2.45"/><circle cx="400.2" cy="336.6" r="2.45"/><circle cx="400.4" cy="345" r="2.45"/><circle cx="400.7" cy="348" r="2.45"/><circle cx="400.9" cy="349.3" r="2.45"/><circle cx="401.2" cy="339.8" r="2.45"/><circle cx="401.4" cy="332.1" r="2.45"/><circle cx="401.7" cy="340.6" r="2.45"/><circle cx="401.9" cy="331.7" r="2.45"/><circle cx="402.2" cy="336.3" r="2.45"/><circle cx="402.4" cy="350.1" r="2.45"/><circle cx="402.7" cy="331.7" r="2.45"/><circle cx="402.9" cy="333.8" r="2.45"/><circle cx="403.2" cy="340.9" r="2.45"/><circle cx="403.4" cy="341.7" r="2.45"/><circle cx="403.7" cy="338.8" r="2.45"/><circle cx="403.9" cy="344.4" r="2.45"/><circle cx="404.2" cy="346.3" r="2.45"/><circle cx="404.4" cy="337.9" r="2.45"/><circle cx="404.7" cy="342.2" r="2.45"/><circle cx="404.9" cy="346.1" r="2.45"/><circle cx="405.2" cy="343.3" r="2.45"/><circle cx="405.4" cy="341.2" r="2.45"/><circle cx="405.7" cy="350.7" r="2.45"/><circle cx="405.9" cy="344.4" r="2.45"/><circle cx="406.2" cy="337.3" r="2.45"/><circle cx="406.4" cy="335.4" r="2.45"/><circle cx="406.7" cy="342.9" r="2.45"/><circle cx="406.9" cy="340.5" r="2.45"/><circle cx="407.2" cy="343.3" r="2.45"/><circle cx="407.4" cy="338.3" r="2.45"/><circle cx="407.7" cy="339.7" r="2.45"/><circle cx="407.9" cy="350.5" r="2.45"/><circle cx="408.2" cy="336.9" r="2.45"/><circle cx="408.4" cy="344.2" r="2.45"/><circle cx="408.7" cy="339.4" r="2.45"/><circle cx="408.9" cy="338.6" r="2.45"/><circle cx="409.2" cy="340.9" r="2.45"/><circle cx="409.4" cy="351" r="2.45"/><circle cx="409.7" cy="348.1" r="2.45"/><circle cx="409.9" cy="348.1" r="2.45"/><circle cx="410.2" cy="338.9" r="2.45"/><circle cx="410.4" cy="341.1" r="2.45"/><circle cx="410.7" cy="337.3" r="2.45"/><circle cx="410.9" cy="339.2" r="2.45"/><circle cx="411.2" cy="347.1" r="2.45"/><circle cx="411.4" cy="339.7" r="2.45"/><circle cx="411.7" cy="343" r="2.45"/><circle cx="411.9" cy="351.1" r="2.45"/><circle cx="412.2" cy="339.8" r="2.45"/><circle cx="412.4" cy="358.7" r="2.45"/><circle cx="412.7" cy="347.4" r="2.45"/><circle cx="412.9" cy="346.7" r="2.45"/><circle cx="413.2" cy="345.1" r="2.45"/><circle cx="413.4" cy="345.1" r="2.45"/><circle cx="413.7" cy="343.2" r="2.45"/><circle cx="413.9" cy="347.9" r="2.45"/><circle cx="414.2" cy="337.9" r="2.45"/><circle cx="414.4" cy="339" r="2.45"/><circle cx="414.7" cy="345.8" r="2.45"/><circle cx="414.9" cy="332.9" r="2.45"/><circle cx="415.2" cy="341.8" r="2.45"/><circle cx="415.4" cy="345.4" r="2.45"/><circle cx="415.7" cy="338.5" r="2.45"/><circle cx="415.9" cy="334.4" r="2.45"/><circle cx="416.2" cy="341.1" r="2.45"/><circle cx="416.4" cy="360" r="2.45"/><circle cx="416.7" cy="344.4" r="2.45"/><circle cx="416.9" cy="356.2" r="2.45"/><circle cx="417.2" cy="343.7" r="2.45"/><circle cx="417.4" cy="348.9" r="2.45"/><circle cx="417.7" cy="349.4" r="2.45"/><circle cx="417.9" cy="354.7" r="2.45"/><circle cx="418.2" cy="347.6" r="2.45"/><circle cx="418.4" cy="343.5" r="2.45"/><circle cx="418.7" cy="350.3" r="2.45"/><circle cx="418.9" cy="352.5" r="2.45"/><circle cx="419.2" cy="345.2" r="2.45"/><circle cx="419.4" cy="341" r="2.45"/><circle cx="419.7" cy="348.7" r="2.45"/><circle cx="419.9" cy="355.4" r="2.45"/><circle cx="420.2" cy="357.1" r="2.45"/><circle cx="420.4" cy="357.1" r="2.45"/><circle cx="420.7" cy="344.3" r="2.45"/><circle cx="420.9" cy="342" r="2.45"/><circle cx="421.2" cy="351.6" r="2.45"/><circle cx="421.4" cy="352.5" r="2.45"/><circle cx="421.7" cy="347.7" r="2.45"/><circle cx="421.9" cy="350" r="2.45"/><circle cx="422.2" cy="348.3" r="2.45"/><circle cx="422.4" cy="350.6" r="2.45"/><circle cx="422.7" cy="359.6" r="2.45"/><circle cx="422.9" cy="352.4" r="2.45"/><circle cx="423.2" cy="354.7" r="2.45"/><circle cx="423.5" cy="354.4" r="2.45"/><circle cx="423.7" cy="348.8" r="2.45"/><circle cx="424" cy="347" r="2.45"/><circle cx="424.2" cy="349.8" r="2.45"/><circle cx="424.5" cy="348.9" r="2.45"/><circle cx="424.7" cy="353.4" r="2.45"/><circle cx="425" cy="359.3" r="2.45"/><circle cx="425.2" cy="346.9" r="2.45"/><circle cx="425.5" cy="342.1" r="2.45"/><circle cx="425.7" cy="349.2" r="2.45"/><circle cx="426" cy="355.6" r="2.45"/><circle cx="426.2" cy="344.9" r="2.45"/><circle cx="426.5" cy="351.3" r="2.45"/><circle cx="426.7" cy="355.8" r="2.45"/><circle cx="427" cy="349.8" r="2.45"/><circle cx="427.2" cy="351.9" r="2.45"/><circle cx="427.5" cy="360.8" r="2.45"/><circle cx="427.7" cy="353.2" r="2.45"/><circle cx="428" cy="354.3" r="2.45"/><circle cx="428.2" cy="359.9" r="2.45"/><circle cx="428.5" cy="360.7" r="2.45"/><circle cx="428.7" cy="357.2" r="2.45"/><circle cx="429" cy="353.4" r="2.45"/><circle cx="429.2" cy="352.4" r="2.45"/><circle cx="429.5" cy="346.4" r="2.45"/><circle cx="429.7" cy="350.4" r="2.45"/><circle cx="430" cy="353.3" r="2.45"/><circle cx="430.2" cy="358.3" r="2.45"/><circle cx="430.5" cy="344" r="2.45"/><circle cx="430.7" cy="345.7" r="2.45"/><circle cx="431" cy="346.2" r="2.45"/><circle cx="431.2" cy="355.7" r="2.45"/><circle cx="431.5" cy="362.2" r="2.45"/><circle cx="431.7" cy="353" r="2.45"/><circle cx="432" cy="346" r="2.45"/><circle cx="432.2" cy="365.6" r="2.45"/><circle cx="432.5" cy="347.6" r="2.45"/><circle cx="432.7" cy="357.1" r="2.45"/><circle cx="433" cy="352.9" r="2.45"/><circle cx="433.2" cy="359.1" r="2.45"/><circle cx="433.5" cy="352.2" r="2.45"/><circle cx="433.7" cy="364.3" r="2.45"/><circle cx="434" cy="364" r="2.45"/><circle cx="434.2" cy="350.2" r="2.45"/><circle cx="434.5" cy="351.3" r="2.45"/><circle cx="434.7" cy="349.8" r="2.45"/><circle cx="435" cy="354.8" r="2.45"/><circle cx="435.2" cy="347.3" r="2.45"/><circle cx="435.5" cy="362.6" r="2.45"/><circle cx="435.7" cy="351.4" r="2.45"/><circle cx="436" cy="346.7" r="2.45"/><circle cx="436.2" cy="369.2" r="2.45"/><circle cx="436.5" cy="360.5" r="2.45"/><circle cx="436.7" cy="361.3" r="2.45"/><circle cx="437" cy="362" r="2.45"/><circle cx="437.2" cy="370.2" r="2.45"/><circle cx="437.5" cy="363" r="2.45"/><circle cx="437.7" cy="363.6" r="2.45"/><circle cx="438" cy="370.9" r="2.45"/><circle cx="438.2" cy="374.3" r="2.45"/><circle cx="438.5" cy="353.3" r="2.45"/><circle cx="438.7" cy="360.1" r="2.45"/><circle cx="439" cy="346.6" r="2.45"/><circle cx="439.2" cy="357.7" r="2.45"/><circle cx="439.5" cy="357.4" r="2.45"/><circle cx="439.7" cy="355.4" r="2.45"/><circle cx="440" cy="356.4" r="2.45"/><circle cx="440.2" cy="353.3" r="2.45"/><circle cx="440.5" cy="359.9" r="2.45"/><circle cx="440.7" cy="357.2" r="2.45"/><circle cx="441" cy="371.1" r="2.45"/><circle cx="441.2" cy="353.8" r="2.45"/><circle cx="441.5" cy="361.8" r="2.45"/><circle cx="441.7" cy="351.6" r="2.45"/><circle cx="442" cy="353.4" r="2.45"/><circle cx="442.2" cy="362" r="2.45"/><circle cx="442.5" cy="359.2" r="2.45"/><circle cx="442.7" cy="359" r="2.45"/><circle cx="443" cy="359.2" r="2.45"/><circle cx="443.2" cy="364" r="2.45"/><circle cx="443.5" cy="347.6" r="2.45"/><circle cx="443.7" cy="354.8" r="2.45"/><circle cx="444" cy="352" r="2.45"/><circle cx="444.2" cy="354.1" r="2.45"/><circle cx="444.5" cy="357.3" r="2.45"/><circle cx="444.7" cy="361.4" r="2.45"/><circle cx="445" cy="351.7" r="2.45"/><circle cx="445.2" cy="357.7" r="2.45"/><circle cx="445.5" cy="364.7" r="2.45"/><circle cx="445.7" cy="357.4" r="2.45"/><circle cx="446" cy="360.5" r="2.45"/><circle cx="446.2" cy="364.5" r="2.45"/><circle cx="446.5" cy="357.9" r="2.45"/><circle cx="446.7" cy="365.2" r="2.45"/><circle cx="447" cy="360.5" r="2.45"/><circle cx="447.2" cy="359.1" r="2.45"/><circle cx="447.5" cy="359.7" r="2.45"/><circle cx="447.7" cy="357.5" r="2.45"/><circle cx="448" cy="363.9" r="2.45"/><circle cx="448.2" cy="352.5" r="2.45"/><circle cx="448.5" cy="363.6" r="2.45"/><circle cx="448.7" cy="366.2" r="2.45"/><circle cx="449" cy="363.8" r="2.45"/><circle cx="449.2" cy="367.3" r="2.45"/><circle cx="449.5" cy="363.4" r="2.45"/><circle cx="449.7" cy="361.4" r="2.45"/><circle cx="450" cy="362.8" r="2.45"/><circle cx="450.2" cy="360.6" r="2.45"/><circle cx="450.5" cy="367" r="2.45"/><circle cx="450.7" cy="359.1" r="2.45"/><circle cx="451" cy="360.2" r="2.45"/><circle cx="451.2" cy="369.7" r="2.45"/><circle cx="451.5" cy="362.2" r="2.45"/><circle cx="451.7" cy="366.7" r="2.45"/><circle cx="452" cy="364.5" r="2.45"/><circle cx="452.2" cy="353.3" r="2.45"/><circle cx="452.5" cy="374.1" r="2.45"/><circle cx="452.7" cy="348.7" r="2.45"/><circle cx="453" cy="356.1" r="2.45"/><circle cx="453.2" cy="361.7" r="2.45"/><circle cx="453.5" cy="365.5" r="2.45"/><circle cx="453.7" cy="351.4" r="2.45"/><circle cx="454" cy="366.1" r="2.45"/><circle cx="454.2" cy="363.2" r="2.45"/><circle cx="454.5" cy="357.6" r="2.45"/><circle cx="454.7" cy="361.8" r="2.45"/><circle cx="455" cy="375.4" r="2.45"/><circle cx="455.2" cy="363.8" r="2.45"/><circle cx="455.5" cy="376" r="2.45"/><circle cx="455.7" cy="359.6" r="2.45"/><circle cx="456" cy="351.7" r="2.45"/><circle cx="456.2" cy="380.2" r="2.45"/><circle cx="456.5" cy="371.5" r="2.45"/><circle cx="456.7" cy="373.2" r="2.45"/><circle cx="457" cy="366.7" r="2.45"/><circle cx="457.2" cy="370.6" r="2.45"/><circle cx="457.5" cy="372.2" r="2.45"/><circle cx="457.7" cy="372.4" r="2.45"/><circle cx="458" cy="370.7" r="2.45"/><circle cx="458.2" cy="366.8" r="2.45"/><circle cx="458.5" cy="360.3" r="2.45"/><circle cx="458.7" cy="359.5" r="2.45"/><circle cx="459" cy="376.7" r="2.45"/><circle cx="459.2" cy="373.6" r="2.45"/><circle cx="459.5" cy="369.1" r="2.45"/><circle cx="459.7" cy="365.4" r="2.45"/><circle cx="460" cy="368.3" r="2.45"/><circle cx="460.2" cy="363.1" r="2.45"/><circle cx="460.5" cy="372.5" r="2.45"/><circle cx="460.7" cy="368.1" r="2.45"/><circle cx="461" cy="365.6" r="2.45"/><circle cx="461.2" cy="370.8" r="2.45"/><circle cx="461.5" cy="367.4" r="2.45"/><circle cx="461.7" cy="365.8" r="2.45"/><circle cx="462" cy="357.1" r="2.45"/><circle cx="462.2" cy="378" r="2.45"/><circle cx="462.5" cy="369.4" r="2.45"/><circle cx="462.8" cy="371.5" r="2.45"/><circle cx="463" cy="356.8" r="2.45"/><circle cx="463.3" cy="359.2" r="2.45"/><circle cx="463.5" cy="376.4" r="2.45"/><circle cx="463.8" cy="376.9" r="2.45"/><circle cx="464" cy="370.8" r="2.45"/><circle cx="464.3" cy="381.4" r="2.45"/><circle cx="464.5" cy="381.6" r="2.45"/><circle cx="464.8" cy="359.1" r="2.45"/><circle cx="465" cy="366.6" r="2.45"/><circle cx="465.3" cy="371.3" r="2.45"/><circle cx="465.5" cy="367.6" r="2.45"/><circle cx="465.8" cy="382.8" r="2.45"/><circle cx="466" cy="367.4" r="2.45"/><circle cx="466.3" cy="372.6" r="2.45"/><circle cx="466.5" cy="376.9" r="2.45"/><circle cx="466.8" cy="365.9" r="2.45"/><circle cx="467" cy="369.2" r="2.45"/><circle cx="467.3" cy="369.5" r="2.45"/><circle cx="467.5" cy="365.1" r="2.45"/><circle cx="467.8" cy="367.2" r="2.45"/><circle cx="468" cy="372.4" r="2.45"/><circle cx="468.3" cy="360.4" r="2.45"/><circle cx="468.5" cy="376.7" r="2.45"/><circle cx="468.8" cy="357.9" r="2.45"/><circle cx="469" cy="367.7" r="2.45"/><circle cx="469.3" cy="380.5" r="2.45"/><circle cx="469.5" cy="383.9" r="2.45"/><circle cx="469.8" cy="373.5" r="2.45"/><circle cx="470" cy="366.5" r="2.45"/><circle cx="470.3" cy="377.2" r="2.45"/><circle cx="470.5" cy="367.3" r="2.45"/><circle cx="470.8" cy="384" r="2.45"/><circle cx="471" cy="384.4" r="2.45"/><circle cx="471.3" cy="363.5" r="2.45"/><circle cx="471.5" cy="363.3" r="2.45"/><circle cx="471.8" cy="364.2" r="2.45"/><circle cx="472" cy="380.2" r="2.45"/><circle cx="472.3" cy="378.1" r="2.45"/><circle cx="472.5" cy="389.7" r="2.45"/><circle cx="472.8" cy="365" r="2.45"/><circle cx="473" cy="373.4" r="2.45"/><circle cx="473.3" cy="378" r="2.45"/><circle cx="473.5" cy="385.5" r="2.45"/><circle cx="473.8" cy="372.9" r="2.45"/><circle cx="474" cy="389.2" r="2.45"/><circle cx="474.3" cy="368.8" r="2.45"/><circle cx="474.5" cy="373.2" r="2.45"/><circle cx="474.8" cy="377.3" r="2.45"/><circle cx="475" cy="380.9" r="2.45"/><circle cx="475.3" cy="375.2" r="2.45"/><circle cx="475.5" cy="380.8" r="2.45"/><circle cx="475.8" cy="380.1" r="2.45"/><circle cx="476" cy="371.3" r="2.45"/><circle cx="476.3" cy="382.3" r="2.45"/><circle cx="476.5" cy="375.6" r="2.45"/><circle cx="476.8" cy="381.5" r="2.45"/><circle cx="477" cy="376.7" r="2.45"/><circle cx="477.3" cy="387.3" r="2.45"/><circle cx="477.5" cy="363.9" r="2.45"/><circle cx="477.8" cy="381.3" r="2.45"/><circle cx="478" cy="386.6" r="2.45"/><circle cx="478.3" cy="373.5" r="2.45"/><circle cx="478.5" cy="379.3" r="2.45"/><circle cx="478.8" cy="376.4" r="2.45"/><circle cx="479" cy="367.1" r="2.45"/><circle cx="479.3" cy="378.7" r="2.45"/><circle cx="479.5" cy="379.5" r="2.45"/><circle cx="479.8" cy="386.3" r="2.45"/><circle cx="480" cy="385.1" r="2.45"/><circle cx="480.3" cy="374.8" r="2.45"/><circle cx="480.5" cy="373" r="2.45"/><circle cx="480.8" cy="371.4" r="2.45"/><circle cx="481" cy="378.2" r="2.45"/><circle cx="481.3" cy="368.5" r="2.45"/><circle cx="481.5" cy="389.8" r="2.45"/><circle cx="481.8" cy="375.4" r="2.45"/><circle cx="482" cy="385.5" r="2.45"/><circle cx="482.3" cy="394.4" r="2.45"/><circle cx="482.5" cy="380.8" r="2.45"/><circle cx="482.8" cy="377.9" r="2.45"/><circle cx="483" cy="374.6" r="2.45"/><circle cx="483.3" cy="381.1" r="2.45"/><circle cx="483.5" cy="387" r="2.45"/><circle cx="483.8" cy="381.1" r="2.45"/><circle cx="484" cy="379.2" r="2.45"/><circle cx="484.3" cy="388.5" r="2.45"/><circle cx="484.5" cy="384.1" r="2.45"/><circle cx="484.8" cy="386" r="2.45"/><circle cx="485" cy="373.5" r="2.45"/><circle cx="485.3" cy="370.3" r="2.45"/><circle cx="485.5" cy="389.3" r="2.45"/><circle cx="485.8" cy="377.5" r="2.45"/><circle cx="486" cy="374.2" r="2.45"/><circle cx="486.3" cy="378" r="2.45"/><circle cx="486.5" cy="377.8" r="2.45"/><circle cx="486.8" cy="394.6" r="2.45"/><circle cx="487" cy="382.3" r="2.45"/><circle cx="487.3" cy="383.9" r="2.45"/><circle cx="487.5" cy="376.2" r="2.45"/><circle cx="487.8" cy="383.8" r="2.45"/><circle cx="488" cy="396" r="2.45"/><circle cx="488.3" cy="366.9" r="2.45"/><circle cx="488.5" cy="375.7" r="2.45"/><circle cx="488.8" cy="387" r="2.45"/><circle cx="489" cy="377.6" r="2.45"/><circle cx="489.3" cy="390.7" r="2.45"/><circle cx="489.5" cy="364.7" r="2.45"/><circle cx="489.8" cy="384" r="2.45"/><circle cx="490" cy="372.5" r="2.45"/><circle cx="490.3" cy="375.4" r="2.45"/><circle cx="490.5" cy="378.4" r="2.45"/><circle cx="490.8" cy="390.7" r="2.45"/><circle cx="491" cy="379.9" r="2.45"/><circle cx="491.3" cy="382.1" r="2.45"/><circle cx="491.5" cy="381.7" r="2.45"/><circle cx="491.8" cy="381.3" r="2.45"/><circle cx="492" cy="380.3" r="2.45"/><circle cx="492.3" cy="378.5" r="2.45"/><circle cx="492.5" cy="376.6" r="2.45"/><circle cx="492.8" cy="388.8" r="2.45"/><circle cx="493" cy="391" r="2.45"/><circle cx="493.3" cy="379.3" r="2.45"/><circle cx="493.5" cy="378.5" r="2.45"/><circle cx="493.8" cy="384" r="2.45"/><circle cx="494" cy="388.8" r="2.45"/><circle cx="494.3" cy="398.3" r="2.45"/><circle cx="494.5" cy="380.8" r="2.45"/><circle cx="494.8" cy="395.3" r="2.45"/><circle cx="495" cy="381.6" r="2.45"/><circle cx="495.3" cy="393.6" r="2.45"/><circle cx="495.5" cy="372.4" r="2.45"/><circle cx="495.8" cy="387.9" r="2.45"/><circle cx="496" cy="390.5" r="2.45"/><circle cx="496.3" cy="398.7" r="2.45"/><circle cx="496.5" cy="378" r="2.45"/><circle cx="496.8" cy="387" r="2.45"/><circle cx="497" cy="388.6" r="2.45"/><circle cx="497.3" cy="376.7" r="2.45"/><circle cx="497.5" cy="408.2" r="2.45"/><circle cx="497.8" cy="395.4" r="2.45"/><circle cx="498" cy="395.3" r="2.45"/><circle cx="498.3" cy="393.1" r="2.45"/><circle cx="498.5" cy="387.9" r="2.45"/><circle cx="498.8" cy="390.7" r="2.45"/><circle cx="499" cy="388.8" r="2.45"/><circle cx="499.3" cy="390.6" r="2.45"/><circle cx="499.5" cy="386.3" r="2.45"/><circle cx="499.8" cy="375.4" r="2.45"/><circle cx="500" cy="386.7" r="2.45"/><circle cx="500.3" cy="374" r="2.45"/><circle cx="500.5" cy="396.1" r="2.45"/><circle cx="500.8" cy="378" r="2.45"/><circle cx="501" cy="403.7" r="2.45"/><circle cx="501.3" cy="378.9" r="2.45"/><circle cx="501.6" cy="395.6" r="2.45"/><circle cx="501.8" cy="401.3" r="2.45"/><circle cx="502.1" cy="385.7" r="2.45"/><circle cx="502.3" cy="377.3" r="2.45"/><circle cx="502.6" cy="392.1" r="2.45"/><circle cx="502.8" cy="407.5" r="2.45"/><circle cx="503.1" cy="397.2" r="2.45"/><circle cx="503.3" cy="390.2" r="2.45"/><circle cx="503.6" cy="395.7" r="2.45"/><circle cx="503.8" cy="391.8" r="2.45"/><circle cx="504.1" cy="387.5" r="2.45"/><circle cx="504.3" cy="398" r="2.45"/><circle cx="504.6" cy="397.1" r="2.45"/><circle cx="504.8" cy="397.1" r="2.45"/><circle cx="505.1" cy="388.1" r="2.45"/><circle cx="505.3" cy="398.1" r="2.45"/><circle cx="505.6" cy="399" r="2.45"/><circle cx="505.8" cy="393.9" r="2.45"/><circle cx="506.1" cy="397.3" r="2.45"/><circle cx="506.3" cy="395.2" r="2.45"/><circle cx="506.6" cy="391.8" r="2.45"/><circle cx="506.8" cy="390.8" r="2.45"/><circle cx="507.1" cy="396" r="2.45"/><circle cx="507.3" cy="394.8" r="2.45"/><circle cx="507.6" cy="387.5" r="2.45"/><circle cx="507.8" cy="372.5" r="2.45"/><circle cx="508.1" cy="391.6" r="2.45"/><circle cx="508.3" cy="390.8" r="2.45"/><circle cx="508.6" cy="397.1" r="2.45"/><circle cx="508.8" cy="382.7" r="2.45"/><circle cx="509.1" cy="390.6" r="2.45"/><circle cx="509.3" cy="396.5" r="2.45"/><circle cx="509.6" cy="384.7" r="2.45"/><circle cx="509.8" cy="387.3" r="2.45"/><circle cx="510.1" cy="396.7" r="2.45"/><circle cx="510.3" cy="394.3" r="2.45"/><circle cx="510.6" cy="399.5" r="2.45"/><circle cx="510.8" cy="402.9" r="2.45"/><circle cx="511.1" cy="406.3" r="2.45"/><circle cx="511.3" cy="399.7" r="2.45"/><circle cx="511.6" cy="393.2" r="2.45"/><circle cx="511.8" cy="396.9" r="2.45"/><circle cx="512.1" cy="400" r="2.45"/><circle cx="512.3" cy="411.4" r="2.45"/><circle cx="512.6" cy="390.4" r="2.45"/><circle cx="512.8" cy="395.5" r="2.45"/><circle cx="513.1" cy="400.4" r="2.45"/><circle cx="513.3" cy="382.2" r="2.45"/><circle cx="513.6" cy="407.8" r="2.45"/><circle cx="513.8" cy="395.1" r="2.45"/><circle cx="514.1" cy="409.1" r="2.45"/><circle cx="514.3" cy="410.2" r="2.45"/><circle cx="514.6" cy="387.6" r="2.45"/><circle cx="514.8" cy="392" r="2.45"/><circle cx="515.1" cy="390.8" r="2.45"/><circle cx="515.3" cy="405.6" r="2.45"/><circle cx="515.6" cy="386.9" r="2.45"/><circle cx="515.8" cy="385.1" r="2.45"/><circle cx="516.1" cy="399" r="2.45"/><circle cx="516.3" cy="393.6" r="2.45"/><circle cx="516.6" cy="390.6" r="2.45"/><circle cx="516.8" cy="394.4" r="2.45"/><circle cx="517.1" cy="376.6" r="2.45"/><circle cx="517.3" cy="402.4" r="2.45"/><circle cx="517.6" cy="411.5" r="2.45"/><circle cx="517.8" cy="396.3" r="2.45"/><circle cx="518.1" cy="403" r="2.45"/><circle cx="518.3" cy="395" r="2.45"/><circle cx="518.6" cy="382.6" r="2.45"/><circle cx="518.8" cy="396.9" r="2.45"/><circle cx="519.1" cy="391.1" r="2.45"/><circle cx="519.3" cy="401.7" r="2.45"/><circle cx="519.6" cy="393.2" r="2.45"/><circle cx="519.8" cy="402.1" r="2.45"/><circle cx="520.1" cy="401.5" r="2.45"/><circle cx="520.3" cy="388.2" r="2.45"/><circle cx="520.6" cy="386.4" r="2.45"/><circle cx="520.8" cy="406.6" r="2.45"/><circle cx="521.1" cy="397.4" r="2.45"/><circle cx="521.3" cy="398.4" r="2.45"/><circle cx="521.6" cy="391.9" r="2.45"/><circle cx="521.8" cy="408.6" r="2.45"/><circle cx="522.1" cy="399.3" r="2.45"/><circle cx="522.3" cy="409.2" r="2.45"/><circle cx="522.6" cy="400.7" r="2.45"/><circle cx="522.8" cy="403.2" r="2.45"/><circle cx="523.1" cy="415.8" r="2.45"/><circle cx="523.3" cy="384.9" r="2.45"/><circle cx="523.6" cy="411.5" r="2.45"/><circle cx="523.8" cy="400.8" r="2.45"/><circle cx="524.1" cy="402.4" r="2.45"/><circle cx="524.3" cy="407.3" r="2.45"/><circle cx="524.6" cy="404.5" r="2.45"/><circle cx="524.8" cy="404" r="2.45"/><circle cx="525.1" cy="425" r="2.45"/><circle cx="525.3" cy="408.8" r="2.45"/><circle cx="525.6" cy="412.8" r="2.45"/><circle cx="525.8" cy="404.7" r="2.45"/><circle cx="526.1" cy="402.9" r="2.45"/><circle cx="526.3" cy="395.1" r="2.45"/><circle cx="526.6" cy="397.2" r="2.45"/><circle cx="526.8" cy="409.6" r="2.45"/><circle cx="527.1" cy="396.7" r="2.45"/><circle cx="527.3" cy="392.7" r="2.45"/><circle cx="527.6" cy="391.2" r="2.45"/><circle cx="527.8" cy="395.1" r="2.45"/><circle cx="528.1" cy="400.3" r="2.45"/><circle cx="528.3" cy="395.6" r="2.45"/><circle cx="528.6" cy="392.8" r="2.45"/><circle cx="528.8" cy="400" r="2.45"/><circle cx="529.1" cy="407.3" r="2.45"/><circle cx="529.3" cy="407.8" r="2.45"/><circle cx="529.6" cy="408.4" r="2.45"/><circle cx="529.8" cy="411.3" r="2.45"/><circle cx="530.1" cy="396.2" r="2.45"/><circle cx="530.3" cy="393.7" r="2.45"/><circle cx="530.6" cy="408.6" r="2.45"/><circle cx="530.8" cy="406.3" r="2.45"/><circle cx="531.1" cy="399.7" r="2.45"/><circle cx="531.3" cy="393.6" r="2.45"/><circle cx="531.6" cy="402.9" r="2.45"/><circle cx="531.8" cy="414.4" r="2.45"/><circle cx="532.1" cy="388.9" r="2.45"/><circle cx="532.3" cy="396.6" r="2.45"/><circle cx="532.6" cy="403.7" r="2.45"/><circle cx="532.8" cy="400.1" r="2.45"/><circle cx="533.1" cy="420.5" r="2.45"/><circle cx="533.3" cy="393.8" r="2.45"/><circle cx="533.6" cy="405.3" r="2.45"/><circle cx="533.8" cy="389.3" r="2.45"/><circle cx="534.1" cy="394.3" r="2.45"/><circle cx="534.3" cy="405.2" r="2.45"/><circle cx="534.6" cy="396.5" r="2.45"/><circle cx="534.8" cy="415.8" r="2.45"/><circle cx="535.1" cy="414.4" r="2.45"/><circle cx="535.3" cy="401.6" r="2.45"/><circle cx="535.6" cy="407.1" r="2.45"/><circle cx="535.8" cy="408.6" r="2.45"/><circle cx="536.1" cy="402.9" r="2.45"/><circle cx="536.3" cy="395.7" r="2.45"/><circle cx="536.6" cy="402.5" r="2.45"/><circle cx="536.8" cy="396.9" r="2.45"/><circle cx="537.1" cy="404.8" r="2.45"/><circle cx="537.3" cy="394.9" r="2.45"/><circle cx="537.6" cy="428.6" r="2.45"/><circle cx="537.8" cy="393.8" r="2.45"/><circle cx="538.1" cy="407.9" r="2.45"/><circle cx="538.3" cy="401.2" r="2.45"/><circle cx="538.6" cy="420.2" r="2.45"/><circle cx="538.8" cy="414.4" r="2.45"/><circle cx="539.1" cy="420.1" r="2.45"/><circle cx="539.3" cy="414.3" r="2.45"/><circle cx="539.6" cy="416.4" r="2.45"/><circle cx="539.8" cy="407.3" r="2.45"/><circle cx="540.1" cy="409.8" r="2.45"/><circle cx="540.3" cy="402.4" r="2.45"/><circle cx="540.6" cy="412.7" r="2.45"/>
</g>
<g fill="url(#o)" class="D" clip-path="url(#cd)">
<circle cx="305.8" cy="270.1" r="2.45"/><circle cx="306.1" cy="275.8" r="2.45"/><circle cx="306.3" cy="276.6" r="2.45"/><circle cx="306.6" cy="280.5" r="2.45"/><circle cx="306.8" cy="271" r="2.45"/><circle cx="307.1" cy="274.6" r="2.45"/><circle cx="307.3" cy="275.5" r="2.45"/><circle cx="307.6" cy="284.1" r="2.45"/><circle cx="307.8" cy="277.3" r="2.45"/><circle cx="308.1" cy="277.2" r="2.45"/><circle cx="308.3" cy="275.7" r="2.45"/><circle cx="308.6" cy="278.3" r="2.45"/><circle cx="308.8" cy="278.7" r="2.45"/><circle cx="309.1" cy="274.7" r="2.45"/><circle cx="309.3" cy="286.3" r="2.45"/><circle cx="309.6" cy="272" r="2.45"/><circle cx="309.8" cy="285.4" r="2.45"/><circle cx="310.1" cy="281.3" r="2.45"/><circle cx="310.3" cy="286.9" r="2.45"/><circle cx="310.6" cy="280" r="2.45"/><circle cx="310.8" cy="279.1" r="2.45"/><circle cx="311.1" cy="278" r="2.45"/><circle cx="311.3" cy="279.5" r="2.45"/><circle cx="311.6" cy="280.7" r="2.45"/><circle cx="311.8" cy="282.9" r="2.45"/><circle cx="312.1" cy="285.2" r="2.45"/><circle cx="312.3" cy="286.4" r="2.45"/><circle cx="312.6" cy="288.8" r="2.45"/><circle cx="312.8" cy="276.3" r="2.45"/><circle cx="313.1" cy="289.7" r="2.45"/><circle cx="313.3" cy="285.5" r="2.45"/><circle cx="313.6" cy="282.6" r="2.45"/><circle cx="313.8" cy="290.4" r="2.45"/><circle cx="314.1" cy="292.9" r="2.45"/><circle cx="314.3" cy="288.4" r="2.45"/><circle cx="314.6" cy="289.2" r="2.45"/><circle cx="314.8" cy="283.6" r="2.45"/><circle cx="315.1" cy="284.8" r="2.45"/><circle cx="315.3" cy="284.1" r="2.45"/><circle cx="315.6" cy="288.4" r="2.45"/><circle cx="315.8" cy="289.8" r="2.45"/><circle cx="316.1" cy="295.4" r="2.45"/><circle cx="316.3" cy="300" r="2.45"/><circle cx="316.6" cy="284.9" r="2.45"/><circle cx="316.8" cy="293.8" r="2.45"/><circle cx="317.1" cy="282.5" r="2.45"/><circle cx="317.3" cy="291.5" r="2.45"/><circle cx="317.6" cy="284.6" r="2.45"/><circle cx="317.8" cy="296.3" r="2.45"/><circle cx="318.1" cy="300.8" r="2.45"/><circle cx="318.3" cy="294.5" r="2.45"/><circle cx="318.6" cy="291.5" r="2.45"/><circle cx="318.8" cy="290.6" r="2.45"/><circle cx="319.1" cy="299.1" r="2.45"/><circle cx="319.3" cy="296.6" r="2.45"/><circle cx="319.6" cy="289.4" r="2.45"/><circle cx="319.8" cy="298.3" r="2.45"/><circle cx="320.1" cy="297.7" r="2.45"/><circle cx="320.3" cy="295.5" r="2.45"/><circle cx="320.6" cy="300.3" r="2.45"/><circle cx="320.8" cy="297.6" r="2.45"/><circle cx="321.1" cy="298.1" r="2.45"/><circle cx="321.3" cy="292.5" r="2.45"/><circle cx="321.6" cy="298.8" r="2.45"/><circle cx="321.8" cy="300" r="2.45"/><circle cx="322.1" cy="307.8" r="2.45"/><circle cx="322.3" cy="298.2" r="2.45"/><circle cx="322.6" cy="296.3" r="2.45"/><circle cx="322.8" cy="299" r="2.45"/><circle cx="323.1" cy="305" r="2.45"/><circle cx="323.3" cy="300.7" r="2.45"/><circle cx="323.6" cy="297.3" r="2.45"/><circle cx="323.8" cy="291.2" r="2.45"/><circle cx="324.1" cy="302.3" r="2.45"/><circle cx="324.3" cy="303.6" r="2.45"/><circle cx="324.6" cy="302.2" r="2.45"/><circle cx="324.8" cy="299.6" r="2.45"/><circle cx="325.1" cy="303.5" r="2.45"/><circle cx="325.3" cy="299.2" r="2.45"/><circle cx="325.6" cy="305.6" r="2.45"/><circle cx="325.8" cy="311.5" r="2.45"/><circle cx="326.1" cy="307.1" r="2.45"/><circle cx="326.3" cy="307.4" r="2.45"/><circle cx="326.6" cy="305.1" r="2.45"/><circle cx="326.8" cy="305" r="2.45"/><circle cx="327.1" cy="306.9" r="2.45"/><circle cx="327.3" cy="308.8" r="2.45"/><circle cx="327.6" cy="301.6" r="2.45"/><circle cx="327.8" cy="303.1" r="2.45"/><circle cx="328.1" cy="308.9" r="2.45"/><circle cx="328.4" cy="307.2" r="2.45"/><circle cx="328.6" cy="303.5" r="2.45"/><circle cx="328.9" cy="302.9" r="2.45"/><circle cx="329.1" cy="301.2" r="2.45"/><circle cx="329.4" cy="304.4" r="2.45"/><circle cx="329.6" cy="319" r="2.45"/><circle cx="329.9" cy="310.2" r="2.45"/><circle cx="330.1" cy="303.5" r="2.45"/><circle cx="330.4" cy="307.4" r="2.45"/><circle cx="330.6" cy="310.3" r="2.45"/><circle cx="330.9" cy="308.5" r="2.45"/><circle cx="331.1" cy="309.9" r="2.45"/><circle cx="331.4" cy="310.3" r="2.45"/><circle cx="331.6" cy="310.1" r="2.45"/><circle cx="331.9" cy="313.8" r="2.45"/><circle cx="332.1" cy="317.7" r="2.45"/><circle cx="332.4" cy="316.5" r="2.45"/><circle cx="332.6" cy="319" r="2.45"/><circle cx="332.9" cy="309.2" r="2.45"/><circle cx="333.1" cy="313" r="2.45"/><circle cx="333.4" cy="309.7" r="2.45"/><circle cx="333.6" cy="307.5" r="2.45"/><circle cx="333.9" cy="314.3" r="2.45"/><circle cx="334.1" cy="311.9" r="2.45"/><circle cx="334.4" cy="317.9" r="2.45"/><circle cx="334.6" cy="315.8" r="2.45"/><circle cx="334.9" cy="308.5" r="2.45"/><circle cx="335.1" cy="316.8" r="2.45"/><circle cx="335.4" cy="306.6" r="2.45"/><circle cx="335.6" cy="314.5" r="2.45"/><circle cx="335.9" cy="315.6" r="2.45"/><circle cx="336.1" cy="318.9" r="2.45"/><circle cx="336.4" cy="316.1" r="2.45"/><circle cx="336.6" cy="318.3" r="2.45"/><circle cx="336.9" cy="319.8" r="2.45"/><circle cx="337.1" cy="314.5" r="2.45"/><circle cx="337.4" cy="308.5" r="2.45"/><circle cx="337.6" cy="314.3" r="2.45"/><circle cx="337.9" cy="316" r="2.45"/><circle cx="338.1" cy="322.5" r="2.45"/><circle cx="338.4" cy="312.6" r="2.45"/><circle cx="338.6" cy="319.2" r="2.45"/><circle cx="338.9" cy="318.5" r="2.45"/><circle cx="339.1" cy="318.6" r="2.45"/><circle cx="339.4" cy="317.8" r="2.45"/><circle cx="339.6" cy="318.6" r="2.45"/><circle cx="339.9" cy="321.6" r="2.45"/><circle cx="340.1" cy="320.3" r="2.45"/><circle cx="340.4" cy="325.6" r="2.45"/><circle cx="340.6" cy="324.8" r="2.45"/><circle cx="340.9" cy="320.4" r="2.45"/><circle cx="341.1" cy="331" r="2.45"/><circle cx="341.4" cy="320.5" r="2.45"/><circle cx="341.6" cy="318.1" r="2.45"/><circle cx="341.9" cy="316.6" r="2.45"/><circle cx="342.1" cy="325.9" r="2.45"/><circle cx="342.4" cy="325.3" r="2.45"/><circle cx="342.6" cy="334.7" r="2.45"/><circle cx="342.9" cy="320.9" r="2.45"/><circle cx="343.1" cy="327.9" r="2.45"/><circle cx="343.4" cy="333.3" r="2.45"/><circle cx="343.6" cy="327.3" r="2.45"/><circle cx="343.9" cy="313.8" r="2.45"/><circle cx="344.1" cy="332.5" r="2.45"/><circle cx="344.4" cy="327.3" r="2.45"/><circle cx="344.6" cy="328.8" r="2.45"/><circle cx="344.9" cy="330.2" r="2.45"/><circle cx="345.1" cy="328.3" r="2.45"/><circle cx="345.4" cy="322.6" r="2.45"/><circle cx="345.6" cy="316.3" r="2.45"/><circle cx="345.9" cy="321.3" r="2.45"/><circle cx="346.1" cy="327.3" r="2.45"/><circle cx="346.4" cy="317" r="2.45"/><circle cx="346.6" cy="325.7" r="2.45"/><circle cx="346.9" cy="324.5" r="2.45"/><circle cx="347.1" cy="332.1" r="2.45"/><circle cx="347.4" cy="319.9" r="2.45"/><circle cx="347.6" cy="329.3" r="2.45"/><circle cx="347.9" cy="328.8" r="2.45"/><circle cx="348.1" cy="332.2" r="2.45"/><circle cx="348.4" cy="333" r="2.45"/><circle cx="348.6" cy="321.1" r="2.45"/><circle cx="348.9" cy="330" r="2.45"/><circle cx="349.1" cy="321.3" r="2.45"/><circle cx="349.4" cy="328.1" r="2.45"/><circle cx="349.6" cy="330.7" r="2.45"/><circle cx="349.9" cy="323" r="2.45"/><circle cx="350.2" cy="326.5" r="2.45"/><circle cx="350.4" cy="341.1" r="2.45"/><circle cx="350.7" cy="346.7" r="2.45"/><circle cx="350.9" cy="325.9" r="2.45"/><circle cx="351.2" cy="346" r="2.45"/><circle cx="351.4" cy="331" r="2.45"/><circle cx="351.7" cy="321.8" r="2.45"/><circle cx="351.9" cy="328.4" r="2.45"/><circle cx="352.2" cy="333.8" r="2.45"/><circle cx="352.4" cy="338.6" r="2.45"/><circle cx="352.7" cy="333.1" r="2.45"/><circle cx="352.9" cy="336.3" r="2.45"/><circle cx="353.2" cy="326.6" r="2.45"/><circle cx="353.4" cy="330" r="2.45"/><circle cx="353.7" cy="332.4" r="2.45"/><circle cx="353.9" cy="336.3" r="2.45"/><circle cx="354.2" cy="328.4" r="2.45"/><circle cx="354.4" cy="337.3" r="2.45"/><circle cx="354.7" cy="333.5" r="2.45"/><circle cx="354.9" cy="336.3" r="2.45"/><circle cx="355.2" cy="332.5" r="2.45"/><circle cx="355.4" cy="346.5" r="2.45"/><circle cx="355.7" cy="334.1" r="2.45"/><circle cx="355.9" cy="325.7" r="2.45"/><circle cx="356.2" cy="343.4" r="2.45"/><circle cx="356.4" cy="349.4" r="2.45"/><circle cx="356.7" cy="331.6" r="2.45"/><circle cx="356.9" cy="340.8" r="2.45"/><circle cx="357.2" cy="335.7" r="2.45"/><circle cx="357.4" cy="333.5" r="2.45"/><circle cx="357.7" cy="335" r="2.45"/><circle cx="357.9" cy="346.2" r="2.45"/><circle cx="358.2" cy="350" r="2.45"/><circle cx="358.4" cy="333.4" r="2.45"/><circle cx="358.7" cy="342.4" r="2.45"/><circle cx="358.9" cy="333" r="2.45"/><circle cx="359.2" cy="352.9" r="2.45"/><circle cx="359.4" cy="330.4" r="2.45"/><circle cx="359.7" cy="339" r="2.45"/><circle cx="359.9" cy="343" r="2.45"/><circle cx="360.2" cy="336.1" r="2.45"/><circle cx="360.4" cy="349.5" r="2.45"/><circle cx="360.7" cy="338.8" r="2.45"/><circle cx="360.9" cy="343.9" r="2.45"/><circle cx="361.2" cy="341.1" r="2.45"/><circle cx="361.4" cy="340.6" r="2.45"/><circle cx="361.7" cy="341.6" r="2.45"/><circle cx="361.9" cy="356" r="2.45"/><circle cx="362.2" cy="335.7" r="2.45"/><circle cx="362.4" cy="345" r="2.45"/><circle cx="362.7" cy="345" r="2.45"/><circle cx="362.9" cy="342.5" r="2.45"/><circle cx="363.2" cy="338" r="2.45"/><circle cx="363.4" cy="348.7" r="2.45"/><circle cx="363.7" cy="355.1" r="2.45"/><circle cx="363.9" cy="347" r="2.45"/><circle cx="364.2" cy="339.9" r="2.45"/><circle cx="364.4" cy="338.9" r="2.45"/><circle cx="364.7" cy="339.7" r="2.45"/><circle cx="364.9" cy="341.7" r="2.45"/><circle cx="365.2" cy="333.3" r="2.45"/><circle cx="365.4" cy="355.8" r="2.45"/><circle cx="365.7" cy="344" r="2.45"/><circle cx="365.9" cy="347.1" r="2.45"/><circle cx="366.2" cy="343.4" r="2.45"/><circle cx="366.4" cy="344.9" r="2.45"/><circle cx="366.7" cy="338.6" r="2.45"/><circle cx="366.9" cy="335.6" r="2.45"/><circle cx="367.2" cy="348.4" r="2.45"/><circle cx="367.4" cy="346.3" r="2.45"/><circle cx="367.7" cy="352.2" r="2.45"/><circle cx="367.9" cy="355.9" r="2.45"/><circle cx="368.2" cy="351.1" r="2.45"/><circle cx="368.4" cy="339.4" r="2.45"/><circle cx="368.7" cy="350.8" r="2.45"/><circle cx="368.9" cy="347.2" r="2.45"/><circle cx="369.2" cy="341.4" r="2.45"/><circle cx="369.4" cy="344.9" r="2.45"/><circle cx="369.7" cy="359.7" r="2.45"/><circle cx="369.9" cy="351.3" r="2.45"/><circle cx="370.2" cy="351.1" r="2.45"/><circle cx="370.4" cy="351" r="2.45"/><circle cx="370.7" cy="340" r="2.45"/><circle cx="370.9" cy="347.1" r="2.45"/><circle cx="371.2" cy="345.5" r="2.45"/><circle cx="371.4" cy="347.1" r="2.45"/><circle cx="371.7" cy="347.1" r="2.45"/><circle cx="371.9" cy="352.9" r="2.45"/><circle cx="372.2" cy="352.1" r="2.45"/><circle cx="372.5" cy="359.4" r="2.45"/><circle cx="372.7" cy="340.3" r="2.45"/><circle cx="373" cy="355.5" r="2.45"/><circle cx="373.2" cy="341.5" r="2.45"/><circle cx="373.5" cy="351.6" r="2.45"/><circle cx="373.7" cy="349.1" r="2.45"/><circle cx="374" cy="349.6" r="2.45"/><circle cx="374.2" cy="350.6" r="2.45"/><circle cx="374.5" cy="353" r="2.45"/><circle cx="374.7" cy="348.6" r="2.45"/><circle cx="375" cy="348.7" r="2.45"/><circle cx="375.2" cy="343.2" r="2.45"/><circle cx="375.5" cy="340.4" r="2.45"/><circle cx="375.7" cy="358" r="2.45"/><circle cx="376" cy="345" r="2.45"/><circle cx="376.2" cy="352.3" r="2.45"/><circle cx="376.5" cy="351.6" r="2.45"/><circle cx="376.7" cy="357.1" r="2.45"/><circle cx="377" cy="350" r="2.45"/><circle cx="377.2" cy="342.4" r="2.45"/><circle cx="377.5" cy="350.6" r="2.45"/><circle cx="377.7" cy="355.6" r="2.45"/><circle cx="378" cy="352.8" r="2.45"/><circle cx="378.2" cy="349.7" r="2.45"/><circle cx="378.5" cy="351.3" r="2.45"/><circle cx="378.7" cy="354.7" r="2.45"/><circle cx="379" cy="358.3" r="2.45"/><circle cx="379.2" cy="351.6" r="2.45"/><circle cx="379.5" cy="360.5" r="2.45"/><circle cx="379.7" cy="356.6" r="2.45"/><circle cx="380" cy="356.5" r="2.45"/><circle cx="380.2" cy="359.2" r="2.45"/><circle cx="380.5" cy="351.9" r="2.45"/><circle cx="380.7" cy="355.9" r="2.45"/><circle cx="381" cy="355.4" r="2.45"/><circle cx="381.2" cy="351.5" r="2.45"/><circle cx="381.5" cy="354.2" r="2.45"/><circle cx="381.7" cy="358.9" r="2.45"/><circle cx="382" cy="354.2" r="2.45"/><circle cx="382.2" cy="364.2" r="2.45"/><circle cx="382.5" cy="352.8" r="2.45"/><circle cx="382.7" cy="376.6" r="2.45"/><circle cx="383" cy="370.2" r="2.45"/><circle cx="383.2" cy="364" r="2.45"/><circle cx="383.5" cy="354.3" r="2.45"/><circle cx="383.7" cy="370.2" r="2.45"/><circle cx="384" cy="351.6" r="2.45"/><circle cx="384.2" cy="358.8" r="2.45"/><circle cx="384.5" cy="351.2" r="2.45"/><circle cx="384.7" cy="363.8" r="2.45"/><circle cx="385" cy="358.6" r="2.45"/><circle cx="385.2" cy="363.6" r="2.45"/><circle cx="385.5" cy="357.1" r="2.45"/><circle cx="385.7" cy="370.8" r="2.45"/><circle cx="386" cy="361.3" r="2.45"/><circle cx="386.2" cy="353.4" r="2.45"/><circle cx="386.5" cy="361.5" r="2.45"/><circle cx="386.7" cy="362.9" r="2.45"/><circle cx="387" cy="365.5" r="2.45"/><circle cx="387.2" cy="355" r="2.45"/><circle cx="387.5" cy="354.7" r="2.45"/><circle cx="387.7" cy="362.1" r="2.45"/><circle cx="388" cy="370.1" r="2.45"/><circle cx="388.2" cy="380.2" r="2.45"/><circle cx="388.5" cy="365.5" r="2.45"/><circle cx="388.7" cy="362.9" r="2.45"/><circle cx="389" cy="383.7" r="2.45"/><circle cx="389.2" cy="362.3" r="2.45"/><circle cx="389.5" cy="355.9" r="2.45"/><circle cx="389.7" cy="360.1" r="2.45"/><circle cx="390" cy="355.8" r="2.45"/><circle cx="390.2" cy="372" r="2.45"/><circle cx="390.5" cy="358.4" r="2.45"/><circle cx="390.7" cy="367.5" r="2.45"/><circle cx="391" cy="375" r="2.45"/><circle cx="391.2" cy="354.2" r="2.45"/><circle cx="391.5" cy="371.2" r="2.45"/><circle cx="391.7" cy="372.1" r="2.45"/><circle cx="392" cy="364.6" r="2.45"/><circle cx="392.2" cy="369.7" r="2.45"/><circle cx="392.5" cy="368.8" r="2.45"/><circle cx="392.7" cy="382.8" r="2.45"/><circle cx="393" cy="379.7" r="2.45"/><circle cx="393.2" cy="383" r="2.45"/><circle cx="393.5" cy="369.1" r="2.45"/><circle cx="393.7" cy="361.9" r="2.45"/><circle cx="394" cy="368.7" r="2.45"/><circle cx="394.2" cy="366.6" r="2.45"/><circle cx="394.5" cy="361.5" r="2.45"/><circle cx="394.8" cy="371.9" r="2.45"/><circle cx="395" cy="369.7" r="2.45"/><circle cx="395.3" cy="369.3" r="2.45"/><circle cx="395.5" cy="371.8" r="2.45"/><circle cx="395.8" cy="374.7" r="2.45"/><circle cx="396" cy="373.8" r="2.45"/><circle cx="396.3" cy="368.5" r="2.45"/><circle cx="396.5" cy="361.4" r="2.45"/><circle cx="396.8" cy="370.7" r="2.45"/><circle cx="397" cy="380.6" r="2.45"/><circle cx="397.3" cy="374.7" r="2.45"/><circle cx="397.5" cy="379" r="2.45"/><circle cx="397.8" cy="387.5" r="2.45"/><circle cx="398" cy="375.9" r="2.45"/><circle cx="398.3" cy="373.6" r="2.45"/><circle cx="398.5" cy="366.8" r="2.45"/><circle cx="398.8" cy="375.5" r="2.45"/><circle cx="399" cy="366.6" r="2.45"/><circle cx="399.3" cy="368.3" r="2.45"/><circle cx="399.5" cy="358" r="2.45"/><circle cx="399.8" cy="375.1" r="2.45"/><circle cx="400" cy="378.3" r="2.45"/><circle cx="400.3" cy="373.4" r="2.45"/><circle cx="400.5" cy="376.4" r="2.45"/><circle cx="400.8" cy="378.6" r="2.45"/><circle cx="401" cy="375.4" r="2.45"/><circle cx="401.3" cy="370.7" r="2.45"/><circle cx="401.5" cy="363.8" r="2.45"/><circle cx="401.8" cy="394.9" r="2.45"/><circle cx="402" cy="368.2" r="2.45"/><circle cx="402.3" cy="376.4" r="2.45"/><circle cx="402.5" cy="391" r="2.45"/><circle cx="402.8" cy="382.8" r="2.45"/><circle cx="403" cy="380.5" r="2.45"/><circle cx="403.3" cy="386.5" r="2.45"/><circle cx="403.5" cy="375.6" r="2.45"/><circle cx="403.8" cy="384.5" r="2.45"/><circle cx="404" cy="369.3" r="2.45"/><circle cx="404.3" cy="373.6" r="2.45"/><circle cx="404.5" cy="369.4" r="2.45"/><circle cx="404.8" cy="364" r="2.45"/><circle cx="405" cy="379.9" r="2.45"/><circle cx="405.3" cy="387.3" r="2.45"/><circle cx="405.5" cy="385.5" r="2.45"/><circle cx="405.8" cy="378.8" r="2.45"/><circle cx="406" cy="384" r="2.45"/><circle cx="406.3" cy="387.9" r="2.45"/><circle cx="406.5" cy="378.3" r="2.45"/><circle cx="406.8" cy="385.2" r="2.45"/><circle cx="407" cy="382.7" r="2.45"/><circle cx="407.3" cy="384.4" r="2.45"/><circle cx="407.5" cy="395.5" r="2.45"/><circle cx="407.8" cy="373.4" r="2.45"/><circle cx="408" cy="385.9" r="2.45"/><circle cx="408.3" cy="380.6" r="2.45"/><circle cx="408.5" cy="385.5" r="2.45"/><circle cx="408.8" cy="383.7" r="2.45"/><circle cx="409" cy="382" r="2.45"/><circle cx="409.3" cy="378.7" r="2.45"/><circle cx="409.5" cy="378.9" r="2.45"/><circle cx="409.8" cy="391.1" r="2.45"/><circle cx="410" cy="382.9" r="2.45"/><circle cx="410.3" cy="394.2" r="2.45"/><circle cx="410.5" cy="380.7" r="2.45"/><circle cx="410.8" cy="376.4" r="2.45"/><circle cx="411" cy="387" r="2.45"/><circle cx="411.3" cy="387.9" r="2.45"/><circle cx="411.5" cy="390.5" r="2.45"/><circle cx="411.8" cy="382.8" r="2.45"/><circle cx="412" cy="393.8" r="2.45"/><circle cx="412.3" cy="385.4" r="2.45"/><circle cx="412.5" cy="387.8" r="2.45"/><circle cx="412.8" cy="381.7" r="2.45"/><circle cx="413" cy="384.1" r="2.45"/><circle cx="413.3" cy="381.9" r="2.45"/><circle cx="413.5" cy="367.5" r="2.45"/><circle cx="413.8" cy="392" r="2.45"/><circle cx="414" cy="387" r="2.45"/><circle cx="414.3" cy="408.3" r="2.45"/><circle cx="414.5" cy="380.6" r="2.45"/><circle cx="414.8" cy="372.2" r="2.45"/><circle cx="415" cy="390.1" r="2.45"/><circle cx="415.3" cy="378.1" r="2.45"/><circle cx="415.5" cy="387.8" r="2.45"/><circle cx="415.8" cy="393.8" r="2.45"/><circle cx="416" cy="381.3" r="2.45"/><circle cx="416.3" cy="386.4" r="2.45"/><circle cx="416.6" cy="382.1" r="2.45"/><circle cx="416.8" cy="390.5" r="2.45"/><circle cx="417.1" cy="405.8" r="2.45"/><circle cx="417.3" cy="386" r="2.45"/><circle cx="417.6" cy="384.3" r="2.45"/><circle cx="417.8" cy="393.3" r="2.45"/><circle cx="418.1" cy="380.5" r="2.45"/><circle cx="418.3" cy="381.7" r="2.45"/><circle cx="418.6" cy="389.2" r="2.45"/><circle cx="418.8" cy="392" r="2.45"/><circle cx="419.1" cy="385.9" r="2.45"/><circle cx="419.3" cy="388.1" r="2.45"/><circle cx="419.6" cy="396.9" r="2.45"/><circle cx="419.8" cy="387" r="2.45"/><circle cx="420.1" cy="385.7" r="2.45"/><circle cx="420.3" cy="389.8" r="2.45"/><circle cx="420.6" cy="383.5" r="2.45"/><circle cx="420.8" cy="383.2" r="2.45"/><circle cx="421.1" cy="397.1" r="2.45"/><circle cx="421.3" cy="378.8" r="2.45"/><circle cx="421.6" cy="386.1" r="2.45"/><circle cx="421.8" cy="390.4" r="2.45"/><circle cx="422.1" cy="398.8" r="2.45"/><circle cx="422.3" cy="396.7" r="2.45"/><circle cx="422.6" cy="401.1" r="2.45"/><circle cx="422.8" cy="380.7" r="2.45"/><circle cx="423.1" cy="367.3" r="2.45"/><circle cx="423.3" cy="386.1" r="2.45"/><circle cx="423.6" cy="378.7" r="2.45"/><circle cx="423.8" cy="405.1" r="2.45"/><circle cx="424.1" cy="394.4" r="2.45"/><circle cx="424.3" cy="394.6" r="2.45"/><circle cx="424.6" cy="383.3" r="2.45"/><circle cx="424.8" cy="397" r="2.45"/><circle cx="425.1" cy="390.7" r="2.45"/><circle cx="425.3" cy="404.7" r="2.45"/><circle cx="425.6" cy="394.2" r="2.45"/><circle cx="425.8" cy="397.1" r="2.45"/><circle cx="426.1" cy="392.7" r="2.45"/><circle cx="426.3" cy="396.9" r="2.45"/><circle cx="426.6" cy="388.6" r="2.45"/><circle cx="426.8" cy="384.1" r="2.45"/><circle cx="427.1" cy="396.7" r="2.45"/><circle cx="427.3" cy="380.9" r="2.45"/><circle cx="427.6" cy="394.2" r="2.45"/><circle cx="427.8" cy="399.8" r="2.45"/><circle cx="428.1" cy="398.6" r="2.45"/><circle cx="428.3" cy="393.4" r="2.45"/><circle cx="428.6" cy="384.3" r="2.45"/><circle cx="428.8" cy="394.6" r="2.45"/><circle cx="429.1" cy="397.1" r="2.45"/><circle cx="429.3" cy="386.4" r="2.45"/><circle cx="429.6" cy="394.4" r="2.45"/><circle cx="429.8" cy="399" r="2.45"/><circle cx="430.1" cy="394.3" r="2.45"/><circle cx="430.3" cy="392.7" r="2.45"/><circle cx="430.6" cy="386" r="2.45"/><circle cx="430.8" cy="388.5" r="2.45"/><circle cx="431.1" cy="406.5" r="2.45"/><circle cx="431.3" cy="413.4" r="2.45"/><circle cx="431.6" cy="403" r="2.45"/><circle cx="431.8" cy="407.8" r="2.45"/><circle cx="432.1" cy="423.4" r="2.45"/><circle cx="432.3" cy="389.6" r="2.45"/><circle cx="432.6" cy="403.4" r="2.45"/><circle cx="432.8" cy="408.4" r="2.45"/><circle cx="433.1" cy="416.1" r="2.45"/><circle cx="433.3" cy="386.1" r="2.45"/><circle cx="433.6" cy="400" r="2.45"/><circle cx="433.8" cy="404.6" r="2.45"/><circle cx="434.1" cy="397.7" r="2.45"/><circle cx="434.3" cy="404.4" r="2.45"/><circle cx="434.6" cy="400.3" r="2.45"/><circle cx="434.8" cy="403.5" r="2.45"/><circle cx="435.1" cy="400.2" r="2.45"/><circle cx="435.3" cy="398.8" r="2.45"/><circle cx="435.6" cy="389.6" r="2.45"/><circle cx="435.8" cy="409.9" r="2.45"/><circle cx="436.1" cy="397.4" r="2.45"/><circle cx="436.3" cy="410.8" r="2.45"/><circle cx="436.6" cy="391.2" r="2.45"/><circle cx="436.8" cy="408.8" r="2.45"/><circle cx="437.1" cy="405.9" r="2.45"/><circle cx="437.3" cy="413.5" r="2.45"/><circle cx="437.6" cy="407.7" r="2.45"/><circle cx="437.8" cy="412.3" r="2.45"/><circle cx="438.1" cy="398.8" r="2.45"/><circle cx="438.3" cy="398.5" r="2.45"/><circle cx="438.6" cy="398.6" r="2.45"/><circle cx="438.9" cy="405.9" r="2.45"/><circle cx="439.1" cy="410.6" r="2.45"/><circle cx="439.4" cy="412.4" r="2.45"/><circle cx="439.6" cy="412.4" r="2.45"/><circle cx="439.9" cy="409.2" r="2.45"/><circle cx="440.1" cy="415.3" r="2.45"/><circle cx="440.4" cy="397.7" r="2.45"/><circle cx="440.6" cy="401.5" r="2.45"/><circle cx="440.9" cy="404.1" r="2.45"/><circle cx="441.1" cy="411.3" r="2.45"/><circle cx="441.4" cy="396" r="2.45"/><circle cx="441.6" cy="414.2" r="2.45"/><circle cx="441.9" cy="395.5" r="2.45"/><circle cx="442.1" cy="424.4" r="2.45"/><circle cx="442.4" cy="416.9" r="2.45"/><circle cx="442.6" cy="410.3" r="2.45"/><circle cx="442.9" cy="398.8" r="2.45"/><circle cx="443.1" cy="399.3" r="2.45"/><circle cx="443.4" cy="408.6" r="2.45"/><circle cx="443.6" cy="397.5" r="2.45"/><circle cx="443.9" cy="409" r="2.45"/><circle cx="444.1" cy="405.3" r="2.45"/><circle cx="444.4" cy="393" r="2.45"/><circle cx="444.6" cy="412.8" r="2.45"/><circle cx="444.9" cy="425.7" r="2.45"/><circle cx="445.1" cy="418.3" r="2.45"/><circle cx="445.6" cy="405" r="2.45"/><circle cx="445.9" cy="406.5" r="2.45"/><circle cx="446.4" cy="423.3" r="2.45"/><circle cx="446.6" cy="402.7" r="2.45"/><circle cx="446.9" cy="403.3" r="2.45"/><circle cx="447.1" cy="409.6" r="2.45"/><circle cx="447.4" cy="419.6" r="2.45"/><circle cx="447.6" cy="426.7" r="2.45"/><circle cx="447.9" cy="415.1" r="2.45"/><circle cx="448.1" cy="418.5" r="2.45"/><circle cx="448.4" cy="403.6" r="2.45"/><circle cx="448.6" cy="418.4" r="2.45"/><circle cx="448.9" cy="407.5" r="2.45"/><circle cx="449.1" cy="411.2" r="2.45"/><circle cx="449.4" cy="416.7" r="2.45"/><circle cx="449.6" cy="414.9" r="2.45"/><circle cx="449.9" cy="416.3" r="2.45"/><circle cx="450.1" cy="407.7" r="2.45"/><circle cx="450.4" cy="414.8" r="2.45"/><circle cx="450.6" cy="416.6" r="2.45"/><circle cx="450.9" cy="415" r="2.45"/><circle cx="451.4" cy="417.1" r="2.45"/><circle cx="451.6" cy="401.1" r="2.45"/><circle cx="451.9" cy="426.1" r="2.45"/><circle cx="452.1" cy="419.3" r="2.45"/><circle cx="452.4" cy="412.1" r="2.45"/><circle cx="452.6" cy="404.4" r="2.45"/><circle cx="452.9" cy="393.1" r="2.45"/><circle cx="453.1" cy="408.2" r="2.45"/><circle cx="453.4" cy="415.5" r="2.45"/><circle cx="453.6" cy="414" r="2.45"/><circle cx="453.9" cy="414" r="2.45"/><circle cx="454.1" cy="423.1" r="2.45"/><circle cx="454.4" cy="412.4" r="2.45"/><circle cx="454.6" cy="431.5" r="2.45"/><circle cx="454.9" cy="432.8" r="2.45"/><circle cx="455.1" cy="416.2" r="2.45"/><circle cx="455.4" cy="429.2" r="2.45"/><circle cx="455.9" cy="425.6" r="2.45"/><circle cx="456.1" cy="427.6" r="2.45"/><circle cx="456.6" cy="416.7" r="2.45"/><circle cx="456.9" cy="425.7" r="2.45"/><circle cx="457.1" cy="416.9" r="2.45"/><circle cx="457.4" cy="426.7" r="2.45"/><circle cx="457.6" cy="423.7" r="2.45"/><circle cx="457.9" cy="411.5" r="2.45"/><circle cx="458.1" cy="420.6" r="2.45"/><circle cx="458.4" cy="410.9" r="2.45"/><circle cx="458.6" cy="428.5" r="2.45"/><circle cx="458.9" cy="429.3" r="2.45"/><circle cx="459.1" cy="414.8" r="2.45"/><circle cx="459.4" cy="426.4" r="2.45"/><circle cx="459.9" cy="426" r="2.45"/><circle cx="460.1" cy="404.3" r="2.45"/><circle cx="460.4" cy="421.8" r="2.45"/><circle cx="460.6" cy="411.1" r="2.45"/><circle cx="461.2" cy="418.9" r="2.45"/><circle cx="461.4" cy="414" r="2.45"/><circle cx="461.7" cy="427.5" r="2.45"/><circle cx="461.9" cy="401.2" r="2.45"/><circle cx="462.2" cy="412.8" r="2.45"/><circle cx="462.4" cy="419.3" r="2.45"/><circle cx="462.7" cy="423.5" r="2.45"/><circle cx="462.9" cy="421.6" r="2.45"/><circle cx="463.4" cy="431" r="2.45"/><circle cx="463.7" cy="415.4" r="2.45"/><circle cx="464.4" cy="422.2" r="2.45"/><circle cx="464.7" cy="414" r="2.45"/><circle cx="465.2" cy="413.2" r="2.45"/><circle cx="465.4" cy="406" r="2.45"/><circle cx="465.7" cy="422.6" r="2.45"/><circle cx="465.9" cy="427.4" r="2.45"/><circle cx="466.2" cy="424.1" r="2.45"/><circle cx="466.4" cy="423.3" r="2.45"/><circle cx="466.7" cy="420.2" r="2.45"/><circle cx="467.2" cy="422.9" r="2.45"/><circle cx="467.4" cy="421" r="2.45"/><circle cx="467.7" cy="409.1" r="2.45"/><circle cx="467.9" cy="432.8" r="2.45"/><circle cx="468.2" cy="417.6" r="2.45"/><circle cx="468.7" cy="417.9" r="2.45"/><circle cx="469.7" cy="430.1" r="2.45"/><circle cx="469.9" cy="425.6" r="2.45"/><circle cx="470.2" cy="424" r="2.45"/><circle cx="470.9" cy="430.6" r="2.45"/><circle cx="471.4" cy="409.8" r="2.45"/><circle cx="471.7" cy="425.7" r="2.45"/><circle cx="472.2" cy="433" r="2.45"/><circle cx="472.4" cy="429.3" r="2.45"/><circle cx="472.7" cy="422.5" r="2.45"/><circle cx="473.7" cy="427.5" r="2.45"/><circle cx="473.9" cy="411.4" r="2.45"/><circle cx="474.2" cy="431.3" r="2.45"/><circle cx="474.4" cy="425.3" r="2.45"/><circle cx="474.7" cy="418" r="2.45"/><circle cx="474.9" cy="427.4" r="2.45"/><circle cx="475.2" cy="414" r="2.45"/><circle cx="475.4" cy="409.3" r="2.45"/><circle cx="475.9" cy="425.7" r="2.45"/><circle cx="476.7" cy="425.1" r="2.45"/><circle cx="477.2" cy="418.5" r="2.45"/><circle cx="477.7" cy="418.4" r="2.45"/><circle cx="478.4" cy="430.8" r="2.45"/><circle cx="478.9" cy="412.4" r="2.45"/><circle cx="479.2" cy="415.4" r="2.45"/><circle cx="479.4" cy="429.6" r="2.45"/><circle cx="479.7" cy="421.1" r="2.45"/><circle cx="479.9" cy="415.4" r="2.45"/><circle cx="480.2" cy="422.3" r="2.45"/><circle cx="480.4" cy="425.2" r="2.45"/><circle cx="481.4" cy="429.9" r="2.45"/><circle cx="481.9" cy="427.6" r="2.45"/><circle cx="482.2" cy="423" r="2.45"/><circle cx="482.4" cy="422.2" r="2.45"/><circle cx="483" cy="424.8" r="2.45"/><circle cx="486.2" cy="432" r="2.45"/><circle cx="486.5" cy="433.3" r="2.45"/><circle cx="487.7" cy="424.5" r="2.45"/><circle cx="489.7" cy="422.9" r="2.45"/><circle cx="495.2" cy="424.5" r="2.45"/><circle cx="497" cy="428" r="2.45"/><circle cx="498.2" cy="433.1" r="2.45"/><circle cx="500.5" cy="430.6" r="2.45"/><circle cx="501.5" cy="431.8" r="2.45"/><circle cx="504" cy="427.4" r="2.45"/><circle cx="504.5" cy="429" r="2.45"/>
</g>
<g fill="url(#r)" class="D" clip-path="url(#cd)">
<circle cx="305.8" cy="266.1" r="2.45"/><circle cx="306.1" cy="273.4" r="2.45"/><circle cx="306.3" cy="273.5" r="2.45"/><circle cx="306.6" cy="279.1" r="2.45"/><circle cx="306.8" cy="270.6" r="2.45"/><circle cx="307.1" cy="282.2" r="2.45"/><circle cx="307.3" cy="273.1" r="2.45"/><circle cx="307.6" cy="277.5" r="2.45"/><circle cx="307.8" cy="282.6" r="2.45"/><circle cx="308.1" cy="279.7" r="2.45"/><circle cx="308.3" cy="281.6" r="2.45"/><circle cx="308.6" cy="278.1" r="2.45"/><circle cx="308.8" cy="277.4" r="2.45"/><circle cx="309.1" cy="281.4" r="2.45"/><circle cx="309.3" cy="279.4" r="2.45"/><circle cx="309.6" cy="286.2" r="2.45"/><circle cx="309.8" cy="283.3" r="2.45"/><circle cx="310.1" cy="289.9" r="2.45"/><circle cx="310.3" cy="287" r="2.45"/><circle cx="310.6" cy="286.8" r="2.45"/><circle cx="310.8" cy="284.2" r="2.45"/><circle cx="311.1" cy="280.1" r="2.45"/><circle cx="311.3" cy="281.9" r="2.45"/><circle cx="311.6" cy="288.3" r="2.45"/><circle cx="311.8" cy="288.8" r="2.45"/><circle cx="312.1" cy="294" r="2.45"/><circle cx="312.3" cy="282.4" r="2.45"/><circle cx="312.6" cy="291.3" r="2.45"/><circle cx="312.8" cy="280.5" r="2.45"/><circle cx="313.1" cy="285.4" r="2.45"/><circle cx="313.3" cy="283.6" r="2.45"/><circle cx="313.6" cy="294.9" r="2.45"/><circle cx="313.8" cy="289.9" r="2.45"/><circle cx="314.1" cy="294" r="2.45"/><circle cx="314.3" cy="297" r="2.45"/><circle cx="314.6" cy="289.1" r="2.45"/><circle cx="314.8" cy="298" r="2.45"/><circle cx="315.1" cy="291.8" r="2.45"/><circle cx="315.3" cy="302.1" r="2.45"/><circle cx="315.6" cy="296.7" r="2.45"/><circle cx="315.8" cy="296.1" r="2.45"/><circle cx="316.1" cy="294.2" r="2.45"/><circle cx="316.3" cy="303.8" r="2.45"/><circle cx="316.6" cy="294.5" r="2.45"/><circle cx="316.8" cy="303.1" r="2.45"/><circle cx="317.1" cy="299.9" r="2.45"/><circle cx="317.3" cy="300.4" r="2.45"/><circle cx="317.6" cy="296.8" r="2.45"/><circle cx="317.8" cy="299.1" r="2.45"/><circle cx="318.1" cy="298.6" r="2.45"/><circle cx="318.3" cy="302.7" r="2.45"/><circle cx="318.6" cy="296.9" r="2.45"/><circle cx="318.8" cy="297" r="2.45"/><circle cx="319.1" cy="308.1" r="2.45"/><circle cx="319.3" cy="307.4" r="2.45"/><circle cx="319.6" cy="303.5" r="2.45"/><circle cx="319.8" cy="311.7" r="2.45"/><circle cx="320.1" cy="307.1" r="2.45"/><circle cx="320.3" cy="304.6" r="2.45"/><circle cx="320.6" cy="313" r="2.45"/><circle cx="320.8" cy="308.6" r="2.45"/><circle cx="321.1" cy="306.3" r="2.45"/><circle cx="321.4" cy="304.2" r="2.45"/><circle cx="321.6" cy="309.2" r="2.45"/><circle cx="321.9" cy="313.9" r="2.45"/><circle cx="322.1" cy="309" r="2.45"/><circle cx="322.4" cy="306.3" r="2.45"/><circle cx="322.6" cy="312" r="2.45"/><circle cx="322.9" cy="307.8" r="2.45"/><circle cx="323.1" cy="319.9" r="2.45"/><circle cx="323.4" cy="307.1" r="2.45"/><circle cx="323.6" cy="312.5" r="2.45"/><circle cx="323.9" cy="306.8" r="2.45"/><circle cx="324.1" cy="321.8" r="2.45"/><circle cx="324.4" cy="313.9" r="2.45"/><circle cx="324.6" cy="315.8" r="2.45"/><circle cx="324.9" cy="311.3" r="2.45"/><circle cx="325.1" cy="310.5" r="2.45"/><circle cx="325.4" cy="323.9" r="2.45"/><circle cx="325.6" cy="318.6" r="2.45"/><circle cx="325.9" cy="314.1" r="2.45"/><circle cx="326.1" cy="316.7" r="2.45"/><circle cx="326.4" cy="316.4" r="2.45"/><circle cx="326.6" cy="326" r="2.45"/><circle cx="326.9" cy="312.3" r="2.45"/><circle cx="327.1" cy="314.5" r="2.45"/><circle cx="327.4" cy="313.7" r="2.45"/><circle cx="327.6" cy="322.1" r="2.45"/><circle cx="327.9" cy="319.4" r="2.45"/><circle cx="328.1" cy="322.2" r="2.45"/><circle cx="328.4" cy="315.2" r="2.45"/><circle cx="328.6" cy="323.6" r="2.45"/><circle cx="328.9" cy="330.7" r="2.45"/><circle cx="329.1" cy="324" r="2.45"/><circle cx="329.4" cy="319.3" r="2.45"/><circle cx="329.6" cy="334.5" r="2.45"/><circle cx="329.9" cy="322.9" r="2.45"/><circle cx="330.1" cy="326.6" r="2.45"/><circle cx="330.4" cy="320.1" r="2.45"/><circle cx="330.6" cy="317" r="2.45"/><circle cx="330.9" cy="315.9" r="2.45"/><circle cx="331.1" cy="329.8" r="2.45"/><circle cx="331.4" cy="330.2" r="2.45"/><circle cx="331.6" cy="323" r="2.45"/><circle cx="331.9" cy="333" r="2.45"/><circle cx="332.1" cy="322" r="2.45"/><circle cx="332.4" cy="329.5" r="2.45"/><circle cx="332.6" cy="320.8" r="2.45"/><circle cx="332.9" cy="328.6" r="2.45"/><circle cx="333.1" cy="328.1" r="2.45"/><circle cx="333.4" cy="324.7" r="2.45"/><circle cx="333.6" cy="327.8" r="2.45"/><circle cx="333.9" cy="329.2" r="2.45"/><circle cx="334.1" cy="326.8" r="2.45"/><circle cx="334.4" cy="326.9" r="2.45"/><circle cx="334.6" cy="340.9" r="2.45"/><circle cx="334.9" cy="331" r="2.45"/><circle cx="335.1" cy="335.3" r="2.45"/><circle cx="335.4" cy="341.1" r="2.45"/><circle cx="335.6" cy="350.5" r="2.45"/><circle cx="335.9" cy="330.6" r="2.45"/><circle cx="336.2" cy="335.7" r="2.45"/><circle cx="336.4" cy="331.6" r="2.45"/><circle cx="336.7" cy="326.9" r="2.45"/><circle cx="336.9" cy="332.1" r="2.45"/><circle cx="337.2" cy="346.6" r="2.45"/><circle cx="337.4" cy="322.8" r="2.45"/><circle cx="337.7" cy="335.4" r="2.45"/><circle cx="337.9" cy="333.9" r="2.45"/><circle cx="338.2" cy="339.2" r="2.45"/><circle cx="338.4" cy="338.5" r="2.45"/><circle cx="338.7" cy="338.4" r="2.45"/><circle cx="338.9" cy="337.5" r="2.45"/><circle cx="339.2" cy="335.6" r="2.45"/><circle cx="339.4" cy="334.1" r="2.45"/><circle cx="339.7" cy="336.7" r="2.45"/><circle cx="339.9" cy="332.3" r="2.45"/><circle cx="340.2" cy="337.8" r="2.45"/><circle cx="340.4" cy="339.6" r="2.45"/><circle cx="340.7" cy="342.3" r="2.45"/><circle cx="340.9" cy="341.7" r="2.45"/><circle cx="341.2" cy="337.9" r="2.45"/><circle cx="341.4" cy="338.8" r="2.45"/><circle cx="341.7" cy="340.3" r="2.45"/><circle cx="341.9" cy="345.3" r="2.45"/><circle cx="342.2" cy="343.4" r="2.45"/><circle cx="342.4" cy="345.4" r="2.45"/><circle cx="342.7" cy="342.2" r="2.45"/><circle cx="342.9" cy="340.9" r="2.45"/><circle cx="343.2" cy="333.2" r="2.45"/><circle cx="343.4" cy="346.3" r="2.45"/><circle cx="343.7" cy="357.5" r="2.45"/><circle cx="343.9" cy="340.7" r="2.45"/><circle cx="344.2" cy="349" r="2.45"/><circle cx="344.4" cy="347.5" r="2.45"/><circle cx="344.7" cy="339.2" r="2.45"/><circle cx="344.9" cy="342.1" r="2.45"/><circle cx="345.2" cy="348.9" r="2.45"/><circle cx="345.4" cy="350.5" r="2.45"/><circle cx="345.7" cy="348.6" r="2.45"/><circle cx="345.9" cy="351.1" r="2.45"/><circle cx="346.2" cy="345.5" r="2.45"/><circle cx="346.4" cy="348.1" r="2.45"/><circle cx="346.7" cy="335.9" r="2.45"/><circle cx="346.9" cy="345.8" r="2.45"/><circle cx="347.2" cy="346.6" r="2.45"/><circle cx="347.4" cy="339.3" r="2.45"/><circle cx="347.7" cy="340" r="2.45"/><circle cx="347.9" cy="348.9" r="2.45"/><circle cx="348.2" cy="348.4" r="2.45"/><circle cx="348.4" cy="357.5" r="2.45"/><circle cx="348.7" cy="343.1" r="2.45"/><circle cx="348.9" cy="354.9" r="2.45"/><circle cx="349.2" cy="353.6" r="2.45"/><circle cx="349.4" cy="342.2" r="2.45"/><circle cx="349.7" cy="346.4" r="2.45"/><circle cx="349.9" cy="350.4" r="2.45"/><circle cx="350.2" cy="342" r="2.45"/><circle cx="350.4" cy="357.9" r="2.45"/><circle cx="350.7" cy="352.3" r="2.45"/><circle cx="350.9" cy="347.1" r="2.45"/><circle cx="351.2" cy="353.5" r="2.45"/><circle cx="351.5" cy="351.6" r="2.45"/><circle cx="351.7" cy="353.5" r="2.45"/><circle cx="352" cy="350.9" r="2.45"/><circle cx="352.2" cy="343.8" r="2.45"/><circle cx="352.5" cy="346.6" r="2.45"/><circle cx="352.7" cy="349.9" r="2.45"/><circle cx="353" cy="357.2" r="2.45"/><circle cx="353.2" cy="351.5" r="2.45"/><circle cx="353.5" cy="359.5" r="2.45"/><circle cx="353.7" cy="353.1" r="2.45"/><circle cx="354" cy="353.6" r="2.45"/><circle cx="354.2" cy="364.7" r="2.45"/><circle cx="354.5" cy="345.7" r="2.45"/><circle cx="354.7" cy="358.1" r="2.45"/><circle cx="355" cy="372.2" r="2.45"/><circle cx="355.2" cy="356.1" r="2.45"/><circle cx="355.5" cy="364.3" r="2.45"/><circle cx="355.7" cy="355" r="2.45"/><circle cx="356" cy="352.8" r="2.45"/><circle cx="356.2" cy="361" r="2.45"/><circle cx="356.5" cy="349.3" r="2.45"/><circle cx="356.7" cy="364.3" r="2.45"/><circle cx="357" cy="356.2" r="2.45"/><circle cx="357.2" cy="367.3" r="2.45"/><circle cx="357.5" cy="360.3" r="2.45"/><circle cx="357.7" cy="366.9" r="2.45"/><circle cx="358" cy="363.7" r="2.45"/><circle cx="358.2" cy="363.4" r="2.45"/><circle cx="358.5" cy="354.6" r="2.45"/><circle cx="358.7" cy="367.1" r="2.45"/><circle cx="359" cy="366.8" r="2.45"/><circle cx="359.2" cy="359.4" r="2.45"/><circle cx="359.5" cy="364.2" r="2.45"/><circle cx="359.7" cy="360.4" r="2.45"/><circle cx="360" cy="362.7" r="2.45"/><circle cx="360.2" cy="364.2" r="2.45"/><circle cx="360.5" cy="364.4" r="2.45"/><circle cx="360.7" cy="359.5" r="2.45"/><circle cx="361" cy="361.7" r="2.45"/><circle cx="361.2" cy="367.1" r="2.45"/><circle cx="361.5" cy="361.2" r="2.45"/><circle cx="361.7" cy="368.3" r="2.45"/><circle cx="362" cy="351.8" r="2.45"/><circle cx="362.2" cy="371.2" r="2.45"/><circle cx="362.5" cy="356.6" r="2.45"/><circle cx="362.7" cy="371.1" r="2.45"/><circle cx="363" cy="378.1" r="2.45"/><circle cx="363.2" cy="380.7" r="2.45"/><circle cx="363.5" cy="367.3" r="2.45"/><circle cx="363.7" cy="363.1" r="2.45"/><circle cx="364" cy="367.6" r="2.45"/><circle cx="364.2" cy="364.5" r="2.45"/><circle cx="364.5" cy="362.2" r="2.45"/><circle cx="364.7" cy="369.9" r="2.45"/><circle cx="365" cy="379.9" r="2.45"/><circle cx="365.2" cy="364.9" r="2.45"/><circle cx="365.5" cy="371.3" r="2.45"/><circle cx="365.7" cy="380.4" r="2.45"/><circle cx="366" cy="368" r="2.45"/><circle cx="366.2" cy="375.5" r="2.45"/><circle cx="366.5" cy="365.5" r="2.45"/><circle cx="366.8" cy="365.6" r="2.45"/><circle cx="367" cy="369.6" r="2.45"/><circle cx="367.3" cy="364.9" r="2.45"/><circle cx="367.5" cy="364.2" r="2.45"/><circle cx="367.8" cy="372.2" r="2.45"/><circle cx="368" cy="369.6" r="2.45"/><circle cx="368.3" cy="366.2" r="2.45"/><circle cx="368.5" cy="363.4" r="2.45"/><circle cx="368.8" cy="368.3" r="2.45"/><circle cx="369" cy="370.2" r="2.45"/><circle cx="369.3" cy="371.1" r="2.45"/><circle cx="369.5" cy="376.7" r="2.45"/><circle cx="369.8" cy="375.5" r="2.45"/><circle cx="370" cy="378.2" r="2.45"/><circle cx="370.3" cy="368" r="2.45"/><circle cx="370.5" cy="371" r="2.45"/><circle cx="370.8" cy="370.3" r="2.45"/><circle cx="371" cy="362.9" r="2.45"/><circle cx="371.3" cy="375" r="2.45"/><circle cx="371.5" cy="378.5" r="2.45"/><circle cx="371.8" cy="369.7" r="2.45"/><circle cx="372" cy="379.9" r="2.45"/><circle cx="372.3" cy="368.3" r="2.45"/><circle cx="372.5" cy="379.6" r="2.45"/><circle cx="372.8" cy="378.9" r="2.45"/><circle cx="373" cy="371" r="2.45"/><circle cx="373.3" cy="376.5" r="2.45"/><circle cx="373.5" cy="376.9" r="2.45"/><circle cx="373.8" cy="391.5" r="2.45"/><circle cx="374" cy="370.9" r="2.45"/><circle cx="374.3" cy="380.4" r="2.45"/><circle cx="374.5" cy="380.5" r="2.45"/><circle cx="374.8" cy="368.2" r="2.45"/><circle cx="375" cy="376.7" r="2.45"/><circle cx="375.3" cy="371.7" r="2.45"/><circle cx="375.5" cy="390.8" r="2.45"/><circle cx="375.8" cy="381.1" r="2.45"/><circle cx="376" cy="368" r="2.45"/><circle cx="376.3" cy="379.5" r="2.45"/><circle cx="376.5" cy="391.1" r="2.45"/><circle cx="376.8" cy="371.1" r="2.45"/><circle cx="377" cy="379.5" r="2.45"/><circle cx="377.3" cy="379.9" r="2.45"/><circle cx="377.5" cy="384.4" r="2.45"/><circle cx="377.8" cy="382.2" r="2.45"/><circle cx="378" cy="378.8" r="2.45"/><circle cx="378.3" cy="371" r="2.45"/><circle cx="378.5" cy="368" r="2.45"/><circle cx="378.8" cy="392" r="2.45"/><circle cx="379" cy="372" r="2.45"/><circle cx="379.3" cy="373.9" r="2.45"/><circle cx="379.5" cy="391.5" r="2.45"/><circle cx="379.8" cy="380.5" r="2.45"/><circle cx="380" cy="387.5" r="2.45"/><circle cx="380.3" cy="391.2" r="2.45"/><circle cx="380.5" cy="374.9" r="2.45"/><circle cx="380.8" cy="378.9" r="2.45"/><circle cx="381" cy="387.1" r="2.45"/><circle cx="381.3" cy="390.3" r="2.45"/><circle cx="381.6" cy="393" r="2.45"/><circle cx="381.8" cy="388" r="2.45"/><circle cx="382.1" cy="396.6" r="2.45"/><circle cx="382.3" cy="382.5" r="2.45"/><circle cx="382.6" cy="374.6" r="2.45"/><circle cx="382.8" cy="396.7" r="2.45"/><circle cx="383.1" cy="381.7" r="2.45"/><circle cx="383.3" cy="389.3" r="2.45"/><circle cx="383.6" cy="380.7" r="2.45"/><circle cx="383.8" cy="381.9" r="2.45"/><circle cx="384.1" cy="387.2" r="2.45"/><circle cx="384.3" cy="388.6" r="2.45"/><circle cx="384.6" cy="408.8" r="2.45"/><circle cx="384.8" cy="390" r="2.45"/><circle cx="385.1" cy="378" r="2.45"/><circle cx="385.3" cy="381" r="2.45"/><circle cx="385.6" cy="384.1" r="2.45"/><circle cx="385.8" cy="387.5" r="2.45"/><circle cx="386.1" cy="382" r="2.45"/><circle cx="386.3" cy="386.7" r="2.45"/><circle cx="386.6" cy="387" r="2.45"/><circle cx="386.8" cy="390" r="2.45"/><circle cx="387.1" cy="402.9" r="2.45"/><circle cx="387.3" cy="378.5" r="2.45"/><circle cx="387.6" cy="390.9" r="2.45"/><circle cx="387.8" cy="390.7" r="2.45"/><circle cx="388.1" cy="385.6" r="2.45"/><circle cx="388.3" cy="387.7" r="2.45"/><circle cx="388.6" cy="397.2" r="2.45"/><circle cx="388.8" cy="400" r="2.45"/><circle cx="389.1" cy="396" r="2.45"/><circle cx="389.3" cy="398.2" r="2.45"/><circle cx="389.6" cy="375.6" r="2.45"/><circle cx="389.8" cy="389.7" r="2.45"/><circle cx="390.1" cy="386.4" r="2.45"/><circle cx="390.3" cy="389.3" r="2.45"/><circle cx="390.6" cy="394.3" r="2.45"/><circle cx="390.8" cy="392.2" r="2.45"/><circle cx="391.1" cy="391.1" r="2.45"/><circle cx="391.3" cy="390.4" r="2.45"/><circle cx="391.6" cy="397.4" r="2.45"/><circle cx="391.8" cy="388.5" r="2.45"/><circle cx="392.1" cy="405.2" r="2.45"/><circle cx="392.3" cy="394.3" r="2.45"/><circle cx="392.6" cy="393.3" r="2.45"/><circle cx="392.8" cy="400.2" r="2.45"/><circle cx="393.1" cy="407.5" r="2.45"/><circle cx="393.3" cy="384" r="2.45"/><circle cx="393.6" cy="396.1" r="2.45"/><circle cx="393.8" cy="388.8" r="2.45"/><circle cx="394.1" cy="404.6" r="2.45"/><circle cx="394.3" cy="423.3" r="2.45"/><circle cx="394.6" cy="392.7" r="2.45"/><circle cx="394.8" cy="403.9" r="2.45"/><circle cx="395.1" cy="385" r="2.45"/><circle cx="395.3" cy="401" r="2.45"/><circle cx="395.6" cy="413.9" r="2.45"/><circle cx="395.8" cy="416.6" r="2.45"/><circle cx="396.1" cy="388.1" r="2.45"/><circle cx="396.3" cy="397.9" r="2.45"/><circle cx="396.6" cy="399.4" r="2.45"/><circle cx="396.9" cy="405.1" r="2.45"/><circle cx="397.1" cy="399.2" r="2.45"/><circle cx="397.4" cy="419.1" r="2.45"/><circle cx="397.6" cy="409.2" r="2.45"/><circle cx="397.9" cy="394.4" r="2.45"/><circle cx="398.1" cy="401.8" r="2.45"/><circle cx="398.4" cy="412.8" r="2.45"/><circle cx="398.6" cy="387.1" r="2.45"/><circle cx="398.9" cy="402.2" r="2.45"/><circle cx="399.1" cy="404.8" r="2.45"/><circle cx="399.4" cy="396.5" r="2.45"/><circle cx="399.6" cy="385.3" r="2.45"/><circle cx="399.9" cy="404.5" r="2.45"/><circle cx="400.1" cy="403.7" r="2.45"/><circle cx="400.4" cy="403.4" r="2.45"/><circle cx="400.6" cy="413.9" r="2.45"/><circle cx="400.9" cy="405.9" r="2.45"/><circle cx="401.1" cy="400.4" r="2.45"/><circle cx="401.4" cy="403.3" r="2.45"/><circle cx="401.6" cy="409.1" r="2.45"/><circle cx="401.9" cy="396.4" r="2.45"/><circle cx="402.1" cy="414.6" r="2.45"/><circle cx="402.4" cy="398.2" r="2.45"/><circle cx="402.6" cy="414.6" r="2.45"/><circle cx="402.9" cy="418.4" r="2.45"/><circle cx="403.1" cy="403" r="2.45"/><circle cx="403.4" cy="428.4" r="2.45"/><circle cx="403.6" cy="399.2" r="2.45"/><circle cx="403.9" cy="409.1" r="2.45"/><circle cx="404.1" cy="423.2" r="2.45"/><circle cx="404.4" cy="409.3" r="2.45"/><circle cx="404.6" cy="403.3" r="2.45"/><circle cx="404.9" cy="422.4" r="2.45"/><circle cx="405.1" cy="413.4" r="2.45"/><circle cx="405.4" cy="401.1" r="2.45"/><circle cx="405.6" cy="429.5" r="2.45"/><circle cx="405.9" cy="406.6" r="2.45"/><circle cx="406.1" cy="403.2" r="2.45"/><circle cx="406.4" cy="430.9" r="2.45"/><circle cx="406.6" cy="404.2" r="2.45"/><circle cx="406.9" cy="424.4" r="2.45"/><circle cx="407.1" cy="414.7" r="2.45"/><circle cx="407.4" cy="399.2" r="2.45"/><circle cx="407.6" cy="420.9" r="2.45"/><circle cx="407.9" cy="414" r="2.45"/><circle cx="408.1" cy="415.2" r="2.45"/><circle cx="408.4" cy="396.6" r="2.45"/><circle cx="408.6" cy="399.7" r="2.45"/><circle cx="408.9" cy="411.2" r="2.45"/><circle cx="409.1" cy="404.6" r="2.45"/><circle cx="409.4" cy="416.7" r="2.45"/><circle cx="409.6" cy="422.6" r="2.45"/><circle cx="409.9" cy="413.7" r="2.45"/><circle cx="410.1" cy="427.8" r="2.45"/><circle cx="410.4" cy="414.5" r="2.45"/><circle cx="410.6" cy="408.9" r="2.45"/><circle cx="410.9" cy="401.1" r="2.45"/><circle cx="411.1" cy="407.5" r="2.45"/><circle cx="411.4" cy="405.1" r="2.45"/><circle cx="411.6" cy="416.9" r="2.45"/><circle cx="411.9" cy="424.2" r="2.45"/><circle cx="412.2" cy="423" r="2.45"/><circle cx="412.4" cy="401" r="2.45"/><circle cx="412.7" cy="416.8" r="2.45"/><circle cx="412.9" cy="412.5" r="2.45"/><circle cx="413.2" cy="417.2" r="2.45"/><circle cx="413.4" cy="406.4" r="2.45"/><circle cx="413.9" cy="418.4" r="2.45"/><circle cx="414.2" cy="424.5" r="2.45"/><circle cx="414.7" cy="422.4" r="2.45"/><circle cx="414.9" cy="422.9" r="2.45"/><circle cx="415.2" cy="412.9" r="2.45"/><circle cx="415.7" cy="426.2" r="2.45"/><circle cx="415.9" cy="410.9" r="2.45"/><circle cx="416.2" cy="401.5" r="2.45"/><circle cx="416.4" cy="420.6" r="2.45"/><circle cx="416.7" cy="418" r="2.45"/><circle cx="416.9" cy="416.6" r="2.45"/><circle cx="417.2" cy="425.5" r="2.45"/><circle cx="417.4" cy="420.9" r="2.45"/><circle cx="417.7" cy="433.4" r="2.45"/><circle cx="417.9" cy="407.5" r="2.45"/><circle cx="418.2" cy="414.8" r="2.45"/><circle cx="418.4" cy="425.8" r="2.45"/><circle cx="418.7" cy="428.3" r="2.45"/><circle cx="419.2" cy="409.6" r="2.45"/><circle cx="419.4" cy="421.2" r="2.45"/><circle cx="419.7" cy="414.6" r="2.45"/><circle cx="419.9" cy="414.5" r="2.45"/><circle cx="420.2" cy="432.5" r="2.45"/><circle cx="420.4" cy="431" r="2.45"/><circle cx="420.7" cy="413.2" r="2.45"/><circle cx="420.9" cy="426.3" r="2.45"/><circle cx="421.2" cy="419.8" r="2.45"/><circle cx="421.7" cy="425.6" r="2.45"/><circle cx="421.9" cy="420.9" r="2.45"/><circle cx="422.2" cy="418.5" r="2.45"/><circle cx="422.4" cy="423.1" r="2.45"/><circle cx="422.7" cy="425.1" r="2.45"/><circle cx="423.2" cy="417.7" r="2.45"/><circle cx="423.4" cy="431.9" r="2.45"/><circle cx="423.7" cy="417.5" r="2.45"/><circle cx="424.2" cy="431.6" r="2.45"/><circle cx="424.4" cy="424.8" r="2.45"/><circle cx="424.9" cy="428.4" r="2.45"/><circle cx="425.4" cy="424" r="2.45"/><circle cx="425.9" cy="431.2" r="2.45"/><circle cx="427.7" cy="432.2" r="2.45"/><circle cx="428" cy="425.7" r="2.45"/><circle cx="429.2" cy="419.1" r="2.45"/><circle cx="430" cy="428.7" r="2.45"/><circle cx="430.2" cy="433.4" r="2.45"/><circle cx="430.7" cy="423.6" r="2.45"/><circle cx="431.2" cy="431.3" r="2.45"/><circle cx="432.7" cy="416.9" r="2.45"/><circle cx="436" cy="421.8" r="2.45"/>
</g>
<rect x="33.5" y="147.4" width="65" height="18.9" fill="#c9474c" stroke="#6a6a6a" stroke-width="0.9"/>
<rect x="33.5" y="166.3" width="65" height="11.1" fill="#fff" stroke="#6a6a6a" stroke-width="0.9"/>
<text x="66" y="159.9" font-size="10.5" text-anchor="middle" fill="#fff" class="w">Perovskite</text>
<text x="66" y="174.9" font-size="7.9" text-anchor="middle" fill="#2a2a2a">Glass</text>
<rect x="33.5" y="346.7" width="65" height="10.6" fill="#b35b9b" stroke="#6a6a6a" stroke-width="0.9"/>
<rect x="33.5" y="357.3" width="65" height="18.0" fill="#c9474c" stroke="#6a6a6a" stroke-width="0.9"/>
<rect x="33.5" y="375.3" width="65" height="12.2" fill="#fff" stroke="#6a6a6a" stroke-width="0.9"/>
<text class="w" x="60.6" y="353.9" font-size="6.6" fill="#fff">C<tspan font-size="4.6" dy="1.7">60</tspan></text>
<text x="66" y="368.9" font-size="10.5" text-anchor="middle" fill="#fff" class="w">Perovskite</text>
<text x="66" y="385" font-size="7.9" text-anchor="middle" fill="#2a2a2a">Glass</text>
<circle cx="39" cy="29.4" r="2.7" fill="url(#k)"/>
<text x="52.3" y="33.3" font-size="9.8" text-anchor="start" fill="#1a1a1a">Control</text>
<circle cx="39" cy="40.7" r="2.7" fill="url(#o)"/>
<text x="52.3" y="44.6" font-size="9.8" text-anchor="start" fill="#1a1a1a">PEACl/IPA</text>
<circle cx="39" cy="52" r="2.7" fill="url(#r)"/>
<text x="52.3" y="55.9" font-size="9.8" text-anchor="start" fill="#1a1a1a">PEACl/DMSO+IPA</text>
<circle cx="437.9" cy="31.6" r="2.7" fill="url(#k)"/>
<text x="451.7" y="35.5" font-size="9.8" text-anchor="start" fill="#1a1a1a">Control</text>
<circle cx="437.9" cy="43.3" r="2.7" fill="url(#o)"/>
<text x="451.7" y="47.2" font-size="9.8" text-anchor="start" fill="#1a1a1a">PEACl/IPA</text>
<circle cx="437.9" cy="55" r="2.7" fill="url(#r)"/>
<text x="451.7" y="58.9" font-size="9.8" text-anchor="start" fill="#1a1a1a">PEACl/DMSO+IPA</text>
<circle cx="38.2" cy="250.4" r="2.7" fill="url(#k)"/>
<text x="51.7" y="254.3" font-size="9.8" text-anchor="start" fill="#1a1a1a">Control</text>
<circle cx="38.2" cy="262" r="2.7" fill="url(#o)"/>
<text x="51.7" y="265.9" font-size="9.8" text-anchor="start" fill="#1a1a1a">PEACl/IPA</text>
<circle cx="38.2" cy="273.6" r="2.7" fill="url(#r)"/>
<text x="51.7" y="277.5" font-size="9.8" text-anchor="start" fill="#1a1a1a">PEACl/DMSO+IPA</text>
<circle cx="437.9" cy="253.1" r="2.7" fill="url(#k)"/>
<text x="451.8" y="257" font-size="9.8" text-anchor="start" fill="#1a1a1a">Control</text>
<circle cx="437.9" cy="264.9" r="2.7" fill="url(#o)"/>
<text x="451.8" y="268.8" font-size="9.8" text-anchor="start" fill="#1a1a1a">PEACl/IPA</text>
<circle cx="437.9" cy="276.7" r="2.7" fill="url(#r)"/>
<text x="451.8" y="280.6" font-size="9.8" text-anchor="start" fill="#1a1a1a">PEACl/DMSO+IPA</text>
<text x="4.2" y="19.9" font-size="21" text-anchor="start" fill="#111" class="w">a</text>
<text x="286.6" y="19.9" font-size="21" text-anchor="start" fill="#111" class="w">b</text>
<text x="5" y="240.3" font-size="21" text-anchor="start" fill="#111" class="w">c</text>
<text x="286.2" y="239.8" font-size="21" text-anchor="start" fill="#111" class="w">d</text>
</svg></body></html>
